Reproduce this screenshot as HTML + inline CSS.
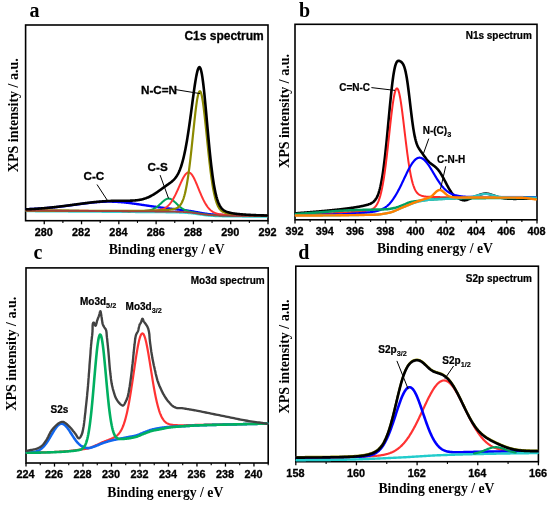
<!DOCTYPE html>
<html><head><meta charset="utf-8"><style>html,body{margin:0;padding:0;background:#fff;overflow:hidden}svg{display:block;will-change:transform}</style></head>
<body><svg width="550" height="507" viewBox="0 0 550 507"><rect x="0" y="0" width="550" height="507" fill="#fff"/>
<rect x="25.6" y="25.0" width="242.4" height="195.7" fill="none" stroke="#000" stroke-width="1.6"/>
<line x1="44.246153846153845" y1="220.7" x2="44.246153846153845" y2="224.29999999999998" stroke="#000" stroke-width="1.3"/>
<text x="0" y="0" transform="translate(43.85,236.3) scale(1.035,1)" font-family='"Liberation Sans", sans-serif' font-size="10.5" font-weight="bold" text-anchor="middle" stroke="#000" stroke-width="0.3" >280</text>
<line x1="81.53846153846155" y1="220.7" x2="81.53846153846155" y2="224.29999999999998" stroke="#000" stroke-width="1.3"/>
<text x="0" y="0" transform="translate(81.14,236.3) scale(1.035,1)" font-family='"Liberation Sans", sans-serif' font-size="10.5" font-weight="bold" text-anchor="middle" stroke="#000" stroke-width="0.3" >282</text>
<line x1="118.83076923076925" y1="220.7" x2="118.83076923076925" y2="224.29999999999998" stroke="#000" stroke-width="1.3"/>
<text x="0" y="0" transform="translate(118.43,236.3) scale(1.035,1)" font-family='"Liberation Sans", sans-serif' font-size="10.5" font-weight="bold" text-anchor="middle" stroke="#000" stroke-width="0.3" >284</text>
<line x1="156.12307692307692" y1="220.7" x2="156.12307692307692" y2="224.29999999999998" stroke="#000" stroke-width="1.3"/>
<text x="0" y="0" transform="translate(155.72,236.3) scale(1.035,1)" font-family='"Liberation Sans", sans-serif' font-size="10.5" font-weight="bold" text-anchor="middle" stroke="#000" stroke-width="0.3" >286</text>
<line x1="193.41538461538462" y1="220.7" x2="193.41538461538462" y2="224.29999999999998" stroke="#000" stroke-width="1.3"/>
<text x="0" y="0" transform="translate(193.02,236.3) scale(1.035,1)" font-family='"Liberation Sans", sans-serif' font-size="10.5" font-weight="bold" text-anchor="middle" stroke="#000" stroke-width="0.3" >288</text>
<line x1="230.70769230769233" y1="220.7" x2="230.70769230769233" y2="224.29999999999998" stroke="#000" stroke-width="1.3"/>
<text x="0" y="0" transform="translate(230.31,236.3) scale(1.035,1)" font-family='"Liberation Sans", sans-serif' font-size="10.5" font-weight="bold" text-anchor="middle" stroke="#000" stroke-width="0.3" >290</text>
<line x1="268.0" y1="220.7" x2="268.0" y2="224.29999999999998" stroke="#000" stroke-width="1.3"/>
<text x="0" y="0" transform="translate(267.6,236.3) scale(1.035,1)" font-family='"Liberation Sans", sans-serif' font-size="10.5" font-weight="bold" text-anchor="middle" stroke="#000" stroke-width="0.3" >292</text>
<line x1="62.892307692307696" y1="220.7" x2="62.892307692307696" y2="222.89999999999998" stroke="#000" stroke-width="1.1"/>
<line x1="100.1846153846154" y1="220.7" x2="100.1846153846154" y2="222.89999999999998" stroke="#000" stroke-width="1.1"/>
<line x1="137.47692307692307" y1="220.7" x2="137.47692307692307" y2="222.89999999999998" stroke="#000" stroke-width="1.1"/>
<line x1="174.76923076923077" y1="220.7" x2="174.76923076923077" y2="222.89999999999998" stroke="#000" stroke-width="1.1"/>
<line x1="212.06153846153848" y1="220.7" x2="212.06153846153848" y2="222.89999999999998" stroke="#000" stroke-width="1.1"/>
<line x1="249.35384615384615" y1="220.7" x2="249.35384615384615" y2="222.89999999999998" stroke="#000" stroke-width="1.1"/>
<path d="M26.4,211.51 L26.9,211.51 L27.4,211.52 L27.9,211.52 L28.4,211.53 L28.9,211.53 L29.4,211.53 L29.9,211.54 L30.4,211.54 L30.9,211.54 L31.4,211.55 L31.9,211.55 L32.4,211.56 L32.9,211.56 L33.4,211.56 L33.9,211.57 L34.4,211.57 L34.9,211.57 L35.4,211.58 L35.9,211.58 L36.4,211.59 L36.9,211.59 L37.4,211.59 L37.9,211.60 L38.4,211.60 L38.9,211.60 L39.4,211.61 L39.9,211.61 L40.4,211.62 L40.9,211.62 L41.4,211.62 L41.9,211.63 L42.4,211.63 L42.9,211.63 L43.4,211.64 L43.9,211.64 L44.4,211.65 L44.9,211.65 L45.4,211.65 L45.9,211.66 L46.4,211.66 L46.9,211.66 L47.4,211.67 L47.9,211.67 L48.4,211.68 L48.9,211.68 L49.4,211.68 L49.9,211.69 L50.4,211.69 L50.9,211.69 L51.4,211.70 L51.9,211.70 L52.4,211.71 L52.9,211.71 L53.4,211.71 L53.9,211.72 L54.4,211.72 L54.9,211.72 L55.4,211.73 L55.9,211.73 L56.4,211.74 L56.9,211.74 L57.4,211.74 L57.9,211.75 L58.4,211.75 L58.9,211.75 L59.4,211.76 L59.9,211.76 L60.4,211.77 L60.9,211.77 L61.4,211.77 L61.9,211.78 L62.4,211.78 L62.9,211.78 L63.4,211.79 L63.9,211.79 L64.4,211.80 L64.9,211.80 L65.4,211.80 L65.9,211.81 L66.4,211.81 L66.9,211.81 L67.4,211.82 L67.9,211.82 L68.4,211.83 L68.9,211.83 L69.4,211.83 L69.9,211.84 L70.4,211.84 L70.9,211.84 L71.4,211.85 L71.9,211.85 L72.4,211.86 L72.9,211.86 L73.4,211.86 L73.9,211.87 L74.4,211.87 L74.9,211.87 L75.4,211.88 L75.9,211.88 L76.4,211.89 L76.9,211.89 L77.4,211.89 L77.9,211.90 L78.4,211.90 L78.9,211.90 L79.4,211.91 L79.9,211.91 L80.4,211.92 L80.9,211.92 L81.4,211.92 L81.9,211.93 L82.4,211.93 L82.9,211.93 L83.4,211.94 L83.9,211.94 L84.4,211.95 L84.9,211.95 L85.4,211.95 L85.9,211.96 L86.4,211.96 L86.9,211.96 L87.4,211.97 L87.9,211.97 L88.4,211.98 L88.9,211.98 L89.4,211.98 L89.9,211.99 L90.4,211.99 L90.9,211.99 L91.4,212.00 L91.9,212.00 L92.4,212.01 L92.9,212.01 L93.4,212.01 L93.9,212.02 L94.4,212.02 L94.9,212.02 L95.4,212.03 L95.9,212.03 L96.4,212.04 L96.9,212.04 L97.4,212.04 L97.9,212.05 L98.4,212.05 L98.9,212.05 L99.4,212.06 L99.9,212.06 L100.4,212.07 L100.9,212.07 L101.4,212.07 L101.9,212.08 L102.4,212.08 L102.9,212.08 L103.4,212.09 L103.9,212.09 L104.4,212.10 L104.9,212.10 L105.4,212.10 L105.9,212.11 L106.4,212.11 L106.9,212.11 L107.4,212.12 L107.9,212.12 L108.4,212.13 L108.9,212.13 L109.4,212.13 L109.9,212.14 L110.4,212.14 L110.9,212.14 L111.4,212.15 L111.9,212.15 L112.4,212.16 L112.9,212.16 L113.4,212.16 L113.9,212.17 L114.4,212.17 L114.9,212.17 L115.4,212.18 L115.9,212.18 L116.4,212.19 L116.9,212.19 L117.4,212.19 L117.9,212.20 L118.4,212.20 L118.9,212.20 L119.4,212.21 L119.9,212.21 L120.4,212.22 L120.9,212.22 L121.4,212.22 L121.9,212.23 L122.4,212.23 L122.9,212.23 L123.4,212.24 L123.9,212.24 L124.4,212.25 L124.9,212.25 L125.4,212.25 L125.9,212.26 L126.4,212.26 L126.9,212.26 L127.4,212.27 L127.9,212.27 L128.4,212.28 L128.9,212.28 L129.4,212.28 L129.9,212.29 L130.4,212.29 L130.9,212.29 L131.4,212.30 L131.9,212.30 L132.4,212.31 L132.9,212.31 L133.4,212.31 L133.9,212.32 L134.4,212.32 L134.9,212.32 L135.4,212.33 L135.9,212.33 L136.4,212.34 L136.9,212.34 L137.4,212.34 L137.9,212.35 L138.4,212.35 L138.9,212.35 L139.4,212.36 L139.9,212.36 L140.4,212.37 L140.9,212.37 L141.4,212.37 L141.9,212.38 L142.4,212.38 L142.9,212.38 L143.4,212.39 L143.9,212.39 L144.4,212.40 L144.9,212.40 L145.4,212.40 L145.9,212.41 L146.4,212.41 L146.9,212.42 L147.4,212.42 L147.9,212.42 L148.4,212.43 L148.9,212.43 L149.4,212.43 L149.9,212.44 L150.4,212.44 L150.9,212.45 L151.4,212.45 L151.9,212.45 L152.4,212.46 L152.9,212.46 L153.4,212.47 L153.9,212.47 L154.4,212.47 L154.9,212.48 L155.4,212.48 L155.9,212.49 L156.4,212.49 L156.9,212.49 L157.4,212.50 L157.9,212.50 L158.4,212.51 L158.9,212.51 L159.4,212.52 L159.9,212.52 L160.4,212.53 L160.9,212.53 L161.4,212.53 L161.9,212.54 L162.4,212.54 L162.9,212.55 L163.4,212.55 L163.9,212.56 L164.4,212.56 L164.9,212.57 L165.4,212.57 L165.9,212.58 L166.4,212.58 L166.9,212.59 L167.4,212.60 L167.9,212.60 L168.4,212.61 L168.9,212.61 L169.4,212.62 L169.9,212.63 L170.4,212.64 L170.9,212.64 L171.4,212.65 L171.9,212.66 L172.4,212.67 L172.9,212.67 L173.4,212.68 L173.9,212.69 L174.4,212.70 L174.9,212.71 L175.4,212.72 L175.9,212.73 L176.4,212.75 L176.9,212.76 L177.4,212.77 L177.9,212.79 L178.4,212.80 L178.9,212.81 L179.4,212.83 L179.9,212.85 L180.4,212.87 L180.9,212.88 L181.4,212.90 L181.9,212.93 L182.4,212.95 L182.9,212.97 L183.4,213.00 L183.9,213.02 L184.4,213.05 L184.9,213.08 L185.4,213.11 L185.9,213.14 L186.4,213.18 L186.9,213.21 L187.4,213.25 L187.9,213.29 L188.4,213.33 L188.9,213.38 L189.4,213.42 L189.9,213.47 L190.4,213.52 L190.9,213.57 L191.4,213.62 L191.9,213.68 L192.4,213.74 L192.9,213.80 L193.4,213.86 L193.9,213.93 L194.4,213.99 L194.9,214.06 L195.4,214.13 L195.9,214.20 L196.4,214.27 L196.9,214.34 L197.4,214.42 L197.9,214.49 L198.4,214.57 L198.9,214.64 L199.4,214.71 L199.9,214.79 L200.4,214.86 L200.9,214.94 L201.4,215.01 L201.9,215.08 L202.4,215.15 L202.9,215.22 L203.4,215.29 L203.9,215.36 L204.4,215.42 L204.9,215.49 L205.4,215.55 L205.9,215.61 L206.4,215.66 L206.9,215.72 L207.4,215.77 L207.9,215.82 L208.4,215.87 L208.9,215.92 L209.4,215.96 L209.9,216.00 L210.4,216.04 L210.9,216.08 L211.4,216.12 L211.9,216.15 L212.4,216.19 L212.9,216.22 L213.4,216.25 L213.9,216.28 L214.4,216.30 L214.9,216.33 L215.4,216.35 L215.9,216.38 L216.4,216.40 L216.9,216.42 L217.4,216.44 L217.9,216.46 L218.4,216.47 L218.9,216.49 L219.4,216.50 L219.9,216.52 L220.4,216.53 L220.9,216.55 L221.4,216.56 L221.9,216.57 L222.4,216.58 L222.9,216.59 L223.4,216.60 L223.9,216.61 L224.4,216.62 L224.9,216.63 L225.4,216.64 L225.9,216.65 L226.4,216.66 L226.9,216.66 L227.4,216.67 L227.9,216.68 L228.4,216.69 L228.9,216.69 L229.4,216.70 L229.9,216.71 L230.4,216.71 L230.9,216.72 L231.4,216.72 L231.9,216.73 L232.4,216.73 L232.9,216.74 L233.4,216.74 L233.9,216.75 L234.4,216.75 L234.9,216.76 L235.4,216.76 L235.9,216.77 L236.4,216.77 L236.9,216.78 L237.4,216.78 L237.9,216.79 L238.4,216.79 L238.9,216.80 L239.4,216.80 L239.9,216.80 L240.4,216.81 L240.9,216.81 L241.4,216.82 L241.9,216.82 L242.4,216.83 L242.9,216.83 L243.4,216.83 L243.9,216.84 L244.4,216.84 L244.9,216.85 L245.4,216.85 L245.9,216.85 L246.4,216.86 L246.9,216.86 L247.4,216.87 L247.9,216.87 L248.4,216.87 L248.9,216.88 L249.4,216.88 L249.9,216.89 L250.4,216.89 L250.9,216.89 L251.4,216.90 L251.9,216.90 L252.4,216.90 L252.9,216.91 L253.4,216.91 L253.9,216.92 L254.4,216.92 L254.9,216.92 L255.4,216.93 L255.9,216.93 L256.4,216.93 L256.9,216.94 L257.4,216.94 L257.9,216.95 L258.4,216.95 L258.9,216.95 L259.4,216.96 L259.9,216.96 L260.4,216.97 L260.9,216.97 L261.4,216.97 L261.9,216.98 L262.4,216.98 L262.9,216.98 L263.4,216.99 L263.9,216.99 L264.4,217.00 L264.9,217.00 L265.4,217.00 L265.9,217.01 L266.4,217.01 L266.9,217.01" fill="none" stroke="#33d6d6" stroke-width="1.6" stroke-linejoin="round" stroke-linecap="round" />
<path d="M26.4,209.20 L26.9,209.18 L27.4,209.16 L27.9,209.14 L28.4,209.12 L28.9,209.10 L29.4,209.07 L29.9,209.05 L30.4,209.03 L30.9,209.01 L31.4,208.98 L31.9,208.96 L32.4,208.93 L32.9,208.91 L33.4,208.88 L33.9,208.85 L34.4,208.83 L34.9,208.80 L35.4,208.77 L35.9,208.74 L36.4,208.71 L36.9,208.68 L37.4,208.65 L37.9,208.62 L38.4,208.59 L38.9,208.56 L39.4,208.53 L39.9,208.49 L40.4,208.46 L40.9,208.42 L41.4,208.39 L41.9,208.35 L42.4,208.32 L42.9,208.28 L43.4,208.24 L43.9,208.20 L44.4,208.17 L44.9,208.13 L45.4,208.09 L45.9,208.05 L46.4,208.00 L46.9,207.96 L47.4,207.92 L47.9,207.88 L48.4,207.83 L48.9,207.79 L49.4,207.74 L49.9,207.70 L50.4,207.65 L50.9,207.61 L51.4,207.56 L51.9,207.51 L52.4,207.46 L52.9,207.41 L53.4,207.36 L53.9,207.31 L54.4,207.26 L54.9,207.21 L55.4,207.16 L55.9,207.10 L56.4,207.05 L56.9,207.00 L57.4,206.94 L57.9,206.89 L58.4,206.83 L58.9,206.78 L59.4,206.72 L59.9,206.66 L60.4,206.60 L60.9,206.55 L61.4,206.49 L61.9,206.43 L62.4,206.37 L62.9,206.31 L63.4,206.25 L63.9,206.19 L64.4,206.12 L64.9,206.06 L65.4,206.00 L65.9,205.94 L66.4,205.87 L66.9,205.81 L67.4,205.75 L67.9,205.68 L68.4,205.62 L68.9,205.55 L69.4,205.49 L69.9,205.42 L70.4,205.36 L70.9,205.29 L71.4,205.22 L71.9,205.16 L72.4,205.09 L72.9,205.02 L73.4,204.96 L73.9,204.89 L74.4,204.82 L74.9,204.76 L75.4,204.69 L75.9,204.62 L76.4,204.55 L76.9,204.49 L77.4,204.42 L77.9,204.35 L78.4,204.29 L78.9,204.22 L79.4,204.15 L79.9,204.09 L80.4,204.02 L80.9,203.95 L81.4,203.89 L81.9,203.82 L82.4,203.76 L82.9,203.69 L83.4,203.63 L83.9,203.56 L84.4,203.50 L84.9,203.44 L85.4,203.37 L85.9,203.31 L86.4,203.25 L86.9,203.19 L87.4,203.13 L87.9,203.07 L88.4,203.01 L88.9,202.95 L89.4,202.89 L89.9,202.84 L90.4,202.78 L90.9,202.73 L91.4,202.67 L91.9,202.62 L92.4,202.57 L92.9,202.52 L93.4,202.47 L93.9,202.42 L94.4,202.37 L94.9,202.32 L95.4,202.28 L95.9,202.24 L96.4,202.19 L96.9,202.15 L97.4,202.11 L97.9,202.07 L98.4,202.04 L98.9,202.00 L99.4,201.97 L99.9,201.93 L100.4,201.90 L100.9,201.87 L101.4,201.84 L101.9,201.82 L102.4,201.79 L102.9,201.77 L103.4,201.75 L103.9,201.73 L104.4,201.71 L104.9,201.70 L105.4,201.68 L105.9,201.67 L106.4,201.66 L106.9,201.65 L107.4,201.64 L107.9,201.64 L108.4,201.64 L108.9,201.63 L109.4,201.63 L109.9,201.64 L110.4,201.64 L110.9,201.65 L111.4,201.66 L111.9,201.67 L112.4,201.68 L112.9,201.69 L113.4,201.71 L113.9,201.72 L114.4,201.74 L114.9,201.76 L115.4,201.79 L115.9,201.81 L116.4,201.84 L116.9,201.87 L117.4,201.90 L117.9,201.93 L118.4,201.96 L118.9,201.99 L119.4,202.03 L119.9,202.07 L120.4,202.11 L120.9,202.15 L121.4,202.19 L121.9,202.24 L122.4,202.28 L122.9,202.33 L123.4,202.38 L123.9,202.43 L124.4,202.48 L124.9,202.53 L125.4,202.58 L125.9,202.64 L126.4,202.69 L126.9,202.75 L127.4,202.81 L127.9,202.87 L128.4,202.93 L128.9,202.99 L129.4,203.05 L129.9,203.11 L130.4,203.18 L130.9,203.24 L131.4,203.31 L131.9,203.37 L132.4,203.44 L132.9,203.51 L133.4,203.58 L133.9,203.65 L134.4,203.71 L134.9,203.78 L135.4,203.86 L135.9,203.93 L136.4,204.00 L136.9,204.07 L137.4,204.14 L137.9,204.21 L138.4,204.29 L138.9,204.36 L139.4,204.43 L139.9,204.51 L140.4,204.58 L140.9,204.66 L141.4,204.73 L141.9,204.81 L142.4,204.88 L142.9,204.95 L143.4,205.03 L143.9,205.10 L144.4,205.18 L144.9,205.25 L145.4,205.33 L145.9,205.40 L146.4,205.48 L146.9,205.55 L147.4,205.63 L147.9,205.70 L148.4,205.78 L148.9,205.85 L149.4,205.92 L149.9,206.00 L150.4,206.07 L150.9,206.14 L151.4,206.22 L151.9,206.29 L152.4,206.36 L152.9,206.43 L153.4,206.50 L153.9,206.57 L154.4,206.64 L154.9,206.72 L155.4,206.79 L155.9,206.85 L156.4,206.92 L156.9,206.99 L157.4,207.06 L157.9,207.13 L158.4,207.20 L158.9,207.26 L159.4,207.33 L159.9,207.40 L160.4,207.46 L160.9,207.53 L161.4,207.59 L161.9,207.66 L162.4,207.72 L162.9,207.78 L163.4,207.85 L163.9,207.91 L164.4,207.97 L164.9,208.03 L165.4,208.09 L165.9,208.15 L166.4,208.21 L166.9,208.27 L167.4,208.33 L167.9,208.39 L168.4,208.45 L168.9,208.51 L169.4,208.56 L169.9,208.62 L170.4,208.68 L170.9,208.73 L171.4,208.79 L171.9,208.84 L172.4,208.90 L172.9,208.96 L173.4,209.01 L173.9,209.06 L174.4,209.12 L174.9,209.17 L175.4,209.23 L175.9,209.28 L176.4,209.33 L176.9,209.39 L177.4,209.44 L177.9,209.50 L178.4,209.55 L178.9,209.60 L179.4,209.66 L179.9,209.71 L180.4,209.77 L180.9,209.82 L181.4,209.88 L181.9,209.94 L182.4,209.99 L182.9,210.05 L183.4,210.11 L183.9,210.17 L184.4,210.23 L184.9,210.29 L185.4,210.35 L185.9,210.42 L186.4,210.48 L186.9,210.55 L187.4,210.62 L187.9,210.68 L188.4,210.75 L188.9,210.83 L189.4,210.90 L189.9,210.97 L190.4,211.05 L190.9,211.13 L191.4,211.21 L191.9,211.29 L192.4,211.37 L192.9,211.46 L193.4,211.54 L193.9,211.63 L194.4,211.72 L194.9,211.81 L195.4,211.90 L195.9,211.99 L196.4,212.08 L196.9,212.17 L197.4,212.27 L197.9,212.36 L198.4,212.46 L198.9,212.55 L199.4,212.64 L199.9,212.74 L200.4,212.83 L200.9,212.92 L201.4,213.01 L201.9,213.10 L202.4,213.18 L202.9,213.27 L203.4,213.35 L203.9,213.43 L204.4,213.51 L204.9,213.59 L205.4,213.67 L205.9,213.74 L206.4,213.81 L206.9,213.88 L207.4,213.95 L207.9,214.01 L208.4,214.07 L208.9,214.13 L209.4,214.19 L209.9,214.24 L210.4,214.29 L210.9,214.34 L211.4,214.39 L211.9,214.44 L212.4,214.48 L212.9,214.52 L213.4,214.56 L213.9,214.60 L214.4,214.63 L214.9,214.67 L215.4,214.70 L215.9,214.73 L216.4,214.76 L216.9,214.79 L217.4,214.82 L217.9,214.85 L218.4,214.87 L218.9,214.90 L219.4,214.92 L219.9,214.94 L220.4,214.96 L220.9,214.98 L221.4,215.00 L221.9,215.02 L222.4,215.04 L222.9,215.06 L223.4,215.08 L223.9,215.09 L224.4,215.11 L224.9,215.12 L225.4,215.14 L225.9,215.15 L226.4,215.16 L226.9,215.18 L227.4,215.19 L227.9,215.20 L228.4,215.22 L228.9,215.23 L229.4,215.24 L229.9,215.25 L230.4,215.26 L230.9,215.27 L231.4,215.28 L231.9,215.29 L232.4,215.30 L232.9,215.31 L233.4,215.32 L233.9,215.33 L234.4,215.34 L234.9,215.35 L235.4,215.36 L235.9,215.37 L236.4,215.37 L236.9,215.38 L237.4,215.39 L237.9,215.40 L238.4,215.41 L238.9,215.41 L239.4,215.42 L239.9,215.43 L240.4,215.44 L240.9,215.44 L241.4,215.45 L241.9,215.46 L242.4,215.47 L242.9,215.47 L243.4,215.48 L243.9,215.49 L244.4,215.49 L244.9,215.50 L245.4,215.51 L245.9,215.51 L246.4,215.52 L246.9,215.53 L247.4,215.53 L247.9,215.54 L248.4,215.55 L248.9,215.55 L249.4,215.56 L249.9,215.57 L250.4,215.57 L250.9,215.58 L251.4,215.58 L251.9,215.59 L252.4,215.60 L252.9,215.60 L253.4,215.61 L253.9,215.61 L254.4,215.62 L254.9,215.63 L255.4,215.63 L255.9,215.64 L256.4,215.64 L256.9,215.65 L257.4,215.66 L257.9,215.66 L258.4,215.67 L258.9,215.67 L259.4,215.68 L259.9,215.68 L260.4,215.69 L260.9,215.69 L261.4,215.70 L261.9,215.71 L262.4,215.71 L262.9,215.72 L263.4,215.72 L263.9,215.73 L264.4,215.73 L264.9,215.74 L265.4,215.74 L265.9,215.75 L266.4,215.75 L266.9,215.76" fill="none" stroke="#0000ff" stroke-width="2.4" stroke-linejoin="round" stroke-linecap="round" />
<path d="M26.4,210.50 L26.9,210.50 L27.4,210.51 L27.9,210.51 L28.4,210.51 L28.9,210.52 L29.4,210.52 L29.9,210.52 L30.4,210.53 L30.9,210.53 L31.4,210.53 L31.9,210.54 L32.4,210.54 L32.9,210.55 L33.4,210.55 L33.9,210.55 L34.4,210.56 L34.9,210.56 L35.4,210.56 L35.9,210.57 L36.4,210.57 L36.9,210.57 L37.4,210.58 L37.9,210.58 L38.4,210.59 L38.9,210.59 L39.4,210.59 L39.9,210.60 L40.4,210.60 L40.9,210.60 L41.4,210.61 L41.9,210.61 L42.4,210.61 L42.9,210.62 L43.4,210.62 L43.9,210.63 L44.4,210.63 L44.9,210.63 L45.4,210.64 L45.9,210.64 L46.4,210.64 L46.9,210.65 L47.4,210.65 L47.9,210.65 L48.4,210.66 L48.9,210.66 L49.4,210.67 L49.9,210.67 L50.4,210.67 L50.9,210.68 L51.4,210.68 L51.9,210.68 L52.4,210.69 L52.9,210.69 L53.4,210.69 L53.9,210.70 L54.4,210.70 L54.9,210.70 L55.4,210.71 L55.9,210.71 L56.4,210.72 L56.9,210.72 L57.4,210.72 L57.9,210.73 L58.4,210.73 L58.9,210.73 L59.4,210.74 L59.9,210.74 L60.4,210.74 L60.9,210.75 L61.4,210.75 L61.9,210.75 L62.4,210.76 L62.9,210.76 L63.4,210.76 L63.9,210.77 L64.4,210.77 L64.9,210.78 L65.4,210.78 L65.9,210.78 L66.4,210.79 L66.9,210.79 L67.4,210.79 L67.9,210.80 L68.4,210.80 L68.9,210.80 L69.4,210.81 L69.9,210.81 L70.4,210.81 L70.9,210.82 L71.4,210.82 L71.9,210.82 L72.4,210.83 L72.9,210.83 L73.4,210.83 L73.9,210.84 L74.4,210.84 L74.9,210.85 L75.4,210.85 L75.9,210.85 L76.4,210.86 L76.9,210.86 L77.4,210.86 L77.9,210.87 L78.4,210.87 L78.9,210.87 L79.4,210.88 L79.9,210.88 L80.4,210.88 L80.9,210.89 L81.4,210.89 L81.9,210.89 L82.4,210.90 L82.9,210.90 L83.4,210.90 L83.9,210.91 L84.4,210.91 L84.9,210.91 L85.4,210.92 L85.9,210.92 L86.4,210.92 L86.9,210.93 L87.4,210.93 L87.9,210.93 L88.4,210.94 L88.9,210.94 L89.4,210.94 L89.9,210.95 L90.4,210.95 L90.9,210.95 L91.4,210.96 L91.9,210.96 L92.4,210.96 L92.9,210.97 L93.4,210.97 L93.9,210.97 L94.4,210.97 L94.9,210.98 L95.4,210.98 L95.9,210.98 L96.4,210.99 L96.9,210.99 L97.4,210.99 L97.9,211.00 L98.4,211.00 L98.9,211.00 L99.4,211.01 L99.9,211.01 L100.4,211.01 L100.9,211.01 L101.4,211.02 L101.9,211.02 L102.4,211.02 L102.9,211.03 L103.4,211.03 L103.9,211.03 L104.4,211.03 L104.9,211.04 L105.4,211.04 L105.9,211.04 L106.4,211.05 L106.9,211.05 L107.4,211.05 L107.9,211.05 L108.4,211.06 L108.9,211.06 L109.4,211.06 L109.9,211.06 L110.4,211.07 L110.9,211.07 L111.4,211.07 L111.9,211.07 L112.4,211.08 L112.9,211.08 L113.4,211.08 L113.9,211.08 L114.4,211.09 L114.9,211.09 L115.4,211.09 L115.9,211.09 L116.4,211.09 L116.9,211.10 L117.4,211.10 L117.9,211.10 L118.4,211.10 L118.9,211.10 L119.4,211.11 L119.9,211.11 L120.4,211.11 L120.9,211.11 L121.4,211.11 L121.9,211.11 L122.4,211.12 L122.9,211.12 L123.4,211.12 L123.9,211.12 L124.4,211.12 L124.9,211.12 L125.4,211.12 L125.9,211.12 L126.4,211.12 L126.9,211.12 L127.4,211.12 L127.9,211.13 L128.4,211.13 L128.9,211.13 L129.4,211.13 L129.9,211.13 L130.4,211.13 L130.9,211.12 L131.4,211.12 L131.9,211.12 L132.4,211.12 L132.9,211.12 L133.4,211.12 L133.9,211.12 L134.4,211.12 L134.9,211.11 L135.4,211.11 L135.9,211.11 L136.4,211.11 L136.9,211.10 L137.4,211.10 L137.9,211.09 L138.4,211.09 L138.9,211.08 L139.4,211.07 L139.9,211.06 L140.4,211.05 L140.9,211.04 L141.4,211.03 L141.9,211.02 L142.4,211.00 L142.9,210.98 L143.4,210.96 L143.9,210.93 L144.4,210.91 L144.9,210.87 L145.4,210.84 L145.9,210.79 L146.4,210.75 L146.9,210.69 L147.4,210.63 L147.9,210.56 L148.4,210.48 L148.9,210.39 L149.4,210.29 L149.9,210.17 L150.4,210.05 L150.9,209.91 L151.4,209.75 L151.9,209.58 L152.4,209.40 L152.9,209.19 L153.4,208.97 L153.9,208.73 L154.4,208.47 L154.9,208.18 L155.4,207.88 L155.9,207.56 L156.4,207.22 L156.9,206.86 L157.4,206.48 L157.9,206.08 L158.4,205.67 L158.9,205.24 L159.4,204.80 L159.9,204.35 L160.4,203.89 L160.9,203.43 L161.4,202.97 L161.9,202.51 L162.4,202.05 L162.9,201.60 L163.4,201.17 L163.9,200.75 L164.4,200.36 L164.9,200.00 L165.4,199.67 L165.9,199.38 L166.4,199.12 L166.9,198.92 L167.4,198.76 L167.9,198.65 L168.4,198.60 L168.9,198.60 L169.4,198.65 L169.9,198.76 L170.4,198.92 L170.9,199.13 L171.4,199.39 L171.9,199.69 L172.4,200.03 L172.9,200.40 L173.4,200.80 L173.9,201.22 L174.4,201.67 L174.9,202.13 L175.4,202.60 L175.9,203.07 L176.4,203.56 L176.9,204.04 L177.4,204.51 L177.9,204.98 L178.4,205.44 L178.9,205.89 L179.4,206.33 L179.9,206.75 L180.4,207.15 L180.9,207.54 L181.4,207.91 L181.9,208.26 L182.4,208.59 L182.9,208.91 L183.4,209.20 L183.9,209.48 L184.4,209.74 L184.9,209.98 L185.4,210.20 L185.9,210.41 L186.4,210.61 L186.9,210.79 L187.4,210.96 L187.9,211.12 L188.4,211.27 L188.9,211.41 L189.4,211.54 L189.9,211.66 L190.4,211.78 L190.9,211.89 L191.4,212.00 L191.9,212.10 L192.4,212.21 L192.9,212.30 L193.4,212.40 L193.9,212.49 L194.4,212.58 L194.9,212.67 L195.4,212.76 L195.9,212.85 L196.4,212.94 L196.9,213.03 L197.4,213.12 L197.9,213.20 L198.4,213.29 L198.9,213.37 L199.4,213.46 L199.9,213.54 L200.4,213.62 L200.9,213.71 L201.4,213.79 L201.9,213.86 L202.4,213.94 L202.9,214.02 L203.4,214.09 L203.9,214.16 L204.4,214.23 L204.9,214.30 L205.4,214.37 L205.9,214.43 L206.4,214.49 L206.9,214.55 L207.4,214.61 L207.9,214.66 L208.4,214.72 L208.9,214.77 L209.4,214.81 L209.9,214.86 L210.4,214.90 L210.9,214.95 L211.4,214.99 L211.9,215.02 L212.4,215.06 L212.9,215.09 L213.4,215.13 L213.9,215.16 L214.4,215.19 L214.9,215.21 L215.4,215.24 L215.9,215.26 L216.4,215.29 L216.9,215.31 L217.4,215.33 L217.9,215.35 L218.4,215.37 L218.9,215.39 L219.4,215.41 L219.9,215.42 L220.4,215.44 L220.9,215.45 L221.4,215.47 L221.9,215.48 L222.4,215.50 L222.9,215.51 L223.4,215.52 L223.9,215.53 L224.4,215.54 L224.9,215.55 L225.4,215.56 L225.9,215.57 L226.4,215.58 L226.9,215.59 L227.4,215.60 L227.9,215.61 L228.4,215.62 L228.9,215.62 L229.4,215.63 L229.9,215.64 L230.4,215.65 L230.9,215.65 L231.4,215.66 L231.9,215.67 L232.4,215.67 L232.9,215.68 L233.4,215.68 L233.9,215.69 L234.4,215.70 L234.9,215.70 L235.4,215.71 L235.9,215.71 L236.4,215.72 L236.9,215.72 L237.4,215.73 L237.9,215.73 L238.4,215.74 L238.9,215.74 L239.4,215.75 L239.9,215.75 L240.4,215.76 L240.9,215.76 L241.4,215.77 L241.9,215.77 L242.4,215.78 L242.9,215.78 L243.4,215.79 L243.9,215.79 L244.4,215.80 L244.9,215.80 L245.4,215.81 L245.9,215.81 L246.4,215.82 L246.9,215.82 L247.4,215.82 L247.9,215.83 L248.4,215.83 L248.9,215.84 L249.4,215.84 L249.9,215.85 L250.4,215.85 L250.9,215.86 L251.4,215.86 L251.9,215.86 L252.4,215.87 L252.9,215.87 L253.4,215.88 L253.9,215.88 L254.4,215.89 L254.9,215.89 L255.4,215.89 L255.9,215.90 L256.4,215.90 L256.9,215.91 L257.4,215.91 L257.9,215.91 L258.4,215.92 L258.9,215.92 L259.4,215.93 L259.9,215.93 L260.4,215.93 L260.9,215.94 L261.4,215.94 L261.9,215.95 L262.4,215.95 L262.9,215.96 L263.4,215.96 L263.9,215.96 L264.4,215.97 L264.9,215.97 L265.4,215.98 L265.9,215.98 L266.4,215.98 L266.9,215.99" fill="none" stroke="#00a35a" stroke-width="2.0" stroke-linejoin="round" stroke-linecap="round" />
<path d="M26.4,210.47 L26.9,210.47 L27.4,210.48 L27.9,210.48 L28.4,210.48 L28.9,210.49 L29.4,210.49 L29.9,210.50 L30.4,210.50 L30.9,210.50 L31.4,210.51 L31.9,210.51 L32.4,210.51 L32.9,210.52 L33.4,210.52 L33.9,210.52 L34.4,210.53 L34.9,210.53 L35.4,210.53 L35.9,210.54 L36.4,210.54 L36.9,210.54 L37.4,210.55 L37.9,210.55 L38.4,210.55 L38.9,210.56 L39.4,210.56 L39.9,210.56 L40.4,210.57 L40.9,210.57 L41.4,210.57 L41.9,210.58 L42.4,210.58 L42.9,210.59 L43.4,210.59 L43.9,210.59 L44.4,210.60 L44.9,210.60 L45.4,210.60 L45.9,210.61 L46.4,210.61 L46.9,210.61 L47.4,210.62 L47.9,210.62 L48.4,210.62 L48.9,210.63 L49.4,210.63 L49.9,210.63 L50.4,210.64 L50.9,210.64 L51.4,210.64 L51.9,210.65 L52.4,210.65 L52.9,210.65 L53.4,210.66 L53.9,210.66 L54.4,210.66 L54.9,210.67 L55.4,210.67 L55.9,210.67 L56.4,210.68 L56.9,210.68 L57.4,210.68 L57.9,210.69 L58.4,210.69 L58.9,210.69 L59.4,210.70 L59.9,210.70 L60.4,210.70 L60.9,210.71 L61.4,210.71 L61.9,210.71 L62.4,210.72 L62.9,210.72 L63.4,210.72 L63.9,210.72 L64.4,210.73 L64.9,210.73 L65.4,210.73 L65.9,210.74 L66.4,210.74 L66.9,210.74 L67.4,210.75 L67.9,210.75 L68.4,210.75 L68.9,210.76 L69.4,210.76 L69.9,210.76 L70.4,210.77 L70.9,210.77 L71.4,210.77 L71.9,210.78 L72.4,210.78 L72.9,210.78 L73.4,210.78 L73.9,210.79 L74.4,210.79 L74.9,210.79 L75.4,210.80 L75.9,210.80 L76.4,210.80 L76.9,210.81 L77.4,210.81 L77.9,210.81 L78.4,210.82 L78.9,210.82 L79.4,210.82 L79.9,210.82 L80.4,210.83 L80.9,210.83 L81.4,210.83 L81.9,210.84 L82.4,210.84 L82.9,210.84 L83.4,210.84 L83.9,210.85 L84.4,210.85 L84.9,210.85 L85.4,210.86 L85.9,210.86 L86.4,210.86 L86.9,210.86 L87.4,210.87 L87.9,210.87 L88.4,210.87 L88.9,210.88 L89.4,210.88 L89.9,210.88 L90.4,210.88 L90.9,210.89 L91.4,210.89 L91.9,210.89 L92.4,210.89 L92.9,210.90 L93.4,210.90 L93.9,210.90 L94.4,210.90 L94.9,210.91 L95.4,210.91 L95.9,210.91 L96.4,210.91 L96.9,210.92 L97.4,210.92 L97.9,210.92 L98.4,210.92 L98.9,210.93 L99.4,210.93 L99.9,210.93 L100.4,210.93 L100.9,210.94 L101.4,210.94 L101.9,210.94 L102.4,210.94 L102.9,210.94 L103.4,210.95 L103.9,210.95 L104.4,210.95 L104.9,210.95 L105.4,210.95 L105.9,210.96 L106.4,210.96 L106.9,210.96 L107.4,210.96 L107.9,210.96 L108.4,210.97 L108.9,210.97 L109.4,210.97 L109.9,210.97 L110.4,210.97 L110.9,210.97 L111.4,210.98 L111.9,210.98 L112.4,210.98 L112.9,210.98 L113.4,210.98 L113.9,210.98 L114.4,210.99 L114.9,210.99 L115.4,210.99 L115.9,210.99 L116.4,210.99 L116.9,210.99 L117.4,210.99 L117.9,210.99 L118.4,210.99 L118.9,211.00 L119.4,211.00 L119.9,211.00 L120.4,211.00 L120.9,211.00 L121.4,211.00 L121.9,211.00 L122.4,211.00 L122.9,211.00 L123.4,211.00 L123.9,211.00 L124.4,211.00 L124.9,211.00 L125.4,211.00 L125.9,211.00 L126.4,211.00 L126.9,211.00 L127.4,211.00 L127.9,211.00 L128.4,211.00 L128.9,211.00 L129.4,211.00 L129.9,211.00 L130.4,210.99 L130.9,210.99 L131.4,210.99 L131.9,210.99 L132.4,210.99 L132.9,210.99 L133.4,210.99 L133.9,210.98 L134.4,210.98 L134.9,210.98 L135.4,210.98 L135.9,210.97 L136.4,210.97 L136.9,210.97 L137.4,210.97 L137.9,210.96 L138.4,210.96 L138.9,210.95 L139.4,210.95 L139.9,210.95 L140.4,210.94 L140.9,210.94 L141.4,210.93 L141.9,210.93 L142.4,210.92 L142.9,210.92 L143.4,210.91 L143.9,210.90 L144.4,210.90 L144.9,210.89 L145.4,210.88 L145.9,210.87 L146.4,210.86 L146.9,210.85 L147.4,210.84 L147.9,210.83 L148.4,210.82 L148.9,210.81 L149.4,210.80 L149.9,210.78 L150.4,210.77 L150.9,210.75 L151.4,210.73 L151.9,210.71 L152.4,210.69 L152.9,210.67 L153.4,210.64 L153.9,210.61 L154.4,210.58 L154.9,210.54 L155.4,210.50 L155.9,210.46 L156.4,210.41 L156.9,210.36 L157.4,210.30 L157.9,210.23 L158.4,210.16 L158.9,210.08 L159.4,209.98 L159.9,209.88 L160.4,209.77 L160.9,209.65 L161.4,209.51 L161.9,209.36 L162.4,209.19 L162.9,209.01 L163.4,208.80 L163.9,208.58 L164.4,208.34 L164.9,208.07 L165.4,207.78 L165.9,207.46 L166.4,207.11 L166.9,206.74 L167.4,206.33 L167.9,205.89 L168.4,205.42 L168.9,204.91 L169.4,204.37 L169.9,203.79 L170.4,203.17 L170.9,202.51 L171.4,201.81 L171.9,201.07 L172.4,200.30 L172.9,199.48 L173.4,198.63 L173.9,197.73 L174.4,196.80 L174.9,195.84 L175.4,194.84 L175.9,193.82 L176.4,192.76 L176.9,191.68 L177.4,190.58 L177.9,189.47 L178.4,188.34 L178.9,187.20 L179.4,186.07 L179.9,184.93 L180.4,183.80 L180.9,182.69 L181.4,181.60 L181.9,180.54 L182.4,179.51 L182.9,178.53 L183.4,177.59 L183.9,176.72 L184.4,175.90 L184.9,175.16 L185.4,174.49 L185.9,173.91 L186.4,173.42 L186.9,173.02 L187.4,172.72 L187.9,172.53 L188.4,172.44 L188.9,172.45 L189.4,172.58 L189.9,172.81 L190.4,173.14 L190.9,173.58 L191.4,174.11 L191.9,174.74 L192.4,175.45 L192.9,176.25 L193.4,177.12 L193.9,178.05 L194.4,179.05 L194.9,180.10 L195.4,181.20 L195.9,182.34 L196.4,183.51 L196.9,184.70 L197.4,185.91 L197.9,187.13 L198.4,188.36 L198.9,189.59 L199.4,190.81 L199.9,192.03 L200.4,193.22 L200.9,194.40 L201.4,195.55 L201.9,196.68 L202.4,197.77 L202.9,198.83 L203.4,199.86 L203.9,200.84 L204.4,201.79 L204.9,202.70 L205.4,203.56 L205.9,204.39 L206.4,205.17 L206.9,205.91 L207.4,206.61 L207.9,207.27 L208.4,207.89 L208.9,208.47 L209.4,209.01 L209.9,209.51 L210.4,209.98 L210.9,210.42 L211.4,210.82 L211.9,211.20 L212.4,211.54 L212.9,211.86 L213.4,212.15 L213.9,212.41 L214.4,212.66 L214.9,212.88 L215.4,213.09 L215.9,213.27 L216.4,213.45 L216.9,213.60 L217.4,213.74 L217.9,213.87 L218.4,213.99 L218.9,214.10 L219.4,214.19 L219.9,214.28 L220.4,214.36 L220.9,214.44 L221.4,214.51 L221.9,214.57 L222.4,214.62 L222.9,214.68 L223.4,214.72 L223.9,214.77 L224.4,214.81 L224.9,214.85 L225.4,214.88 L225.9,214.92 L226.4,214.95 L226.9,214.98 L227.4,215.01 L227.9,215.03 L228.4,215.06 L228.9,215.08 L229.4,215.10 L229.9,215.12 L230.4,215.14 L230.9,215.16 L231.4,215.18 L231.9,215.20 L232.4,215.22 L232.9,215.23 L233.4,215.25 L233.9,215.27 L234.4,215.28 L234.9,215.30 L235.4,215.31 L235.9,215.32 L236.4,215.34 L236.9,215.35 L237.4,215.36 L237.9,215.38 L238.4,215.39 L238.9,215.40 L239.4,215.41 L239.9,215.42 L240.4,215.43 L240.9,215.45 L241.4,215.46 L241.9,215.47 L242.4,215.48 L242.9,215.49 L243.4,215.50 L243.9,215.51 L244.4,215.52 L244.9,215.53 L245.4,215.54 L245.9,215.55 L246.4,215.55 L246.9,215.56 L247.4,215.57 L247.9,215.58 L248.4,215.59 L248.9,215.60 L249.4,215.61 L249.9,215.61 L250.4,215.62 L250.9,215.63 L251.4,215.64 L251.9,215.65 L252.4,215.65 L252.9,215.66 L253.4,215.67 L253.9,215.68 L254.4,215.68 L254.9,215.69 L255.4,215.70 L255.9,215.71 L256.4,215.71 L256.9,215.72 L257.4,215.73 L257.9,215.73 L258.4,215.74 L258.9,215.75 L259.4,215.75 L259.9,215.76 L260.4,215.77 L260.9,215.77 L261.4,215.78 L261.9,215.79 L262.4,215.79 L262.9,215.80 L263.4,215.80 L263.9,215.81 L264.4,215.82 L264.9,215.82 L265.4,215.83 L265.9,215.83 L266.4,215.84 L266.9,215.85" fill="none" stroke="#ff3333" stroke-width="2.0" stroke-linejoin="round" stroke-linecap="round" />
<path d="M26.4,210.45 L26.9,210.45 L27.4,210.46 L27.9,210.46 L28.4,210.46 L28.9,210.47 L29.4,210.47 L29.9,210.47 L30.4,210.48 L30.9,210.48 L31.4,210.48 L31.9,210.49 L32.4,210.49 L32.9,210.49 L33.4,210.50 L33.9,210.50 L34.4,210.50 L34.9,210.51 L35.4,210.51 L35.9,210.51 L36.4,210.52 L36.9,210.52 L37.4,210.52 L37.9,210.53 L38.4,210.53 L38.9,210.53 L39.4,210.54 L39.9,210.54 L40.4,210.54 L40.9,210.55 L41.4,210.55 L41.9,210.55 L42.4,210.56 L42.9,210.56 L43.4,210.56 L43.9,210.57 L44.4,210.57 L44.9,210.57 L45.4,210.58 L45.9,210.58 L46.4,210.58 L46.9,210.59 L47.4,210.59 L47.9,210.59 L48.4,210.60 L48.9,210.60 L49.4,210.60 L49.9,210.61 L50.4,210.61 L50.9,210.61 L51.4,210.61 L51.9,210.62 L52.4,210.62 L52.9,210.62 L53.4,210.63 L53.9,210.63 L54.4,210.63 L54.9,210.64 L55.4,210.64 L55.9,210.64 L56.4,210.65 L56.9,210.65 L57.4,210.65 L57.9,210.66 L58.4,210.66 L58.9,210.66 L59.4,210.66 L59.9,210.67 L60.4,210.67 L60.9,210.67 L61.4,210.68 L61.9,210.68 L62.4,210.68 L62.9,210.69 L63.4,210.69 L63.9,210.69 L64.4,210.70 L64.9,210.70 L65.4,210.70 L65.9,210.70 L66.4,210.71 L66.9,210.71 L67.4,210.71 L67.9,210.72 L68.4,210.72 L68.9,210.72 L69.4,210.73 L69.9,210.73 L70.4,210.73 L70.9,210.73 L71.4,210.74 L71.9,210.74 L72.4,210.74 L72.9,210.75 L73.4,210.75 L73.9,210.75 L74.4,210.75 L74.9,210.76 L75.4,210.76 L75.9,210.76 L76.4,210.77 L76.9,210.77 L77.4,210.77 L77.9,210.77 L78.4,210.78 L78.9,210.78 L79.4,210.78 L79.9,210.78 L80.4,210.79 L80.9,210.79 L81.4,210.79 L81.9,210.79 L82.4,210.80 L82.9,210.80 L83.4,210.80 L83.9,210.81 L84.4,210.81 L84.9,210.81 L85.4,210.81 L85.9,210.82 L86.4,210.82 L86.9,210.82 L87.4,210.82 L87.9,210.83 L88.4,210.83 L88.9,210.83 L89.4,210.83 L89.9,210.84 L90.4,210.84 L90.9,210.84 L91.4,210.84 L91.9,210.84 L92.4,210.85 L92.9,210.85 L93.4,210.85 L93.9,210.85 L94.4,210.86 L94.9,210.86 L95.4,210.86 L95.9,210.86 L96.4,210.86 L96.9,210.87 L97.4,210.87 L97.9,210.87 L98.4,210.87 L98.9,210.87 L99.4,210.88 L99.9,210.88 L100.4,210.88 L100.9,210.88 L101.4,210.88 L101.9,210.89 L102.4,210.89 L102.9,210.89 L103.4,210.89 L103.9,210.89 L104.4,210.89 L104.9,210.90 L105.4,210.90 L105.9,210.90 L106.4,210.90 L106.9,210.90 L107.4,210.90 L107.9,210.91 L108.4,210.91 L108.9,210.91 L109.4,210.91 L109.9,210.91 L110.4,210.91 L110.9,210.91 L111.4,210.91 L111.9,210.92 L112.4,210.92 L112.9,210.92 L113.4,210.92 L113.9,210.92 L114.4,210.92 L114.9,210.92 L115.4,210.92 L115.9,210.92 L116.4,210.92 L116.9,210.92 L117.4,210.92 L117.9,210.93 L118.4,210.93 L118.9,210.93 L119.4,210.93 L119.9,210.93 L120.4,210.93 L120.9,210.93 L121.4,210.93 L121.9,210.93 L122.4,210.93 L122.9,210.93 L123.4,210.93 L123.9,210.93 L124.4,210.93 L124.9,210.93 L125.4,210.93 L125.9,210.92 L126.4,210.92 L126.9,210.92 L127.4,210.92 L127.9,210.92 L128.4,210.92 L128.9,210.92 L129.4,210.92 L129.9,210.92 L130.4,210.91 L130.9,210.91 L131.4,210.91 L131.9,210.91 L132.4,210.91 L132.9,210.91 L133.4,210.90 L133.9,210.90 L134.4,210.90 L134.9,210.90 L135.4,210.89 L135.9,210.89 L136.4,210.89 L136.9,210.88 L137.4,210.88 L137.9,210.88 L138.4,210.87 L138.9,210.87 L139.4,210.86 L139.9,210.86 L140.4,210.86 L140.9,210.85 L141.4,210.85 L141.9,210.84 L142.4,210.84 L142.9,210.83 L143.4,210.82 L143.9,210.82 L144.4,210.81 L144.9,210.80 L145.4,210.80 L145.9,210.79 L146.4,210.78 L146.9,210.78 L147.4,210.77 L147.9,210.76 L148.4,210.75 L148.9,210.74 L149.4,210.73 L149.9,210.72 L150.4,210.71 L150.9,210.70 L151.4,210.69 L151.9,210.68 L152.4,210.67 L152.9,210.65 L153.4,210.64 L153.9,210.63 L154.4,210.61 L154.9,210.60 L155.4,210.58 L155.9,210.57 L156.4,210.55 L156.9,210.54 L157.4,210.52 L157.9,210.50 L158.4,210.48 L158.9,210.46 L159.4,210.44 L159.9,210.42 L160.4,210.40 L160.9,210.37 L161.4,210.35 L161.9,210.32 L162.4,210.30 L162.9,210.27 L163.4,210.24 L163.9,210.21 L164.4,210.18 L164.9,210.15 L165.4,210.11 L165.9,210.08 L166.4,210.04 L166.9,210.00 L167.4,209.96 L167.9,209.92 L168.4,209.87 L168.9,209.82 L169.4,209.77 L169.9,209.71 L170.4,209.65 L170.9,209.59 L171.4,209.52 L171.9,209.44 L172.4,209.36 L172.9,209.26 L173.4,209.16 L173.9,209.05 L174.4,208.92 L174.9,208.77 L175.4,208.61 L175.9,208.42 L176.4,208.21 L176.9,207.97 L177.4,207.69 L177.9,207.37 L178.4,207.00 L178.9,206.58 L179.4,206.10 L179.9,205.54 L180.4,204.90 L180.9,204.18 L181.4,203.35 L181.9,202.41 L182.4,201.34 L182.9,200.14 L183.4,198.78 L183.9,197.27 L184.4,195.58 L184.9,193.70 L185.4,191.62 L185.9,189.34 L186.4,186.84 L186.9,184.12 L187.4,181.17 L187.9,177.99 L188.4,174.58 L188.9,170.95 L189.4,167.10 L189.9,163.05 L190.4,158.81 L190.9,154.39 L191.4,149.84 L191.9,145.16 L192.4,140.41 L192.9,135.60 L193.4,130.79 L193.9,126.02 L194.4,121.34 L194.9,116.80 L195.4,112.46 L195.9,108.37 L196.4,104.58 L196.9,101.17 L197.4,98.18 L197.9,95.67 L198.4,93.68 L198.9,92.25 L199.4,91.42 L199.9,91.19 L200.4,91.59 L200.9,92.59 L201.4,94.18 L201.9,96.34 L202.4,99.01 L202.9,102.16 L203.4,105.72 L203.9,109.65 L204.4,113.89 L204.9,118.37 L205.4,123.05 L205.9,127.86 L206.4,132.75 L206.9,137.68 L207.4,142.59 L207.9,147.46 L208.4,152.23 L208.9,156.89 L209.4,161.39 L209.9,165.72 L210.4,169.85 L210.9,173.78 L211.4,177.48 L211.9,180.96 L212.4,184.21 L212.9,187.22 L213.4,190.00 L213.9,192.55 L214.4,194.89 L214.9,197.01 L215.4,198.94 L215.9,200.67 L216.4,202.23 L216.9,203.63 L217.4,204.87 L217.9,205.97 L218.4,206.95 L218.9,207.81 L219.4,208.57 L219.9,209.23 L220.4,209.82 L220.9,210.33 L221.4,210.78 L221.9,211.17 L222.4,211.51 L222.9,211.81 L223.4,212.08 L223.9,212.31 L224.4,212.52 L224.9,212.70 L225.4,212.86 L225.9,213.01 L226.4,213.14 L226.9,213.26 L227.4,213.36 L227.9,213.46 L228.4,213.55 L228.9,213.64 L229.4,213.72 L229.9,213.79 L230.4,213.86 L230.9,213.92 L231.4,213.99 L231.9,214.04 L232.4,214.10 L232.9,214.15 L233.4,214.20 L233.9,214.25 L234.4,214.30 L234.9,214.34 L235.4,214.38 L235.9,214.42 L236.4,214.46 L236.9,214.50 L237.4,214.54 L237.9,214.57 L238.4,214.61 L238.9,214.64 L239.4,214.67 L239.9,214.70 L240.4,214.73 L240.9,214.76 L241.4,214.79 L241.9,214.82 L242.4,214.85 L242.9,214.87 L243.4,214.90 L243.9,214.92 L244.4,214.94 L244.9,214.97 L245.4,214.99 L245.9,215.01 L246.4,215.03 L246.9,215.05 L247.4,215.07 L247.9,215.09 L248.4,215.11 L248.9,215.13 L249.4,215.15 L249.9,215.17 L250.4,215.19 L250.9,215.20 L251.4,215.22 L251.9,215.24 L252.4,215.25 L252.9,215.27 L253.4,215.28 L253.9,215.30 L254.4,215.31 L254.9,215.33 L255.4,215.34 L255.9,215.36 L256.4,215.37 L256.9,215.38 L257.4,215.40 L257.9,215.41 L258.4,215.42 L258.9,215.44 L259.4,215.45 L259.9,215.46 L260.4,215.47 L260.9,215.48 L261.4,215.49 L261.9,215.51 L262.4,215.52 L262.9,215.53 L263.4,215.54 L263.9,215.55 L264.4,215.56 L264.9,215.57 L265.4,215.58 L265.9,215.59 L266.4,215.60 L266.9,215.61" fill="none" stroke="#8c8a00" stroke-width="2.2" stroke-linejoin="round" stroke-linecap="round" />
<path d="M26.4,210.51 L26.9,210.51 L27.4,210.52 L27.9,210.52 L28.4,210.53 L28.9,210.53 L29.4,210.53 L29.9,210.54 L30.4,210.54 L30.9,210.54 L31.4,210.55 L31.9,210.55 L32.4,210.56 L32.9,210.56 L33.4,210.56 L33.9,210.57 L34.4,210.57 L34.9,210.57 L35.4,210.58 L35.9,210.58 L36.4,210.59 L36.9,210.59 L37.4,210.59 L37.9,210.60 L38.4,210.60 L38.9,210.60 L39.4,210.61 L39.9,210.61 L40.4,210.62 L40.9,210.62 L41.4,210.62 L41.9,210.63 L42.4,210.63 L42.9,210.63 L43.4,210.64 L43.9,210.64 L44.4,210.65 L44.9,210.65 L45.4,210.65 L45.9,210.66 L46.4,210.66 L46.9,210.66 L47.4,210.67 L47.9,210.67 L48.4,210.68 L48.9,210.68 L49.4,210.68 L49.9,210.69 L50.4,210.69 L50.9,210.69 L51.4,210.70 L51.9,210.70 L52.4,210.71 L52.9,210.71 L53.4,210.71 L53.9,210.72 L54.4,210.72 L54.9,210.72 L55.4,210.73 L55.9,210.73 L56.4,210.74 L56.9,210.74 L57.4,210.74 L57.9,210.75 L58.4,210.75 L58.9,210.75 L59.4,210.76 L59.9,210.76 L60.4,210.77 L60.9,210.77 L61.4,210.77 L61.9,210.78 L62.4,210.78 L62.9,210.78 L63.4,210.79 L63.9,210.79 L64.4,210.80 L64.9,210.80 L65.4,210.80 L65.9,210.81 L66.4,210.81 L66.9,210.81 L67.4,210.82 L67.9,210.82 L68.4,210.83 L68.9,210.83 L69.4,210.83 L69.9,210.84 L70.4,210.84 L70.9,210.84 L71.4,210.85 L71.9,210.85 L72.4,210.86 L72.9,210.86 L73.4,210.86 L73.9,210.87 L74.4,210.87 L74.9,210.87 L75.4,210.88 L75.9,210.88 L76.4,210.89 L76.9,210.89 L77.4,210.89 L77.9,210.90 L78.4,210.90 L78.9,210.90 L79.4,210.91 L79.9,210.91 L80.4,210.92 L80.9,210.92 L81.4,210.92 L81.9,210.93 L82.4,210.93 L82.9,210.93 L83.4,210.94 L83.9,210.94 L84.4,210.95 L84.9,210.95 L85.4,210.95 L85.9,210.96 L86.4,210.96 L86.9,210.96 L87.4,210.97 L87.9,210.97 L88.4,210.98 L88.9,210.98 L89.4,210.98 L89.9,210.99 L90.4,210.99 L90.9,210.99 L91.4,211.00 L91.9,211.00 L92.4,211.01 L92.9,211.01 L93.4,211.01 L93.9,211.02 L94.4,211.02 L94.9,211.02 L95.4,211.03 L95.9,211.03 L96.4,211.04 L96.9,211.04 L97.4,211.04 L97.9,211.05 L98.4,211.05 L98.9,211.05 L99.4,211.06 L99.9,211.06 L100.4,211.07 L100.9,211.07 L101.4,211.07 L101.9,211.08 L102.4,211.08 L102.9,211.08 L103.4,211.09 L103.9,211.09 L104.4,211.10 L104.9,211.10 L105.4,211.10 L105.9,211.11 L106.4,211.11 L106.9,211.11 L107.4,211.12 L107.9,211.12 L108.4,211.13 L108.9,211.13 L109.4,211.13 L109.9,211.14 L110.4,211.14 L110.9,211.14 L111.4,211.15 L111.9,211.15 L112.4,211.16 L112.9,211.16 L113.4,211.16 L113.9,211.17 L114.4,211.17 L114.9,211.17 L115.4,211.18 L115.9,211.18 L116.4,211.19 L116.9,211.19 L117.4,211.19 L117.9,211.20 L118.4,211.20 L118.9,211.20 L119.4,211.21 L119.9,211.21 L120.4,211.22 L120.9,211.22 L121.4,211.22 L121.9,211.23 L122.4,211.23 L122.9,211.23 L123.4,211.24 L123.9,211.24 L124.4,211.25 L124.9,211.25 L125.4,211.25 L125.9,211.26 L126.4,211.26 L126.9,211.26 L127.4,211.27 L127.9,211.27 L128.4,211.28 L128.9,211.28 L129.4,211.28 L129.9,211.29 L130.4,211.29 L130.9,211.29 L131.4,211.30 L131.9,211.30 L132.4,211.31 L132.9,211.31 L133.4,211.31 L133.9,211.32 L134.4,211.32 L134.9,211.32 L135.4,211.33 L135.9,211.33 L136.4,211.34 L136.9,211.34 L137.4,211.34 L137.9,211.35 L138.4,211.35 L138.9,211.35 L139.4,211.36 L139.9,211.36 L140.4,211.37 L140.9,211.37 L141.4,211.37 L141.9,211.38 L142.4,211.38 L142.9,211.38 L143.4,211.39 L143.9,211.39 L144.4,211.40 L144.9,211.40 L145.4,211.40 L145.9,211.41 L146.4,211.41 L146.9,211.42 L147.4,211.42 L147.9,211.42 L148.4,211.43 L148.9,211.43 L149.4,211.43 L149.9,211.44 L150.4,211.44 L150.9,211.45 L151.4,211.45 L151.9,211.45 L152.4,211.46 L152.9,211.46 L153.4,211.47 L153.9,211.47 L154.4,211.47 L154.9,211.48 L155.4,211.48 L155.9,211.49 L156.4,211.49 L156.9,211.49 L157.4,211.50 L157.9,211.50 L158.4,211.51 L158.9,211.51 L159.4,211.52 L159.9,211.52 L160.4,211.53 L160.9,211.53 L161.4,211.53 L161.9,211.54 L162.4,211.54 L162.9,211.55 L163.4,211.55 L163.9,211.56 L164.4,211.56 L164.9,211.57 L165.4,211.57 L165.9,211.58 L166.4,211.58 L166.9,211.59 L167.4,211.60 L167.9,211.60 L168.4,211.61 L168.9,211.61 L169.4,211.62 L169.9,211.63 L170.4,211.64 L170.9,211.64 L171.4,211.65 L171.9,211.66 L172.4,211.67 L172.9,211.67 L173.4,211.68 L173.9,211.69 L174.4,211.70 L174.9,211.71 L175.4,211.72 L175.9,211.73 L176.4,211.75 L176.9,211.76 L177.4,211.77 L177.9,211.79 L178.4,211.80 L178.9,211.81 L179.4,211.83 L179.9,211.85 L180.4,211.87 L180.9,211.88 L181.4,211.90 L181.9,211.93 L182.4,211.95 L182.9,211.97 L183.4,212.00 L183.9,212.02 L184.4,212.05 L184.9,212.08 L185.4,212.11 L185.9,212.14 L186.4,212.18 L186.9,212.21 L187.4,212.25 L187.9,212.29 L188.4,212.33 L188.9,212.38 L189.4,212.42 L189.9,212.47 L190.4,212.52 L190.9,212.57 L191.4,212.62 L191.9,212.68 L192.4,212.74 L192.9,212.80 L193.4,212.86 L193.9,212.93 L194.4,212.99 L194.9,213.06 L195.4,213.13 L195.9,213.20 L196.4,213.27 L196.9,213.34 L197.4,213.42 L197.9,213.49 L198.4,213.57 L198.9,213.64 L199.4,213.71 L199.9,213.79 L200.4,213.86 L200.9,213.94 L201.4,214.01 L201.9,214.08 L202.4,214.15 L202.9,214.22 L203.4,214.29 L203.9,214.36 L204.4,214.42 L204.9,214.49 L205.4,214.55 L205.9,214.61 L206.4,214.66 L206.9,214.72 L207.4,214.77 L207.9,214.82 L208.4,214.87 L208.9,214.92 L209.4,214.96 L209.9,215.00 L210.4,215.04 L210.9,215.08 L211.4,215.12 L211.9,215.15 L212.4,215.19 L212.9,215.22 L213.4,215.25 L213.9,215.28 L214.4,215.30 L214.9,215.33 L215.4,215.35 L215.9,215.38 L216.4,215.40 L216.9,215.42 L217.4,215.44 L217.9,215.46 L218.4,215.47 L218.9,215.49 L219.4,215.50 L219.9,215.52 L220.4,215.53 L220.9,215.55 L221.4,215.56 L221.9,215.57 L222.4,215.58 L222.9,215.59 L223.4,215.60 L223.9,215.61 L224.4,215.62 L224.9,215.63 L225.4,215.64 L225.9,215.65 L226.4,215.66 L226.9,215.66 L227.4,215.67 L227.9,215.68 L228.4,215.69 L228.9,215.69 L229.4,215.70 L229.9,215.71 L230.4,215.71 L230.9,215.72 L231.4,215.72 L231.9,215.73 L232.4,215.73 L232.9,215.74 L233.4,215.74 L233.9,215.75 L234.4,215.75 L234.9,215.76 L235.4,215.76 L235.9,215.77 L236.4,215.77 L236.9,215.78 L237.4,215.78 L237.9,215.79 L238.4,215.79 L238.9,215.80 L239.4,215.80 L239.9,215.80 L240.4,215.81 L240.9,215.81 L241.4,215.82 L241.9,215.82 L242.4,215.83 L242.9,215.83 L243.4,215.83 L243.9,215.84 L244.4,215.84 L244.9,215.85 L245.4,215.85 L245.9,215.85 L246.4,215.86 L246.9,215.86 L247.4,215.87 L247.9,215.87 L248.4,215.87 L248.9,215.88 L249.4,215.88 L249.9,215.89 L250.4,215.89 L250.9,215.89 L251.4,215.90 L251.9,215.90 L252.4,215.90 L252.9,215.91 L253.4,215.91 L253.9,215.92 L254.4,215.92 L254.9,215.92 L255.4,215.93 L255.9,215.93 L256.4,215.93 L256.9,215.94 L257.4,215.94 L257.9,215.95 L258.4,215.95 L258.9,215.95 L259.4,215.96 L259.9,215.96 L260.4,215.97 L260.9,215.97 L261.4,215.97 L261.9,215.98 L262.4,215.98 L262.9,215.98 L263.4,215.99 L263.9,215.99 L264.4,216.00 L264.9,216.00 L265.4,216.00 L265.9,216.01 L266.4,216.01 L266.9,216.01" fill="none" stroke="#a3403d" stroke-width="1.8" stroke-linejoin="round" stroke-linecap="round" />
<path d="M26.4,209.35 L26.9,209.32 L27.4,209.30 L27.9,209.27 L28.4,209.25 L28.9,209.22 L29.4,209.20 L29.9,209.17 L30.4,209.14 L30.9,209.12 L31.4,209.09 L31.9,209.06 L32.4,209.03 L32.9,209.00 L33.4,208.97 L33.9,208.94 L34.4,208.91 L34.9,208.87 L35.4,208.84 L35.9,208.81 L36.4,208.77 L36.9,208.74 L37.4,208.70 L37.9,208.67 L38.4,208.63 L38.9,208.59 L39.4,208.56 L39.9,208.52 L40.4,208.48 L40.9,208.44 L41.4,208.40 L41.9,208.36 L42.4,208.32 L42.9,208.28 L43.4,208.24 L43.9,208.19 L44.4,208.15 L44.9,208.10 L45.4,208.06 L45.9,208.01 L46.4,207.97 L46.9,207.92 L47.4,207.88 L47.9,207.83 L48.4,207.78 L48.9,207.73 L49.4,207.68 L49.9,207.63 L50.4,207.58 L50.9,207.53 L51.4,207.48 L51.9,207.42 L52.4,207.37 L52.9,207.32 L53.4,207.26 L53.9,207.21 L54.4,207.15 L54.9,207.10 L55.4,207.04 L55.9,206.99 L56.4,206.93 L56.9,206.87 L57.4,206.81 L57.9,206.75 L58.4,206.69 L58.9,206.64 L59.4,206.57 L59.9,206.51 L60.4,206.45 L60.9,206.39 L61.4,206.33 L61.9,206.27 L62.4,206.21 L62.9,206.14 L63.4,206.08 L63.9,206.02 L64.4,205.95 L64.9,205.89 L65.4,205.82 L65.9,205.76 L66.4,205.69 L66.9,205.63 L67.4,205.56 L67.9,205.49 L68.4,205.43 L68.9,205.36 L69.4,205.29 L69.9,205.23 L70.4,205.16 L70.9,205.09 L71.4,205.03 L71.9,204.96 L72.4,204.89 L72.9,204.82 L73.4,204.76 L73.9,204.69 L74.4,204.62 L74.9,204.55 L75.4,204.48 L75.9,204.42 L76.4,204.35 L76.9,204.28 L77.4,204.21 L77.9,204.15 L78.4,204.08 L78.9,204.01 L79.4,203.94 L79.9,203.88 L80.4,203.81 L80.9,203.74 L81.4,203.68 L81.9,203.61 L82.4,203.55 L82.9,203.48 L83.4,203.42 L83.9,203.35 L84.4,203.29 L84.9,203.22 L85.4,203.16 L85.9,203.10 L86.4,203.03 L86.9,202.97 L87.4,202.91 L87.9,202.85 L88.4,202.79 L88.9,202.73 L89.4,202.67 L89.9,202.61 L90.4,202.55 L90.9,202.49 L91.4,202.44 L91.9,202.38 L92.4,202.32 L92.9,202.27 L93.4,202.22 L93.9,202.16 L94.4,202.11 L94.9,202.06 L95.4,202.01 L95.9,201.96 L96.4,201.91 L96.9,201.86 L97.4,201.81 L97.9,201.77 L98.4,201.72 L98.9,201.68 L99.4,201.63 L99.9,201.59 L100.4,201.55 L100.9,201.51 L101.4,201.47 L101.9,201.43 L102.4,201.39 L102.9,201.35 L103.4,201.32 L103.9,201.28 L104.4,201.25 L104.9,201.22 L105.4,201.19 L105.9,201.16 L106.4,201.13 L106.9,201.10 L107.4,201.07 L107.9,201.05 L108.4,201.02 L108.9,201.00 L109.4,200.98 L109.9,200.95 L110.4,200.93 L110.9,200.91 L111.4,200.90 L111.9,200.88 L112.4,200.86 L112.9,200.85 L113.4,200.84 L113.9,200.82 L114.4,200.81 L114.9,200.80 L115.4,200.79 L115.9,200.78 L116.4,200.77 L116.9,200.77 L117.4,200.76 L117.9,200.76 L118.4,200.75 L118.9,200.75 L119.4,200.74 L119.9,200.74 L120.4,200.74 L120.9,200.74 L121.4,200.74 L121.9,200.74 L122.4,200.73 L122.9,200.73 L123.4,200.73 L123.9,200.73 L124.4,200.73 L124.9,200.73 L125.4,200.73 L125.9,200.73 L126.4,200.73 L126.9,200.72 L127.4,200.72 L127.9,200.71 L128.4,200.71 L128.9,200.70 L129.4,200.69 L129.9,200.68 L130.4,200.67 L130.9,200.65 L131.4,200.64 L131.9,200.62 L132.4,200.60 L132.9,200.57 L133.4,200.55 L133.9,200.52 L134.4,200.48 L134.9,200.44 L135.4,200.40 L135.9,200.36 L136.4,200.31 L136.9,200.25 L137.4,200.19 L137.9,200.13 L138.4,200.06 L138.9,199.98 L139.4,199.90 L139.9,199.81 L140.4,199.72 L140.9,199.62 L141.4,199.51 L141.9,199.40 L142.4,199.28 L142.9,199.15 L143.4,199.01 L143.9,198.87 L144.4,198.72 L144.9,198.56 L145.4,198.39 L145.9,198.22 L146.4,198.03 L146.9,197.84 L147.4,197.64 L147.9,197.43 L148.4,197.21 L148.9,196.98 L149.4,196.75 L149.9,196.50 L150.4,196.25 L150.9,195.99 L151.4,195.72 L151.9,195.45 L152.4,195.16 L152.9,194.87 L153.4,194.57 L153.9,194.27 L154.4,193.96 L154.9,193.64 L155.4,193.31 L155.9,192.98 L156.4,192.65 L156.9,192.31 L157.4,191.96 L157.9,191.61 L158.4,191.26 L158.9,190.91 L159.4,190.55 L159.9,190.19 L160.4,189.83 L160.9,189.47 L161.4,189.11 L161.9,188.75 L162.4,188.39 L162.9,188.03 L163.4,187.67 L163.9,187.31 L164.4,186.96 L164.9,186.60 L165.4,186.25 L165.9,185.90 L166.4,185.54 L166.9,185.19 L167.4,184.84 L167.9,184.49 L168.4,184.14 L168.9,183.78 L169.4,183.42 L169.9,183.05 L170.4,182.68 L170.9,182.30 L171.4,181.90 L171.9,181.49 L172.4,181.05 L172.9,180.60 L173.4,180.13 L173.9,179.62 L174.4,179.08 L174.9,178.51 L175.4,177.89 L175.9,177.23 L176.4,176.52 L176.9,175.75 L177.4,174.93 L177.9,174.03 L178.4,173.07 L178.9,172.02 L179.4,170.90 L179.9,169.69 L180.4,168.38 L180.9,166.98 L181.4,165.47 L181.9,163.85 L182.4,162.12 L182.9,160.28 L183.4,158.31 L183.9,156.21 L184.4,153.99 L184.9,151.64 L185.4,149.16 L185.9,146.54 L186.4,143.79 L186.9,140.91 L187.4,137.91 L187.9,134.77 L188.4,131.52 L188.9,128.16 L189.4,124.70 L189.9,121.14 L190.4,117.51 L190.9,113.81 L191.4,110.07 L191.9,106.30 L192.4,102.53 L192.9,98.77 L193.4,95.07 L193.9,91.44 L194.4,87.92 L194.9,84.54 L195.4,81.34 L195.9,78.36 L196.4,75.63 L196.9,73.21 L197.4,71.14 L197.9,69.45 L198.4,68.20 L198.9,67.43 L199.4,67.17 L199.9,67.45 L200.4,68.30 L200.9,69.72 L201.4,71.72 L201.9,74.27 L202.4,77.37 L202.9,80.96 L203.4,85.00 L203.9,89.44 L204.4,94.22 L204.9,99.27 L205.4,104.54 L205.9,109.97 L206.4,115.49 L206.9,121.06 L207.4,126.63 L207.9,132.15 L208.4,137.58 L208.9,142.89 L209.4,148.05 L209.9,153.02 L210.4,157.79 L210.9,162.35 L211.4,166.67 L211.9,170.75 L212.4,174.58 L212.9,178.17 L213.4,181.50 L213.9,184.59 L214.4,187.43 L214.9,190.05 L215.4,192.44 L215.9,194.61 L216.4,196.59 L216.9,198.37 L217.4,199.98 L217.9,201.43 L218.4,202.73 L218.9,203.89 L219.4,204.92 L219.9,205.84 L220.4,206.66 L220.9,207.38 L221.4,208.03 L221.9,208.60 L222.4,209.11 L222.9,209.57 L223.4,209.97 L223.9,210.33 L224.4,210.65 L224.9,210.94 L225.4,211.20 L225.9,211.44 L226.4,211.65 L226.9,211.85 L227.4,212.03 L227.9,212.19 L228.4,212.34 L228.9,212.49 L229.4,212.62 L229.9,212.74 L230.4,212.85 L230.9,212.96 L231.4,213.06 L231.9,213.16 L232.4,213.25 L232.9,213.33 L233.4,213.42 L233.9,213.49 L234.4,213.57 L234.9,213.64 L235.4,213.71 L235.9,213.77 L236.4,213.84 L236.9,213.90 L237.4,213.95 L237.9,214.01 L238.4,214.06 L238.9,214.11 L239.4,214.16 L239.9,214.21 L240.4,214.26 L240.9,214.30 L241.4,214.34 L241.9,214.38 L242.4,214.42 L242.9,214.46 L243.4,214.50 L243.9,214.54 L244.4,214.57 L244.9,214.61 L245.4,214.64 L245.9,214.67 L246.4,214.70 L246.9,214.73 L247.4,214.76 L247.9,214.79 L248.4,214.82 L248.9,214.84 L249.4,214.87 L249.9,214.90 L250.4,214.92 L250.9,214.95 L251.4,214.97 L251.9,214.99 L252.4,215.01 L252.9,215.04 L253.4,215.06 L253.9,215.08 L254.4,215.10 L254.9,215.12 L255.4,215.14 L255.9,215.16 L256.4,215.18 L256.9,215.19 L257.4,215.21 L257.9,215.23 L258.4,215.25 L258.9,215.26 L259.4,215.28 L259.9,215.30 L260.4,215.31 L260.9,215.33 L261.4,215.34 L261.9,215.36 L262.4,215.37 L262.9,215.38 L263.4,215.40 L263.9,215.41 L264.4,215.43 L264.9,215.44 L265.4,215.45 L265.9,215.47 L266.4,215.48 L266.9,215.49" fill="none" stroke="#000" stroke-width="2.6" stroke-linejoin="round" stroke-linecap="round" />
<line x1="175" y1="89.5" x2="200" y2="93.6" stroke="#000" stroke-width="1.0"/>
<line x1="160.1" y1="175.1" x2="168.6" y2="198.5" stroke="#000" stroke-width="1.0"/>
<line x1="97" y1="184.5" x2="107.5" y2="200.6" stroke="#000" stroke-width="1.0"/>
<text x="141" y="93.6" font-family='"Liberation Sans", sans-serif' font-size="11.7" font-weight="bold" text-anchor="start" stroke="#000" stroke-width="0.3" >N-C=N</text>
<text x="147.6" y="171.1" font-family='"Liberation Sans", sans-serif' font-size="11.7" font-weight="bold" text-anchor="start" stroke="#000" stroke-width="0.3" >C-S</text>
<text x="83.5" y="179.9" font-family='"Liberation Sans", sans-serif' font-size="11.7" font-weight="bold" text-anchor="start" stroke="#000" stroke-width="0.3" >C-C</text>
<text x="263.8" y="39.6" font-family='"Liberation Sans", sans-serif' font-size="12" font-weight="bold" text-anchor="end" stroke="#000" stroke-width="0.3" >C1s spectrum</text>
<text x="29.5" y="16.7" font-family='"Liberation Serif", serif' font-size="20" font-weight="bold" text-anchor="start" >a</text>
<text x="166.7" y="254.3" font-family='"Liberation Serif", serif' font-size="13.7" font-weight="bold" text-anchor="middle" >Binding energy / eV</text>
<text x="0" y="0" transform="translate(17.8,115.2) rotate(-90)" font-family='"Liberation Serif", serif' font-size="14.0" font-weight="bold" text-anchor="middle">XPS intensity / a.u.</text>
<rect x="295.0" y="24.3" width="242.0" height="195.5" fill="none" stroke="#000" stroke-width="1.6"/>
<line x1="295.0" y1="219.8" x2="295.0" y2="223.4" stroke="#000" stroke-width="1.3"/>
<text x="0" y="0" transform="translate(294.6,234.70000000000002) scale(1.035,1)" font-family='"Liberation Sans", sans-serif' font-size="10.5" font-weight="bold" text-anchor="middle" stroke="#000" stroke-width="0.3" >392</text>
<line x1="325.25" y1="219.8" x2="325.25" y2="223.4" stroke="#000" stroke-width="1.3"/>
<text x="0" y="0" transform="translate(324.85,234.70000000000002) scale(1.035,1)" font-family='"Liberation Sans", sans-serif' font-size="10.5" font-weight="bold" text-anchor="middle" stroke="#000" stroke-width="0.3" >394</text>
<line x1="355.5" y1="219.8" x2="355.5" y2="223.4" stroke="#000" stroke-width="1.3"/>
<text x="0" y="0" transform="translate(355.1,234.70000000000002) scale(1.035,1)" font-family='"Liberation Sans", sans-serif' font-size="10.5" font-weight="bold" text-anchor="middle" stroke="#000" stroke-width="0.3" >396</text>
<line x1="385.75" y1="219.8" x2="385.75" y2="223.4" stroke="#000" stroke-width="1.3"/>
<text x="0" y="0" transform="translate(385.35,234.70000000000002) scale(1.035,1)" font-family='"Liberation Sans", sans-serif' font-size="10.5" font-weight="bold" text-anchor="middle" stroke="#000" stroke-width="0.3" >398</text>
<line x1="416.0" y1="219.8" x2="416.0" y2="223.4" stroke="#000" stroke-width="1.3"/>
<text x="0" y="0" transform="translate(415.6,234.70000000000002) scale(1.035,1)" font-family='"Liberation Sans", sans-serif' font-size="10.5" font-weight="bold" text-anchor="middle" stroke="#000" stroke-width="0.3" >400</text>
<line x1="446.25" y1="219.8" x2="446.25" y2="223.4" stroke="#000" stroke-width="1.3"/>
<text x="0" y="0" transform="translate(445.85,234.70000000000002) scale(1.035,1)" font-family='"Liberation Sans", sans-serif' font-size="10.5" font-weight="bold" text-anchor="middle" stroke="#000" stroke-width="0.3" >402</text>
<line x1="476.5" y1="219.8" x2="476.5" y2="223.4" stroke="#000" stroke-width="1.3"/>
<text x="0" y="0" transform="translate(476.1,234.70000000000002) scale(1.035,1)" font-family='"Liberation Sans", sans-serif' font-size="10.5" font-weight="bold" text-anchor="middle" stroke="#000" stroke-width="0.3" >404</text>
<line x1="506.75" y1="219.8" x2="506.75" y2="223.4" stroke="#000" stroke-width="1.3"/>
<text x="0" y="0" transform="translate(506.35,234.70000000000002) scale(1.035,1)" font-family='"Liberation Sans", sans-serif' font-size="10.5" font-weight="bold" text-anchor="middle" stroke="#000" stroke-width="0.3" >406</text>
<line x1="537.0" y1="219.8" x2="537.0" y2="223.4" stroke="#000" stroke-width="1.3"/>
<text x="0" y="0" transform="translate(536.6,234.70000000000002) scale(1.035,1)" font-family='"Liberation Sans", sans-serif' font-size="10.5" font-weight="bold" text-anchor="middle" stroke="#000" stroke-width="0.3" >408</text>
<line x1="310.125" y1="219.8" x2="310.125" y2="222.0" stroke="#000" stroke-width="1.1"/>
<line x1="340.375" y1="219.8" x2="340.375" y2="222.0" stroke="#000" stroke-width="1.1"/>
<line x1="370.625" y1="219.8" x2="370.625" y2="222.0" stroke="#000" stroke-width="1.1"/>
<line x1="400.875" y1="219.8" x2="400.875" y2="222.0" stroke="#000" stroke-width="1.1"/>
<line x1="431.125" y1="219.8" x2="431.125" y2="222.0" stroke="#000" stroke-width="1.1"/>
<line x1="461.375" y1="219.8" x2="461.375" y2="222.0" stroke="#000" stroke-width="1.1"/>
<line x1="491.625" y1="219.8" x2="491.625" y2="222.0" stroke="#000" stroke-width="1.1"/>
<line x1="521.875" y1="219.8" x2="521.875" y2="222.0" stroke="#000" stroke-width="1.1"/>
<path d="M295.8,213.31 L296.3,213.27 L296.8,213.24 L297.3,213.20 L297.8,213.16 L298.3,213.12 L298.8,213.08 L299.3,213.04 L299.8,213.00 L300.3,212.96 L300.8,212.92 L301.3,212.88 L301.8,212.84 L302.3,212.80 L302.8,212.76 L303.3,212.72 L303.8,212.68 L304.3,212.64 L304.8,212.60 L305.3,212.56 L305.8,212.52 L306.3,212.48 L306.8,212.44 L307.3,212.40 L307.8,212.36 L308.3,212.31 L308.8,212.27 L309.3,212.23 L309.8,212.19 L310.3,212.15 L310.8,212.11 L311.3,212.07 L311.8,212.02 L312.3,211.98 L312.8,211.94 L313.3,211.90 L313.8,211.86 L314.3,211.81 L314.8,211.77 L315.3,211.73 L315.8,211.68 L316.3,211.64 L316.8,211.60 L317.3,211.55 L317.8,211.51 L318.3,211.47 L318.8,211.42 L319.3,211.38 L319.8,211.33 L320.3,211.29 L320.8,211.24 L321.3,211.20 L321.8,211.15 L322.3,211.11 L322.8,211.06 L323.3,211.02 L323.8,210.97 L324.3,210.93 L324.8,210.88 L325.3,210.83 L325.8,210.79 L326.3,210.74 L326.8,210.69 L327.3,210.65 L327.8,210.60 L328.3,210.55 L328.8,210.50 L329.3,210.45 L329.8,210.40 L330.3,210.36 L330.8,210.31 L331.3,210.26 L331.8,210.21 L332.3,210.16 L332.8,210.11 L333.3,210.05 L333.8,210.00 L334.3,209.95 L334.8,209.90 L335.3,209.85 L335.8,209.80 L336.3,209.74 L336.8,209.69 L337.3,209.64 L337.8,209.58 L338.3,209.53 L338.8,209.47 L339.3,209.42 L339.8,209.36 L340.3,209.30 L340.8,209.25 L341.3,209.19 L341.8,209.13 L342.3,209.07 L342.8,209.01 L343.3,208.95 L343.8,208.89 L344.3,208.83 L344.8,208.77 L345.3,208.71 L345.8,208.65 L346.3,208.58 L346.8,208.52 L347.3,208.45 L347.8,208.39 L348.3,208.32 L348.8,208.26 L349.3,208.19 L349.8,208.12 L350.3,208.05 L350.8,207.98 L351.3,207.91 L351.8,207.84 L352.3,207.76 L352.8,207.69 L353.3,207.61 L353.8,207.54 L354.3,207.46 L354.8,207.38 L355.3,207.30 L355.8,207.22 L356.3,207.14 L356.8,207.05 L357.3,206.97 L357.8,206.88 L358.3,206.79 L358.8,206.70 L359.3,206.61 L359.8,206.51 L360.3,206.42 L360.8,206.32 L361.3,206.22 L361.8,206.12 L362.3,206.02 L362.8,205.91 L363.3,205.80 L363.8,205.69 L364.3,205.57 L364.8,205.45 L365.3,205.33 L365.8,205.20 L366.3,205.07 L366.8,204.93 L367.3,204.79 L367.8,204.64 L368.3,204.48 L368.8,204.30 L369.3,204.12 L369.8,203.93 L370.3,203.72 L370.8,203.49 L371.3,203.23 L371.8,202.96 L372.3,202.65 L372.8,202.30 L373.3,201.92 L373.8,201.49 L374.3,201.00 L374.8,200.45 L375.3,199.83 L375.8,199.12 L376.3,198.32 L376.8,197.42 L377.3,196.40 L377.8,195.24 L378.3,193.94 L378.8,192.48 L379.3,190.85 L379.8,189.02 L380.3,187.00 L380.8,184.75 L381.3,182.28 L381.8,179.58 L382.3,176.62 L382.8,173.41 L383.3,169.95 L383.8,166.23 L384.3,162.26 L384.8,158.04 L385.3,153.59 L385.8,148.93 L386.3,144.07 L386.8,139.04 L387.3,133.86 L387.8,128.59 L388.3,123.24 L388.8,117.87 L389.3,112.52 L389.8,107.23 L390.3,102.05 L390.8,97.04 L391.3,92.23 L391.8,87.67 L392.3,83.41 L392.8,79.49 L393.3,75.92 L393.8,72.75 L394.3,69.98 L394.8,67.62 L395.3,65.67 L395.8,64.09 L396.3,62.88 L396.8,61.98 L397.3,61.37 L397.8,60.99 L398.3,60.81 L398.8,60.78 L399.3,60.86 L399.8,61.04 L400.3,61.29 L400.8,61.60 L401.3,61.98 L401.8,62.45 L402.3,63.01 L402.8,63.72 L403.3,64.58 L403.8,65.66 L404.3,66.97 L404.8,68.56 L405.3,70.45 L405.8,72.66 L406.3,75.21 L406.8,78.08 L407.3,81.28 L407.8,84.77 L408.3,88.52 L408.8,92.49 L409.3,96.61 L409.8,100.83 L410.3,105.10 L410.8,109.34 L411.3,113.50 L411.8,117.52 L412.3,121.36 L412.8,124.97 L413.3,128.32 L413.8,131.39 L414.3,134.17 L414.8,136.66 L415.3,138.86 L415.8,140.80 L416.3,142.49 L416.8,143.96 L417.3,145.23 L417.8,146.35 L418.3,147.33 L418.8,148.22 L419.3,149.02 L419.8,149.78 L420.3,150.50 L420.8,151.20 L421.3,151.89 L421.8,152.59 L422.3,153.29 L422.8,154.00 L423.3,154.71 L423.8,155.43 L424.3,156.14 L424.8,156.84 L425.3,157.54 L425.8,158.21 L426.3,158.87 L426.8,159.50 L427.3,160.10 L427.8,160.67 L428.3,161.21 L428.8,161.72 L429.3,162.20 L429.8,162.65 L430.3,163.08 L430.8,163.48 L431.3,163.87 L431.8,164.24 L432.3,164.61 L432.8,164.97 L433.3,165.33 L433.8,165.70 L434.3,166.08 L434.8,166.48 L435.3,166.89 L435.8,167.33 L436.3,167.80 L436.8,168.30 L437.3,168.84 L437.8,169.40 L438.3,170.01 L438.8,170.65 L439.3,171.33 L439.8,172.05 L440.3,172.80 L440.8,173.58 L441.3,174.40 L441.8,175.24 L442.3,176.11 L442.8,177.01 L443.3,177.92 L443.8,178.85 L444.3,179.80 L444.8,180.75 L445.3,181.71 L445.8,182.67 L446.3,183.63 L446.8,184.58 L447.3,185.53 L447.8,186.47 L448.3,187.38 L448.8,188.28 L449.3,189.15 L449.8,190.00 L450.3,190.81 L450.8,191.58 L451.3,192.32 L451.8,193.01 L452.3,193.66 L452.8,194.26 L453.3,194.81 L453.8,195.32 L454.3,195.78 L454.8,196.20 L455.3,196.58 L455.8,196.93 L456.3,197.24 L456.8,197.54 L457.3,197.81 L457.8,198.07 L458.3,198.32 L458.8,198.57 L459.3,198.80 L459.8,199.03 L460.3,199.26 L460.8,199.47 L461.3,199.67 L461.8,199.85 L462.3,200.01 L462.8,200.14 L463.3,200.24 L463.8,200.30 L464.3,200.33 L464.8,200.33 L465.3,200.28 L465.8,200.20 L466.3,200.09 L466.8,199.94 L467.3,199.77 L467.8,199.58 L468.3,199.38 L468.8,199.16 L469.3,198.94 L469.8,198.71 L470.3,198.48 L470.8,198.25 L471.3,198.03 L471.8,197.81 L472.3,197.59 L472.8,197.38 L473.3,197.18 L473.8,196.98 L474.3,196.79 L474.8,196.59 L475.3,196.41 L475.8,196.22 L476.3,196.03 L476.8,195.85 L477.3,195.67 L477.8,195.49 L478.3,195.31 L478.8,195.13 L479.3,194.96 L479.8,194.79 L480.3,194.62 L480.8,194.46 L481.3,194.32 L481.8,194.18 L482.3,194.05 L482.8,193.94 L483.3,193.84 L483.8,193.75 L484.3,193.69 L484.8,193.64 L485.3,193.62 L485.8,193.61 L486.3,193.63 L486.8,193.66 L487.3,193.72 L487.8,193.79 L488.3,193.88 L488.8,193.99 L489.3,194.11 L489.8,194.24 L490.3,194.39 L490.8,194.54 L491.3,194.70 L491.8,194.87 L492.3,195.04 L492.8,195.22 L493.3,195.39 L493.8,195.57 L494.3,195.75 L494.8,195.92 L495.3,196.09 L495.8,196.26 L496.3,196.43 L496.8,196.59 L497.3,196.74 L497.8,196.89 L498.3,197.04 L498.8,197.18 L499.3,197.31 L499.8,197.44 L500.3,197.55 L500.8,197.67 L501.3,197.77 L501.8,197.88 L502.3,197.97 L502.8,198.06 L503.3,198.14 L503.8,198.21 L504.3,198.29 L504.8,198.35 L505.3,198.41 L505.8,198.46 L506.3,198.51 L506.8,198.56 L507.3,198.60 L507.8,198.63 L508.3,198.67 L508.8,198.70 L509.3,198.72 L509.8,198.74 L510.3,198.76 L510.8,198.78 L511.3,198.79 L511.8,198.81 L512.3,198.81 L512.8,198.82 L513.3,198.83 L513.8,198.83 L514.3,198.83 L514.8,198.83 L515.3,198.83 L515.8,198.83 L516.3,198.83 L516.8,198.82 L517.3,198.82 L517.8,198.81 L518.3,198.81 L518.8,198.80 L519.3,198.79 L519.8,198.78 L520.3,198.77 L520.8,198.76 L521.3,198.75 L521.8,198.74 L522.3,198.73 L522.8,198.72 L523.3,198.70 L523.8,198.69 L524.3,198.68 L524.8,198.66 L525.3,198.65 L525.8,198.64 L526.3,198.62 L526.8,198.61 L527.3,198.59 L527.8,198.57 L528.3,198.56 L528.8,198.54 L529.3,198.53 L529.8,198.51 L530.3,198.49 L530.8,198.47 L531.3,198.46 L531.8,198.44 L532.3,198.42 L532.8,198.40 L533.3,198.38 L533.8,198.36 L534.3,198.35 L534.8,198.33 L535.3,198.31 L535.8,198.29" fill="none" stroke="#000" stroke-width="2.6" stroke-linejoin="round" stroke-linecap="round" />
<path d="M295.8,214.13 L296.3,214.13 L296.8,214.13 L297.3,214.12 L297.8,214.12 L298.3,214.12 L298.8,214.12 L299.3,214.11 L299.8,214.11 L300.3,214.11 L300.8,214.10 L301.3,214.10 L301.8,214.09 L302.3,214.09 L302.8,214.08 L303.3,214.07 L303.8,214.07 L304.3,214.06 L304.8,214.05 L305.3,214.05 L305.8,214.04 L306.3,214.03 L306.8,214.02 L307.3,214.01 L307.8,214.00 L308.3,213.99 L308.8,213.98 L309.3,213.97 L309.8,213.96 L310.3,213.95 L310.8,213.94 L311.3,213.93 L311.8,213.92 L312.3,213.91 L312.8,213.89 L313.3,213.88 L313.8,213.87 L314.3,213.85 L314.8,213.84 L315.3,213.83 L315.8,213.81 L316.3,213.80 L316.8,213.78 L317.3,213.77 L317.8,213.75 L318.3,213.74 L318.8,213.72 L319.3,213.70 L319.8,213.69 L320.3,213.67 L320.8,213.65 L321.3,213.63 L321.8,213.62 L322.3,213.60 L322.8,213.58 L323.3,213.56 L323.8,213.54 L324.3,213.52 L324.8,213.50 L325.3,213.48 L325.8,213.46 L326.3,213.44 L326.8,213.42 L327.3,213.40 L327.8,213.38 L328.3,213.36 L328.8,213.34 L329.3,213.32 L329.8,213.30 L330.3,213.27 L330.8,213.25 L331.3,213.23 L331.8,213.20 L332.3,213.18 L332.8,213.16 L333.3,213.13 L333.8,213.11 L334.3,213.09 L334.8,213.06 L335.3,213.04 L335.8,213.01 L336.3,212.99 L336.8,212.96 L337.3,212.94 L337.8,212.91 L338.3,212.88 L338.8,212.86 L339.3,212.83 L339.8,212.80 L340.3,212.78 L340.8,212.75 L341.3,212.72 L341.8,212.69 L342.3,212.67 L342.8,212.64 L343.3,212.61 L343.8,212.58 L344.3,212.55 L344.8,212.52 L345.3,212.49 L345.8,212.46 L346.3,212.43 L346.8,212.40 L347.3,212.37 L347.8,212.34 L348.3,212.31 L348.8,212.28 L349.3,212.25 L349.8,212.21 L350.3,212.18 L350.8,212.15 L351.3,212.12 L351.8,212.08 L352.3,212.05 L352.8,212.02 L353.3,211.98 L353.8,211.95 L354.3,211.91 L354.8,211.88 L355.3,211.84 L355.8,211.80 L356.3,211.77 L356.8,211.73 L357.3,211.69 L357.8,211.66 L358.3,211.62 L358.8,211.58 L359.3,211.54 L359.8,211.50 L360.3,211.46 L360.8,211.42 L361.3,211.37 L361.8,211.32 L362.3,211.27 L362.8,211.22 L363.3,211.17 L363.8,211.11 L364.3,211.05 L364.8,210.98 L365.3,210.92 L365.8,210.84 L366.3,210.77 L366.8,210.68 L367.3,210.60 L367.8,210.50 L368.3,210.39 L368.8,210.28 L369.3,210.16 L369.8,210.02 L370.3,209.86 L370.8,209.69 L371.3,209.50 L371.8,209.28 L372.3,209.03 L372.8,208.75 L373.3,208.43 L373.8,208.07 L374.3,207.66 L374.8,207.19 L375.3,206.65 L375.8,206.05 L376.3,205.36 L376.8,204.58 L377.3,203.70 L377.8,202.71 L378.3,201.59 L378.8,200.35 L379.3,198.96 L379.8,197.42 L380.3,195.72 L380.8,193.84 L381.3,191.78 L381.8,189.53 L382.3,187.08 L382.8,184.43 L383.3,181.57 L383.8,178.51 L384.3,175.24 L384.8,171.78 L385.3,168.11 L385.8,164.26 L386.3,160.23 L386.8,156.05 L387.3,151.72 L387.8,147.29 L388.3,142.76 L388.8,138.18 L389.3,133.58 L389.8,128.99 L390.3,124.45 L390.8,120.01 L391.3,115.69 L391.8,111.56 L392.3,107.64 L392.8,103.98 L393.3,100.62 L393.8,97.61 L394.3,94.96 L394.8,92.73 L395.3,90.94 L395.8,89.61 L396.3,88.75 L396.8,88.38 L397.3,88.50 L397.8,89.10 L398.3,90.16 L398.8,91.67 L399.3,93.61 L399.8,95.95 L400.3,98.66 L400.8,101.69 L401.3,105.01 L401.8,108.59 L402.3,112.38 L402.8,116.33 L403.3,120.42 L403.8,124.59 L404.3,128.81 L404.8,133.04 L405.3,137.25 L405.8,141.41 L406.3,145.49 L406.8,149.46 L407.3,153.30 L407.8,156.99 L408.3,160.52 L408.8,163.87 L409.3,167.04 L409.8,170.01 L410.3,172.80 L410.8,175.37 L411.3,177.74 L411.8,179.91 L412.3,181.89 L412.8,183.68 L413.3,185.29 L413.8,186.73 L414.3,188.02 L414.8,189.16 L415.3,190.17 L415.8,191.05 L416.3,191.82 L416.8,192.49 L417.3,193.07 L417.8,193.57 L418.3,194.01 L418.8,194.38 L419.3,194.70 L419.8,194.98 L420.3,195.22 L420.8,195.43 L421.3,195.62 L421.8,195.80 L422.3,195.96 L422.8,196.09 L423.3,196.21 L423.8,196.31 L424.3,196.40 L424.8,196.47 L425.3,196.53 L425.8,196.59 L426.3,196.64 L426.8,196.68 L427.3,196.72 L427.8,196.75 L428.3,196.78 L428.8,196.81 L429.3,196.83 L429.8,196.86 L430.3,196.88 L430.8,196.90 L431.3,196.92 L431.8,196.93 L432.3,196.95 L432.8,196.96 L433.3,196.98 L433.8,196.99 L434.3,197.00 L434.8,197.02 L435.3,197.03 L435.8,197.04 L436.3,197.05 L436.8,197.06 L437.3,197.07 L437.8,197.08 L438.3,197.09 L438.8,197.10 L439.3,197.11 L439.8,197.12 L440.3,197.13 L440.8,197.14 L441.3,197.14 L441.8,197.15 L442.3,197.16 L442.8,197.17 L443.3,197.17 L443.8,197.18 L444.3,197.19 L444.8,197.19 L445.3,197.20 L445.8,197.20 L446.3,197.21 L446.8,197.21 L447.3,197.22 L447.8,197.23 L448.3,197.23 L448.8,197.24 L449.3,197.24 L449.8,197.25 L450.3,197.25 L450.8,197.25 L451.3,197.26 L451.8,197.26 L452.3,197.27 L452.8,197.27 L453.3,197.28 L453.8,197.28 L454.3,197.28 L454.8,197.29 L455.3,197.29 L455.8,197.29 L456.3,197.30 L456.8,197.30 L457.3,197.30 L457.8,197.31 L458.3,197.31 L458.8,197.31 L459.3,197.32 L459.8,197.32 L460.3,197.32 L460.8,197.32 L461.3,197.33 L461.8,197.33 L462.3,197.33 L462.8,197.33 L463.3,197.34 L463.8,197.34 L464.3,197.34 L464.8,197.34 L465.3,197.35 L465.8,197.35 L466.3,197.35 L466.8,197.35 L467.3,197.35 L467.8,197.36 L468.3,197.36 L468.8,197.36 L469.3,197.36 L469.8,197.36 L470.3,197.37 L470.8,197.37 L471.3,197.37 L471.8,197.37 L472.3,197.37 L472.8,197.37 L473.3,197.38 L473.8,197.38 L474.3,197.38 L474.8,197.38 L475.3,197.38 L475.8,197.38 L476.3,197.38 L476.8,197.39 L477.3,197.39 L477.8,197.39 L478.3,197.39 L478.8,197.39 L479.3,197.39 L479.8,197.39 L480.3,197.40 L480.8,197.40 L481.3,197.40 L481.8,197.40 L482.3,197.40 L482.8,197.40 L483.3,197.40 L483.8,197.40 L484.3,197.40 L484.8,197.41 L485.3,197.41 L485.8,197.41 L486.3,197.41 L486.8,197.41 L487.3,197.41 L487.8,197.41 L488.3,197.41 L488.8,197.41 L489.3,197.41 L489.8,197.42 L490.3,197.42 L490.8,197.42 L491.3,197.42 L491.8,197.42 L492.3,197.42 L492.8,197.42 L493.3,197.42 L493.8,197.42 L494.3,197.42 L494.8,197.42 L495.3,197.42 L495.8,197.43 L496.3,197.43 L496.8,197.43 L497.3,197.43 L497.8,197.43 L498.3,197.43 L498.8,197.43 L499.3,197.43 L499.8,197.43 L500.3,197.43 L500.8,197.43 L501.3,197.43 L501.8,197.43 L502.3,197.43 L502.8,197.43 L503.3,197.44 L503.8,197.44 L504.3,197.44 L504.8,197.44 L505.3,197.44 L505.8,197.44 L506.3,197.44 L506.8,197.44 L507.3,197.44 L507.8,197.44 L508.3,197.44 L508.8,197.44 L509.3,197.44 L509.8,197.44 L510.3,197.44 L510.8,197.44 L511.3,197.44 L511.8,197.44 L512.3,197.45 L512.8,197.45 L513.3,197.45 L513.8,197.45 L514.3,197.45 L514.8,197.45 L515.3,197.45 L515.8,197.45 L516.3,197.45 L516.8,197.45 L517.3,197.45 L517.8,197.45 L518.3,197.45 L518.8,197.45 L519.3,197.45 L519.8,197.45 L520.3,197.45 L520.8,197.45 L521.3,197.45 L521.8,197.45 L522.3,197.45 L522.8,197.45 L523.3,197.45 L523.8,197.45 L524.3,197.45 L524.8,197.46 L525.3,197.46 L525.8,197.46 L526.3,197.46 L526.8,197.46 L527.3,197.46 L527.8,197.46 L528.3,197.46 L528.8,197.46 L529.3,197.46 L529.8,197.46 L530.3,197.46 L530.8,197.46 L531.3,197.46 L531.8,197.46 L532.3,197.46 L532.8,197.46 L533.3,197.46 L533.8,197.46 L534.3,197.46 L534.8,197.46 L535.3,197.46 L535.8,197.46" fill="none" stroke="#ff2a2a" stroke-width="2.0" stroke-linejoin="round" stroke-linecap="round" />
<path d="M295.8,215.00 L296.3,215.00 L296.8,215.00 L297.3,215.00 L297.8,215.00 L298.3,215.00 L298.8,215.00 L299.3,214.99 L299.8,214.99 L300.3,214.99 L300.8,214.99 L301.3,214.99 L301.8,214.98 L302.3,214.98 L302.8,214.98 L303.3,214.97 L303.8,214.97 L304.3,214.97 L304.8,214.96 L305.3,214.96 L305.8,214.96 L306.3,214.95 L306.8,214.95 L307.3,214.94 L307.8,214.94 L308.3,214.93 L308.8,214.93 L309.3,214.92 L309.8,214.91 L310.3,214.91 L310.8,214.90 L311.3,214.90 L311.8,214.89 L312.3,214.88 L312.8,214.88 L313.3,214.87 L313.8,214.86 L314.3,214.85 L314.8,214.85 L315.3,214.84 L315.8,214.83 L316.3,214.82 L316.8,214.82 L317.3,214.81 L317.8,214.80 L318.3,214.79 L318.8,214.78 L319.3,214.77 L319.8,214.76 L320.3,214.75 L320.8,214.75 L321.3,214.74 L321.8,214.73 L322.3,214.72 L322.8,214.71 L323.3,214.70 L323.8,214.69 L324.3,214.68 L324.8,214.67 L325.3,214.66 L325.8,214.65 L326.3,214.63 L326.8,214.62 L327.3,214.61 L327.8,214.60 L328.3,214.59 L328.8,214.58 L329.3,214.57 L329.8,214.56 L330.3,214.54 L330.8,214.53 L331.3,214.52 L331.8,214.51 L332.3,214.50 L332.8,214.48 L333.3,214.47 L333.8,214.46 L334.3,214.45 L334.8,214.43 L335.3,214.42 L335.8,214.41 L336.3,214.40 L336.8,214.38 L337.3,214.37 L337.8,214.36 L338.3,214.34 L338.8,214.33 L339.3,214.32 L339.8,214.31 L340.3,214.29 L340.8,214.28 L341.3,214.26 L341.8,214.24 L342.3,214.23 L342.8,214.21 L343.3,214.19 L343.8,214.16 L344.3,214.14 L344.8,214.12 L345.3,214.09 L345.8,214.07 L346.3,214.04 L346.8,214.02 L347.3,213.99 L347.8,213.96 L348.3,213.93 L348.8,213.90 L349.3,213.87 L349.8,213.84 L350.3,213.81 L350.8,213.77 L351.3,213.74 L351.8,213.71 L352.3,213.67 L352.8,213.64 L353.3,213.61 L353.8,213.57 L354.3,213.54 L354.8,213.50 L355.3,213.46 L355.8,213.43 L356.3,213.39 L356.8,213.36 L357.3,213.32 L357.8,213.28 L358.3,213.25 L358.8,213.21 L359.3,213.17 L359.8,213.14 L360.3,213.10 L360.8,213.06 L361.3,213.02 L361.8,212.99 L362.3,212.95 L362.8,212.91 L363.3,212.87 L363.8,212.83 L364.3,212.79 L364.8,212.75 L365.3,212.70 L365.8,212.66 L366.3,212.61 L366.8,212.56 L367.3,212.52 L367.8,212.46 L368.3,212.41 L368.8,212.36 L369.3,212.30 L369.8,212.24 L370.3,212.18 L370.8,212.11 L371.3,212.04 L371.8,211.97 L372.3,211.90 L372.8,211.82 L373.3,211.74 L373.8,211.65 L374.3,211.56 L374.8,211.46 L375.3,211.36 L375.8,211.25 L376.3,211.14 L376.8,211.02 L377.3,210.89 L377.8,210.76 L378.3,210.62 L378.8,210.46 L379.3,210.30 L379.8,210.13 L380.3,209.95 L380.8,209.76 L381.3,209.55 L381.8,209.33 L382.3,209.10 L382.8,208.86 L383.3,208.59 L383.8,208.31 L384.3,208.02 L384.8,207.71 L385.3,207.37 L385.8,207.02 L386.3,206.65 L386.8,206.25 L387.3,205.83 L387.8,205.39 L388.3,204.93 L388.8,204.44 L389.3,203.93 L389.8,203.39 L390.3,202.83 L390.8,202.25 L391.3,201.64 L391.8,201.01 L392.3,200.35 L392.8,199.66 L393.3,198.96 L393.8,198.22 L394.3,197.46 L394.8,196.68 L395.3,195.88 L395.8,195.05 L396.3,194.20 L396.8,193.32 L397.3,192.43 L397.8,191.51 L398.3,190.58 L398.8,189.63 L399.3,188.66 L399.8,187.68 L400.3,186.69 L400.8,185.68 L401.3,184.65 L401.8,183.62 L402.3,182.57 L402.8,181.52 L403.3,180.46 L403.8,179.40 L404.3,178.34 L404.8,177.27 L405.3,176.22 L405.8,175.17 L406.3,174.12 L406.8,173.09 L407.3,172.07 L407.8,171.07 L408.3,170.08 L408.8,169.12 L409.3,168.18 L409.8,167.27 L410.3,166.39 L410.8,165.54 L411.3,164.72 L411.8,163.93 L412.3,163.19 L412.8,162.48 L413.3,161.82 L413.8,161.20 L414.3,160.63 L414.8,160.11 L415.3,159.63 L415.8,159.20 L416.3,158.83 L416.8,158.51 L417.3,158.24 L417.8,158.02 L418.3,157.86 L418.8,157.75 L419.3,157.70 L419.8,157.70 L420.3,157.76 L420.8,157.86 L421.3,158.02 L421.8,158.22 L422.3,158.48 L422.8,158.78 L423.3,159.12 L423.8,159.51 L424.3,159.95 L424.8,160.42 L425.3,160.94 L425.8,161.49 L426.3,162.08 L426.8,162.70 L427.3,163.35 L427.8,164.03 L428.3,164.73 L428.8,165.47 L429.3,166.22 L429.8,166.99 L430.3,167.78 L430.8,168.58 L431.3,169.40 L431.8,170.22 L432.3,171.05 L432.8,171.89 L433.3,172.73 L433.8,173.57 L434.3,174.42 L434.8,175.26 L435.3,176.09 L435.8,176.92 L436.3,177.74 L436.8,178.55 L437.3,179.34 L437.8,180.13 L438.3,180.90 L438.8,181.66 L439.3,182.40 L439.8,183.13 L440.3,183.83 L440.8,184.52 L441.3,185.18 L441.8,185.82 L442.3,186.44 L442.8,187.03 L443.3,187.60 L443.8,188.15 L444.3,188.67 L444.8,189.17 L445.3,189.65 L445.8,190.11 L446.3,190.54 L446.8,190.95 L447.3,191.34 L447.8,191.71 L448.3,192.05 L448.8,192.38 L449.3,192.69 L449.8,192.98 L450.3,193.26 L450.8,193.51 L451.3,193.75 L451.8,193.98 L452.3,194.19 L452.8,194.38 L453.3,194.57 L453.8,194.74 L454.3,194.90 L454.8,195.05 L455.3,195.19 L455.8,195.32 L456.3,195.44 L456.8,195.55 L457.3,195.66 L457.8,195.76 L458.3,195.86 L458.8,195.95 L459.3,196.04 L459.8,196.12 L460.3,196.20 L460.8,196.28 L461.3,196.34 L461.8,196.41 L462.3,196.46 L462.8,196.52 L463.3,196.56 L463.8,196.61 L464.3,196.65 L464.8,196.68 L465.3,196.71 L465.8,196.74 L466.3,196.77 L466.8,196.79 L467.3,196.82 L467.8,196.84 L468.3,196.85 L468.8,196.87 L469.3,196.88 L469.8,196.90 L470.3,196.91 L470.8,196.92 L471.3,196.93 L471.8,196.94 L472.3,196.94 L472.8,196.95 L473.3,196.96 L473.8,196.96 L474.3,196.97 L474.8,196.97 L475.3,196.97 L475.8,196.98 L476.3,196.98 L476.8,196.98 L477.3,196.98 L477.8,196.99 L478.3,196.99 L478.8,196.99 L479.3,196.99 L479.8,196.99 L480.3,196.99 L480.8,196.99 L481.3,197.00 L481.8,197.00 L482.3,197.00 L482.8,197.00 L483.3,197.00 L483.8,197.00 L484.3,197.00 L484.8,197.00 L485.3,197.00 L485.8,197.00 L486.3,197.00 L486.8,197.00 L487.3,197.00 L487.8,197.00 L488.3,197.00 L488.8,197.00 L489.3,197.00 L489.8,197.00 L490.3,197.00 L490.8,197.00 L491.3,197.00 L491.8,197.00 L492.3,197.00 L492.8,197.00 L493.3,197.00 L493.8,197.00 L494.3,197.00 L494.8,197.00 L495.3,197.00 L495.8,197.00 L496.3,197.00 L496.8,197.00 L497.3,197.00 L497.8,197.00 L498.3,197.00 L498.8,197.00 L499.3,197.00 L499.8,197.00 L500.3,197.00 L500.8,197.00 L501.3,197.00 L501.8,197.00 L502.3,197.00 L502.8,197.00 L503.3,197.00 L503.8,197.00 L504.3,197.00 L504.8,197.00 L505.3,197.00 L505.8,197.00 L506.3,197.00 L506.8,197.00 L507.3,197.00 L507.8,197.00 L508.3,197.00 L508.8,197.00 L509.3,197.00 L509.8,197.00 L510.3,197.00 L510.8,197.00 L511.3,197.00 L511.8,197.00 L512.3,197.00 L512.8,197.00 L513.3,197.00 L513.8,197.00 L514.3,197.00 L514.8,197.00 L515.3,197.00 L515.8,197.00 L516.3,197.00 L516.8,197.00 L517.3,197.00 L517.8,197.00 L518.3,197.00 L518.8,197.00 L519.3,197.00 L519.8,197.00 L520.3,197.00 L520.8,197.00 L521.3,197.00 L521.8,197.00 L522.3,197.00 L522.8,197.00 L523.3,197.00 L523.8,197.00 L524.3,197.00 L524.8,197.00 L525.3,197.00 L525.8,197.00 L526.3,197.00 L526.8,197.00 L527.3,197.00 L527.8,197.00 L528.3,197.00 L528.8,197.00 L529.3,197.00 L529.8,197.00 L530.3,197.00 L530.8,197.00 L531.3,197.00 L531.8,197.00 L532.3,197.00 L532.8,197.00 L533.3,197.00 L533.8,197.00 L534.3,197.00 L534.8,197.00 L535.3,197.00 L535.8,197.00" fill="none" stroke="#0000ff" stroke-width="2.2" stroke-linejoin="round" stroke-linecap="round" />
<path d="M295.8,214.00 L296.3,213.97 L296.8,213.93 L297.3,213.90 L297.8,213.86 L298.3,213.83 L298.8,213.80 L299.3,213.76 L299.8,213.73 L300.3,213.69 L300.8,213.66 L301.3,213.62 L301.8,213.59 L302.3,213.56 L302.8,213.52 L303.3,213.49 L303.8,213.45 L304.3,213.42 L304.8,213.38 L305.3,213.35 L305.8,213.31 L306.3,213.28 L306.8,213.24 L307.3,213.21 L307.8,213.17 L308.3,213.14 L308.8,213.10 L309.3,213.07 L309.8,213.03 L310.3,213.00 L310.8,212.96 L311.3,212.92 L311.8,212.89 L312.3,212.85 L312.8,212.82 L313.3,212.78 L313.8,212.75 L314.3,212.71 L314.8,212.68 L315.3,212.64 L315.8,212.60 L316.3,212.57 L316.8,212.53 L317.3,212.50 L317.8,212.46 L318.3,212.42 L318.8,212.39 L319.3,212.35 L319.8,212.31 L320.3,212.28 L320.8,212.24 L321.3,212.20 L321.8,212.17 L322.3,212.13 L322.8,212.09 L323.3,212.05 L323.8,212.01 L324.3,211.97 L324.8,211.93 L325.3,211.89 L325.8,211.85 L326.3,211.80 L326.8,211.76 L327.3,211.72 L327.8,211.68 L328.3,211.64 L328.8,211.60 L329.3,211.56 L329.8,211.52 L330.3,211.48 L330.8,211.44 L331.3,211.40 L331.8,211.36 L332.3,211.32 L332.8,211.28 L333.3,211.24 L333.8,211.20 L334.3,211.17 L334.8,211.13 L335.3,211.09 L335.8,211.06 L336.3,211.02 L336.8,210.99 L337.3,210.96 L337.8,210.93 L338.3,210.90 L338.8,210.87 L339.3,210.84 L339.8,210.81 L340.3,210.78 L340.8,210.76 L341.3,210.73 L341.8,210.71 L342.3,210.68 L342.8,210.66 L343.3,210.63 L343.8,210.61 L344.3,210.58 L344.8,210.56 L345.3,210.54 L345.8,210.51 L346.3,210.49 L346.8,210.47 L347.3,210.45 L347.8,210.42 L348.3,210.40 L348.8,210.38 L349.3,210.36 L349.8,210.34 L350.3,210.32 L350.8,210.30 L351.3,210.28 L351.8,210.26 L352.3,210.24 L352.8,210.22 L353.3,210.20 L353.8,210.18 L354.3,210.16 L354.8,210.14 L355.3,210.12 L355.8,210.10 L356.3,210.08 L356.8,210.07 L357.3,210.05 L357.8,210.03 L358.3,210.01 L358.8,210.00 L359.3,209.98 L359.8,209.96 L360.3,209.95 L360.8,209.93 L361.3,209.91 L361.8,209.90 L362.3,209.88 L362.8,209.87 L363.3,209.85 L363.8,209.84 L364.3,209.82 L364.8,209.81 L365.3,209.79 L365.8,209.78 L366.3,209.76 L366.8,209.75 L367.3,209.74 L367.8,209.73 L368.3,209.72 L368.8,209.71 L369.3,209.70 L369.8,209.69 L370.3,209.68 L370.8,209.67 L371.3,209.66 L371.8,209.65 L372.3,209.65 L372.8,209.64 L373.3,209.63 L373.8,209.62 L374.3,209.61 L374.8,209.61 L375.3,209.60 L375.8,209.59 L376.3,209.58 L376.8,209.57 L377.3,209.56 L377.8,209.55 L378.3,209.54 L378.8,209.53 L379.3,209.52 L379.8,209.51 L380.3,209.50 L380.8,209.48 L381.3,209.47 L381.8,209.46 L382.3,209.44 L382.8,209.43 L383.3,209.41 L383.8,209.39 L384.3,209.37 L384.8,209.35 L385.3,209.33 L385.8,209.31 L386.3,209.28 L386.8,209.25 L387.3,209.21 L387.8,209.16 L388.3,209.10 L388.8,209.03 L389.3,208.95 L389.8,208.87 L390.3,208.79 L390.8,208.70 L391.3,208.60 L391.8,208.50 L392.3,208.40 L392.8,208.29 L393.3,208.18 L393.8,208.07 L394.3,207.96 L394.8,207.85 L395.3,207.73 L395.8,207.60 L396.3,207.47 L396.8,207.32 L397.3,207.16 L397.8,207.00 L398.3,206.82 L398.8,206.65 L399.3,206.46 L399.8,206.27 L400.3,206.08 L400.8,205.89 L401.3,205.69 L401.8,205.50 L402.3,205.30 L402.8,205.11 L403.3,204.91 L403.8,204.72 L404.3,204.52 L404.8,204.30 L405.3,204.08 L405.8,203.85 L406.3,203.62 L406.8,203.38 L407.3,203.16 L407.8,202.94 L408.3,202.74 L408.8,202.56 L409.3,202.39 L409.8,202.25 L410.3,202.13 L410.8,202.02 L411.3,201.92 L411.8,201.82 L412.3,201.73 L412.8,201.64 L413.3,201.56 L413.8,201.48 L414.3,201.40 L414.8,201.33 L415.3,201.26 L415.8,201.19 L416.3,201.13 L416.8,201.07 L417.3,201.01 L417.8,200.95 L418.3,200.89 L418.8,200.83 L419.3,200.77 L419.8,200.71 L420.3,200.66 L420.8,200.60 L421.3,200.55 L421.8,200.49 L422.3,200.44 L422.8,200.38 L423.3,200.33 L423.8,200.28 L424.3,200.23 L424.8,200.17 L425.3,200.12 L425.8,200.07 L426.3,200.03 L426.8,199.98 L427.3,199.93 L427.8,199.88 L428.3,199.84 L428.8,199.79 L429.3,199.75 L429.8,199.70 L430.3,199.66 L430.8,199.62 L431.3,199.58 L431.8,199.54 L432.3,199.50 L432.8,199.46 L433.3,199.42 L433.8,199.38 L434.3,199.35 L434.8,199.31 L435.3,199.28 L435.8,199.24 L436.3,199.21 L436.8,199.18 L437.3,199.15 L437.8,199.12 L438.3,199.09 L438.8,199.06 L439.3,199.04 L439.8,199.01 L440.3,198.99 L440.8,198.96 L441.3,198.94 L441.8,198.91 L442.3,198.89 L442.8,198.86 L443.3,198.84 L443.8,198.81 L444.3,198.79 L444.8,198.77 L445.3,198.75 L445.8,198.72 L446.3,198.70 L446.8,198.68 L447.3,198.66 L447.8,198.63 L448.3,198.61 L448.8,198.59 L449.3,198.57 L449.8,198.55 L450.3,198.54 L450.8,198.52 L451.3,198.50 L451.8,198.48 L452.3,198.47 L452.8,198.45 L453.3,198.43 L453.8,198.42 L454.3,198.40 L454.8,198.39 L455.3,198.38 L455.8,198.37 L456.3,198.36 L456.8,198.35 L457.3,198.34 L457.8,198.33 L458.3,198.32 L458.8,198.31 L459.3,198.31 L459.8,198.30 L460.3,198.30 L460.8,198.29 L461.3,198.29 L461.8,198.29 L462.3,198.28 L462.8,198.28 L463.3,198.27 L463.8,198.27 L464.3,198.27 L464.8,198.26 L465.3,198.26 L465.8,198.25 L466.3,198.25 L466.8,198.25 L467.3,198.24 L467.8,198.24 L468.3,198.24 L468.8,198.23 L469.3,198.23 L469.8,198.22 L470.3,198.22 L470.8,198.22 L471.3,198.21 L471.8,198.21 L472.3,198.21 L472.8,198.20 L473.3,198.20 L473.8,198.20 L474.3,198.19 L474.8,198.19 L475.3,198.19 L475.8,198.18 L476.3,198.18 L476.8,198.18 L477.3,198.17 L477.8,198.17 L478.3,198.17 L478.8,198.17 L479.3,198.16 L479.8,198.16 L480.3,198.16 L480.8,198.15 L481.3,198.15 L481.8,198.15 L482.3,198.15 L482.8,198.14 L483.3,198.14 L483.8,198.14 L484.3,198.13 L484.8,198.13 L485.3,198.13 L485.8,198.13 L486.3,198.12 L486.8,198.12 L487.3,198.12 L487.8,198.12 L488.3,198.11 L488.8,198.11 L489.3,198.11 L489.8,198.11 L490.3,198.10 L490.8,198.10 L491.3,198.10 L491.8,198.10 L492.3,198.10 L492.8,198.09 L493.3,198.09 L493.8,198.09 L494.3,198.09 L494.8,198.08 L495.3,198.08 L495.8,198.08 L496.3,198.08 L496.8,198.08 L497.3,198.07 L497.8,198.07 L498.3,198.07 L498.8,198.07 L499.3,198.07 L499.8,198.07 L500.3,198.06 L500.8,198.06 L501.3,198.06 L501.8,198.06 L502.3,198.06 L502.8,198.05 L503.3,198.05 L503.8,198.05 L504.3,198.05 L504.8,198.05 L505.3,198.05 L505.8,198.05 L506.3,198.04 L506.8,198.04 L507.3,198.04 L507.8,198.04 L508.3,198.04 L508.8,198.04 L509.3,198.04 L509.8,198.03 L510.3,198.03 L510.8,198.03 L511.3,198.03 L511.8,198.03 L512.3,198.03 L512.8,198.03 L513.3,198.03 L513.8,198.02 L514.3,198.02 L514.8,198.02 L515.3,198.02 L515.8,198.02 L516.3,198.02 L516.8,198.02 L517.3,198.02 L517.8,198.02 L518.3,198.02 L518.8,198.02 L519.3,198.01 L519.8,198.01 L520.3,198.01 L520.8,198.01 L521.3,198.01 L521.8,198.01 L522.3,198.01 L522.8,198.01 L523.3,198.01 L523.8,198.01 L524.3,198.01 L524.8,198.01 L525.3,198.01 L525.8,198.01 L526.3,198.01 L526.8,198.00 L527.3,198.00 L527.8,198.00 L528.3,198.00 L528.8,198.00 L529.3,198.00 L529.8,198.00 L530.3,198.00 L530.8,198.00 L531.3,198.00 L531.8,198.00 L532.3,198.00 L532.8,198.00 L533.3,198.00 L533.8,198.00 L534.3,198.00 L534.8,198.00 L535.3,198.00 L535.8,198.00" fill="none" stroke="#00a060" stroke-width="2.5" stroke-linejoin="round" stroke-linecap="round" />
<path d="M468.3,196.30 L468.8,196.30 L469.3,196.30 L469.8,196.30 L470.3,196.30 L470.8,196.30 L471.3,196.30 L471.8,196.30 L472.3,196.30 L472.8,196.30 L473.3,196.30 L473.8,196.30 L474.3,196.30 L474.8,196.30 L475.3,196.30 L475.8,196.30 L476.3,196.30 L476.8,196.30 L477.3,196.30 L477.8,196.30 L478.3,196.30 L478.8,196.30 L479.3,196.30 L479.8,196.30 L480.3,196.30 L480.8,196.30 L481.3,196.30 L481.8,196.30 L482.3,196.30 L482.8,196.30 L483.3,196.30 L483.8,196.30 L484.3,196.30 L484.8,196.30 L485.3,196.30 L485.8,196.30 L486.3,196.30 L486.8,196.30 L487.3,196.30 L487.8,196.30 L488.3,196.30 L488.8,196.30 L489.3,196.30 L489.8,196.30 L490.3,196.30 L490.8,196.30 L491.3,196.30 L491.8,196.30 L492.3,196.30 L492.8,196.30 L493.3,196.30 L493.8,196.30 L494.3,196.30 L494.8,196.30 L495.3,196.30 L495.8,196.30 L496.3,196.30 L496.8,196.30 L497.3,196.30 L497.8,196.30 L498.3,196.30 L498.8,196.30 L499.3,196.30 L499.8,196.30 L500.3,196.30 L500.8,196.30 L501.3,196.30 L501.8,196.30 L502.3,196.30 L502.8,196.30 L503.3,196.30 L503.8,196.30 L504.3,196.30 L504.8,196.30 L505.3,196.30 L505.8,196.30 L506.3,196.30 L506.8,196.30 L507.3,196.30 L507.8,196.30 L508.3,196.30 L508.8,196.30 L509.3,196.30 L509.8,196.30 L510.3,196.30 L510.8,196.30 L511.3,196.30 L511.8,196.30 L512.3,196.30 L512.8,196.30 L513.3,196.30 L513.8,196.30 L514.3,196.30 L514.8,196.30 L515.3,196.30 L515.8,196.30 L516.3,196.30 L516.8,196.30 L517.3,196.30 L517.8,196.30 L518.3,196.30 L518.8,196.30 L519.3,196.30 L519.8,196.30 L520.3,196.30 L520.8,196.30 L521.3,196.30 L521.8,196.30 L522.3,196.30 L522.8,196.30" fill="none" stroke="#b8a8ff" stroke-width="1.0" stroke-linejoin="round" stroke-linecap="round" />
<path d="M295.8,215.50 L296.3,215.50 L296.8,215.50 L297.3,215.50 L297.8,215.50 L298.3,215.50 L298.8,215.50 L299.3,215.50 L299.8,215.50 L300.3,215.50 L300.8,215.50 L301.3,215.50 L301.8,215.50 L302.3,215.50 L302.8,215.50 L303.3,215.49 L303.8,215.49 L304.3,215.49 L304.8,215.49 L305.3,215.49 L305.8,215.49 L306.3,215.49 L306.8,215.49 L307.3,215.49 L307.8,215.49 L308.3,215.49 L308.8,215.48 L309.3,215.48 L309.8,215.48 L310.3,215.48 L310.8,215.48 L311.3,215.48 L311.8,215.48 L312.3,215.47 L312.8,215.47 L313.3,215.47 L313.8,215.47 L314.3,215.47 L314.8,215.47 L315.3,215.46 L315.8,215.46 L316.3,215.46 L316.8,215.46 L317.3,215.46 L317.8,215.45 L318.3,215.45 L318.8,215.45 L319.3,215.45 L319.8,215.44 L320.3,215.44 L320.8,215.44 L321.3,215.44 L321.8,215.43 L322.3,215.43 L322.8,215.43 L323.3,215.42 L323.8,215.42 L324.3,215.42 L324.8,215.42 L325.3,215.41 L325.8,215.41 L326.3,215.41 L326.8,215.40 L327.3,215.40 L327.8,215.40 L328.3,215.39 L328.8,215.39 L329.3,215.38 L329.8,215.38 L330.3,215.38 L330.8,215.37 L331.3,215.37 L331.8,215.36 L332.3,215.36 L332.8,215.36 L333.3,215.35 L333.8,215.35 L334.3,215.34 L334.8,215.34 L335.3,215.33 L335.8,215.33 L336.3,215.32 L336.8,215.32 L337.3,215.31 L337.8,215.31 L338.3,215.30 L338.8,215.30 L339.3,215.29 L339.8,215.29 L340.3,215.28 L340.8,215.28 L341.3,215.27 L341.8,215.27 L342.3,215.26 L342.8,215.26 L343.3,215.25 L343.8,215.24 L344.3,215.24 L344.8,215.23 L345.3,215.23 L345.8,215.22 L346.3,215.21 L346.8,215.21 L347.3,215.20 L347.8,215.19 L348.3,215.19 L348.8,215.18 L349.3,215.17 L349.8,215.17 L350.3,215.16 L350.8,215.15 L351.3,215.15 L351.8,215.14 L352.3,215.13 L352.8,215.12 L353.3,215.12 L353.8,215.11 L354.3,215.10 L354.8,215.09 L355.3,215.09 L355.8,215.08 L356.3,215.07 L356.8,215.06 L357.3,215.05 L357.8,215.04 L358.3,215.04 L358.8,215.03 L359.3,215.02 L359.8,215.01 L360.3,215.00 L360.8,214.99 L361.3,214.98 L361.8,214.97 L362.3,214.97 L362.8,214.96 L363.3,214.95 L363.8,214.94 L364.3,214.93 L364.8,214.92 L365.3,214.91 L365.8,214.90 L366.3,214.89 L366.8,214.88 L367.3,214.87 L367.8,214.86 L368.3,214.85 L368.8,214.84 L369.3,214.83 L369.8,214.82 L370.3,214.81 L370.8,214.80 L371.3,214.78 L371.8,214.77 L372.3,214.76 L372.8,214.75 L373.3,214.74 L373.8,214.73 L374.3,214.72 L374.8,214.70 L375.3,214.69 L375.8,214.67 L376.3,214.65 L376.8,214.62 L377.3,214.59 L377.8,214.55 L378.3,214.51 L378.8,214.46 L379.3,214.41 L379.8,214.35 L380.3,214.29 L380.8,214.23 L381.3,214.16 L381.8,214.09 L382.3,214.02 L382.8,213.94 L383.3,213.86 L383.8,213.78 L384.3,213.69 L384.8,213.60 L385.3,213.51 L385.8,213.42 L386.3,213.33 L386.8,213.23 L387.3,213.14 L387.8,213.04 L388.3,212.94 L388.8,212.84 L389.3,212.74 L389.8,212.62 L390.3,212.49 L390.8,212.35 L391.3,212.20 L391.8,212.04 L392.3,211.86 L392.8,211.68 L393.3,211.49 L393.8,211.29 L394.3,211.09 L394.8,210.88 L395.3,210.66 L395.8,210.44 L396.3,210.22 L396.8,209.99 L397.3,209.76 L397.8,209.53 L398.3,209.30 L398.8,209.07 L399.3,208.84 L399.8,208.61 L400.3,208.38 L400.8,208.16 L401.3,207.94 L401.8,207.72 L402.3,207.51 L402.8,207.31 L403.3,207.11 L403.8,206.92 L404.3,206.73 L404.8,206.54 L405.3,206.35 L405.8,206.15 L406.3,205.95 L406.8,205.75 L407.3,205.55 L407.8,205.35 L408.3,205.15 L408.8,204.95 L409.3,204.75 L409.8,204.56 L410.3,204.36 L410.8,204.17 L411.3,203.98 L411.8,203.79 L412.3,203.60 L412.8,203.42 L413.3,203.24 L413.8,203.07 L414.3,202.90 L414.8,202.74 L415.3,202.58 L415.8,202.43 L416.3,202.29 L416.8,202.15 L417.3,202.02 L417.8,201.89 L418.3,201.78 L418.8,201.66 L419.3,201.55 L419.8,201.44 L420.3,201.34 L420.8,201.23 L421.3,201.12 L421.8,201.02 L422.3,200.92 L422.8,200.83 L423.3,200.73 L423.8,200.64 L424.3,200.55 L424.8,200.46 L425.3,200.38 L425.8,200.30 L426.3,200.23 L426.8,200.16 L427.3,200.09 L427.8,200.02 L428.3,199.97 L428.8,199.91 L429.3,199.86 L429.8,199.82 L430.3,199.78 L430.8,199.74 L431.3,199.70 L431.8,199.66 L432.3,199.63 L432.8,199.60 L433.3,199.56 L433.8,199.53 L434.3,199.50 L434.8,199.47 L435.3,199.45 L435.8,199.42 L436.3,199.39 L436.8,199.37 L437.3,199.34 L437.8,199.32 L438.3,199.30 L438.8,199.27 L439.3,199.25 L439.8,199.23 L440.3,199.21 L440.8,199.19 L441.3,199.17 L441.8,199.15 L442.3,199.13 L442.8,199.11 L443.3,199.09 L443.8,199.07 L444.3,199.05 L444.8,199.03 L445.3,199.01 L445.8,198.99 L446.3,198.97 L446.8,198.95 L447.3,198.93 L447.8,198.90 L448.3,198.88 L448.8,198.86 L449.3,198.83 L449.8,198.81 L450.3,198.78 L450.8,198.76 L451.3,198.73 L451.8,198.70 L452.3,198.67 L452.8,198.65 L453.3,198.62 L453.8,198.58 L454.3,198.55 L454.8,198.52 L455.3,198.49 L455.8,198.46 L456.3,198.42 L456.8,198.39 L457.3,198.36 L457.8,198.32 L458.3,198.29 L458.8,198.26 L459.3,198.22 L459.8,198.19 L460.3,198.15 L460.8,198.12 L461.3,198.08 L461.8,198.04 L462.3,198.00 L462.8,197.97 L463.3,197.93 L463.8,197.89 L464.3,197.84 L464.8,197.80 L465.3,197.75 L465.8,197.70 L466.3,197.65 L466.8,197.60 L467.3,197.54 L467.8,197.49 L468.3,197.42 L468.8,197.36 L469.3,197.29 L469.8,197.21 L470.3,197.13 L470.8,197.05 L471.3,196.95 L471.8,196.86 L472.3,196.75 L472.8,196.64 L473.3,196.52 L473.8,196.40 L474.3,196.27 L474.8,196.13 L475.3,196.00 L475.8,195.86 L476.3,195.71 L476.8,195.56 L477.3,195.42 L477.8,195.27 L478.3,195.12 L478.8,194.98 L479.3,194.84 L479.8,194.71 L480.3,194.58 L480.8,194.46 L481.3,194.35 L481.8,194.25 L482.3,194.16 L482.8,194.08 L483.3,194.02 L483.8,193.97 L484.3,193.93 L484.8,193.91 L485.3,193.90 L485.8,193.91 L486.3,193.93 L486.8,193.96 L487.3,194.01 L487.8,194.08 L488.3,194.15 L488.8,194.24 L489.3,194.34 L489.8,194.44 L490.3,194.56 L490.8,194.68 L491.3,194.81 L491.8,194.94 L492.3,195.08 L492.8,195.22 L493.3,195.36 L493.8,195.50 L494.3,195.64 L494.8,195.78 L495.3,195.91 L495.8,196.04 L496.3,196.16 L496.8,196.28 L497.3,196.40 L497.8,196.50 L498.3,196.61 L498.8,196.70 L499.3,196.79 L499.8,196.87 L500.3,196.95 L500.8,197.02 L501.3,197.08 L501.8,197.14 L502.3,197.19 L502.8,197.24 L503.3,197.28 L503.8,197.31 L504.3,197.35 L504.8,197.38 L505.3,197.40 L505.8,197.42 L506.3,197.44 L506.8,197.46 L507.3,197.47 L507.8,197.48 L508.3,197.49 L508.8,197.50 L509.3,197.51 L509.8,197.51 L510.3,197.52 L510.8,197.52 L511.3,197.52 L511.8,197.52 L512.3,197.52 L512.8,197.53 L513.3,197.53 L513.8,197.53 L514.3,197.53 L514.8,197.53 L515.3,197.52 L515.8,197.52 L516.3,197.52 L516.8,197.52 L517.3,197.52 L517.8,197.52 L518.3,197.52 L518.8,197.52 L519.3,197.52 L519.8,197.52 L520.3,197.52 L520.8,197.52 L521.3,197.51 L521.8,197.51 L522.3,197.51 L522.8,197.51 L523.3,197.51 L523.8,197.51 L524.3,197.51 L524.8,197.51 L525.3,197.51 L525.8,197.51 L526.3,197.51 L526.8,197.51 L527.3,197.51 L527.8,197.50 L528.3,197.50 L528.8,197.50 L529.3,197.50 L529.8,197.50 L530.3,197.50 L530.8,197.50 L531.3,197.50 L531.8,197.50 L532.3,197.50 L532.8,197.50 L533.3,197.50 L533.8,197.50 L534.3,197.50 L534.8,197.50 L535.3,197.50 L535.8,197.50" fill="none" stroke="#2ec4c4" stroke-width="2.2" stroke-linejoin="round" stroke-linecap="round" />
<path d="M295.8,215.50 L296.3,215.50 L296.8,215.50 L297.3,215.50 L297.8,215.50 L298.3,215.50 L298.8,215.50 L299.3,215.50 L299.8,215.50 L300.3,215.50 L300.8,215.50 L301.3,215.50 L301.8,215.50 L302.3,215.50 L302.8,215.50 L303.3,215.49 L303.8,215.49 L304.3,215.49 L304.8,215.49 L305.3,215.49 L305.8,215.49 L306.3,215.49 L306.8,215.49 L307.3,215.49 L307.8,215.49 L308.3,215.49 L308.8,215.48 L309.3,215.48 L309.8,215.48 L310.3,215.48 L310.8,215.48 L311.3,215.48 L311.8,215.48 L312.3,215.47 L312.8,215.47 L313.3,215.47 L313.8,215.47 L314.3,215.47 L314.8,215.47 L315.3,215.46 L315.8,215.46 L316.3,215.46 L316.8,215.46 L317.3,215.46 L317.8,215.45 L318.3,215.45 L318.8,215.45 L319.3,215.45 L319.8,215.44 L320.3,215.44 L320.8,215.44 L321.3,215.44 L321.8,215.43 L322.3,215.43 L322.8,215.43 L323.3,215.42 L323.8,215.42 L324.3,215.42 L324.8,215.42 L325.3,215.41 L325.8,215.41 L326.3,215.41 L326.8,215.40 L327.3,215.40 L327.8,215.40 L328.3,215.39 L328.8,215.39 L329.3,215.38 L329.8,215.38 L330.3,215.38 L330.8,215.37 L331.3,215.37 L331.8,215.36 L332.3,215.36 L332.8,215.36 L333.3,215.35 L333.8,215.35 L334.3,215.34 L334.8,215.34 L335.3,215.33 L335.8,215.33 L336.3,215.32 L336.8,215.32 L337.3,215.31 L337.8,215.31 L338.3,215.30 L338.8,215.30 L339.3,215.29 L339.8,215.29 L340.3,215.28 L340.8,215.28 L341.3,215.27 L341.8,215.27 L342.3,215.26 L342.8,215.26 L343.3,215.25 L343.8,215.24 L344.3,215.24 L344.8,215.23 L345.3,215.23 L345.8,215.22 L346.3,215.21 L346.8,215.21 L347.3,215.20 L347.8,215.19 L348.3,215.19 L348.8,215.18 L349.3,215.17 L349.8,215.17 L350.3,215.16 L350.8,215.15 L351.3,215.15 L351.8,215.14 L352.3,215.13 L352.8,215.12 L353.3,215.12 L353.8,215.11 L354.3,215.10 L354.8,215.09 L355.3,215.09 L355.8,215.08 L356.3,215.07 L356.8,215.06 L357.3,215.05 L357.8,215.04 L358.3,215.04 L358.8,215.03 L359.3,215.02 L359.8,215.01 L360.3,215.00 L360.8,214.99 L361.3,214.98 L361.8,214.97 L362.3,214.97 L362.8,214.96 L363.3,214.95 L363.8,214.94 L364.3,214.93 L364.8,214.92 L365.3,214.91 L365.8,214.90 L366.3,214.89 L366.8,214.88 L367.3,214.87 L367.8,214.86 L368.3,214.85 L368.8,214.84 L369.3,214.83 L369.8,214.82 L370.3,214.81 L370.8,214.80 L371.3,214.78 L371.8,214.77 L372.3,214.76 L372.8,214.75 L373.3,214.74 L373.8,214.73 L374.3,214.72 L374.8,214.70 L375.3,214.69 L375.8,214.67 L376.3,214.65 L376.8,214.62 L377.3,214.59 L377.8,214.55 L378.3,214.51 L378.8,214.46 L379.3,214.41 L379.8,214.35 L380.3,214.29 L380.8,214.23 L381.3,214.16 L381.8,214.09 L382.3,214.02 L382.8,213.94 L383.3,213.86 L383.8,213.78 L384.3,213.69 L384.8,213.60 L385.3,213.51 L385.8,213.42 L386.3,213.33 L386.8,213.23 L387.3,213.14 L387.8,213.04 L388.3,212.94 L388.8,212.84 L389.3,212.74 L389.8,212.62 L390.3,212.49 L390.8,212.36 L391.3,212.21 L391.8,212.05 L392.3,211.88 L392.8,211.70 L393.3,211.51 L393.8,211.32 L394.3,211.12 L394.8,210.91 L395.3,210.70 L395.8,210.48 L396.3,210.26 L396.8,210.03 L397.3,209.81 L397.8,209.58 L398.3,209.35 L398.8,209.11 L399.3,208.88 L399.8,208.65 L400.3,208.42 L400.8,208.20 L401.3,207.97 L401.8,207.75 L402.3,207.54 L402.8,207.33 L403.3,207.12 L403.8,206.92 L404.3,206.72 L404.8,206.52 L405.3,206.31 L405.8,206.10 L406.3,205.90 L406.8,205.69 L407.3,205.48 L407.8,205.27 L408.3,205.06 L408.8,204.84 L409.3,204.63 L409.8,204.42 L410.3,204.21 L410.8,204.00 L411.3,203.80 L411.8,203.59 L412.3,203.39 L412.8,203.18 L413.3,202.98 L413.8,202.79 L414.3,202.59 L414.8,202.40 L415.3,202.21 L415.8,202.03 L416.3,201.85 L416.8,201.67 L417.3,201.50 L417.8,201.33 L418.3,201.17 L418.8,201.00 L419.3,200.83 L419.8,200.66 L420.3,200.49 L420.8,200.32 L421.3,200.14 L421.8,199.97 L422.3,199.80 L422.8,199.63 L423.3,199.46 L423.8,199.30 L424.3,199.14 L424.8,198.98 L425.3,198.82 L425.8,198.67 L426.3,198.51 L426.8,198.36 L427.3,198.20 L427.8,198.04 L428.3,197.87 L428.8,197.68 L429.3,197.46 L429.8,197.22 L430.3,196.94 L430.8,196.63 L431.3,196.28 L431.8,195.91 L432.3,195.50 L432.8,195.06 L433.3,194.59 L433.8,194.11 L434.3,193.61 L434.8,193.11 L435.3,192.62 L435.8,192.14 L436.3,191.68 L436.8,191.26 L437.3,190.89 L437.8,190.57 L438.3,190.32 L438.8,190.14 L439.3,190.03 L439.8,190.00 L440.3,190.05 L440.8,190.17 L441.3,190.36 L441.8,190.63 L442.3,190.94 L442.8,191.31 L443.3,191.72 L443.8,192.15 L444.3,192.60 L444.8,193.06 L445.3,193.51 L445.8,193.95 L446.3,194.38 L446.8,194.78 L447.3,195.15 L447.8,195.49 L448.3,195.80 L448.8,196.08 L449.3,196.32 L449.8,196.53 L450.3,196.72 L450.8,196.87 L451.3,197.00 L451.8,197.11 L452.3,197.19 L452.8,197.26 L453.3,197.32 L453.8,197.36 L454.3,197.40 L454.8,197.42 L455.3,197.44 L455.8,197.46 L456.3,197.47 L456.8,197.48 L457.3,197.49 L457.8,197.49 L458.3,197.49 L458.8,197.50 L459.3,197.50 L459.8,197.50 L460.3,197.50 L460.8,197.50 L461.3,197.50 L461.8,197.50 L462.3,197.50 L462.8,197.50 L463.3,197.50 L463.8,197.51 L464.3,197.51 L464.8,197.51 L465.3,197.51 L465.8,197.51 L466.3,197.51 L466.8,197.51 L467.3,197.51 L467.8,197.51 L468.3,197.51 L468.8,197.51 L469.3,197.51 L469.8,197.51 L470.3,197.51 L470.8,197.51 L471.3,197.51 L471.8,197.51 L472.3,197.51 L472.8,197.52 L473.3,197.52 L473.8,197.52 L474.3,197.52 L474.8,197.52 L475.3,197.52 L475.8,197.52 L476.3,197.52 L476.8,197.52 L477.3,197.52 L477.8,197.52 L478.3,197.52 L478.8,197.53 L479.3,197.53 L479.8,197.53 L480.3,197.53 L480.8,197.53 L481.3,197.53 L481.8,197.53 L482.3,197.53 L482.8,197.53 L483.3,197.54 L483.8,197.54 L484.3,197.54 L484.8,197.54 L485.3,197.54 L485.8,197.54 L486.3,197.54 L486.8,197.54 L487.3,197.55 L487.8,197.55 L488.3,197.55 L488.8,197.55 L489.3,197.55 L489.8,197.55 L490.3,197.55 L490.8,197.56 L491.3,197.56 L491.8,197.56 L492.3,197.56 L492.8,197.56 L493.3,197.56 L493.8,197.57 L494.3,197.57 L494.8,197.57 L495.3,197.57 L495.8,197.57 L496.3,197.58 L496.8,197.58 L497.3,197.58 L497.8,197.58 L498.3,197.58 L498.8,197.58 L499.3,197.59 L499.8,197.59 L500.3,197.59 L500.8,197.59 L501.3,197.60 L501.8,197.60 L502.3,197.60 L502.8,197.60 L503.3,197.60 L503.8,197.61 L504.3,197.61 L504.8,197.61 L505.3,197.61 L505.8,197.62 L506.3,197.62 L506.8,197.62 L507.3,197.62 L507.8,197.63 L508.3,197.63 L508.8,197.63 L509.3,197.63 L509.8,197.64 L510.3,197.64 L510.8,197.64 L511.3,197.65 L511.8,197.65 L512.3,197.65 L512.8,197.65 L513.3,197.66 L513.8,197.66 L514.3,197.66 L514.8,197.67 L515.3,197.67 L515.8,197.67 L516.3,197.68 L516.8,197.68 L517.3,197.68 L517.8,197.69 L518.3,197.69 L518.8,197.69 L519.3,197.70 L519.8,197.70 L520.3,197.70 L520.8,197.71 L521.3,197.73 L521.8,197.75 L522.3,197.77 L522.8,197.80 L523.3,197.83 L523.8,197.87 L524.3,197.91 L524.8,197.96 L525.3,198.00 L525.8,198.06 L526.3,198.11 L526.8,198.17 L527.3,198.23 L527.8,198.29 L528.3,198.36 L528.8,198.42 L529.3,198.49 L529.8,198.56 L530.3,198.63 L530.8,198.70 L531.3,198.78 L531.8,198.85 L532.3,198.92 L532.8,199.00 L533.3,199.07 L533.8,199.15 L534.3,199.22 L534.8,199.29 L535.3,199.36 L535.8,199.44" fill="none" stroke="#ff8000" stroke-width="2.4" stroke-linejoin="round" stroke-linecap="round" />
<line x1="371.4" y1="87.6" x2="395" y2="90.4" stroke="#000" stroke-width="1.0"/>
<line x1="428.8" y1="138.6" x2="423.0" y2="154.8" stroke="#000" stroke-width="1.0"/>
<line x1="445.7" y1="166.3" x2="440.5" y2="189" stroke="#000" stroke-width="1.0"/>
<text x="339.2" y="90.5" font-family='"Liberation Sans", sans-serif' font-size="10" font-weight="bold" text-anchor="start" stroke="#000" stroke-width="0.22" >C=N-C</text>
<text x="422.7" y="133.6" font-family='"Liberation Sans", sans-serif' font-size="10" font-weight="bold" text-anchor="start" stroke="#000" stroke-width="0.22" >N-(C)<tspan font-size="7.3" dy="2.9" stroke-width="0.12">3</tspan></text>
<text x="437" y="162.6" font-family='"Liberation Sans", sans-serif' font-size="10" font-weight="bold" text-anchor="start" stroke="#000" stroke-width="0.22" >C-N-H</text>
<text x="531.8" y="38.7" font-family='"Liberation Sans", sans-serif' font-size="10" font-weight="bold" text-anchor="end" stroke="#000" stroke-width="0.22" >N1s spectrum</text>
<text x="299" y="16.9" font-family='"Liberation Serif", serif' font-size="20" font-weight="bold" text-anchor="start" >b</text>
<text x="434.9" y="252.9" font-family='"Liberation Serif", serif' font-size="13.7" font-weight="bold" text-anchor="middle" >Binding energy / eV</text>
<text x="0" y="0" transform="translate(288.5,111) rotate(-90)" font-family='"Liberation Serif", serif' font-size="14.0" font-weight="bold" text-anchor="middle">XPS intensity / a.u.</text>
<rect x="26.0" y="267.9" width="242.2" height="195.10000000000002" fill="none" stroke="#000" stroke-width="1.6"/>
<line x1="26.0" y1="463.0" x2="26.0" y2="466.6" stroke="#000" stroke-width="1.3"/>
<text x="0" y="0" transform="translate(25.6,478.29999999999995) scale(1.035,1)" font-family='"Liberation Sans", sans-serif' font-size="10.5" font-weight="bold" text-anchor="middle" stroke="#000" stroke-width="0.3" >224</text>
<line x1="54.49411764705882" y1="463.0" x2="54.49411764705882" y2="466.6" stroke="#000" stroke-width="1.3"/>
<text x="0" y="0" transform="translate(54.09,478.29999999999995) scale(1.035,1)" font-family='"Liberation Sans", sans-serif' font-size="10.5" font-weight="bold" text-anchor="middle" stroke="#000" stroke-width="0.3" >226</text>
<line x1="82.98823529411764" y1="463.0" x2="82.98823529411764" y2="466.6" stroke="#000" stroke-width="1.3"/>
<text x="0" y="0" transform="translate(82.59,478.29999999999995) scale(1.035,1)" font-family='"Liberation Sans", sans-serif' font-size="10.5" font-weight="bold" text-anchor="middle" stroke="#000" stroke-width="0.3" >228</text>
<line x1="111.48235294117646" y1="463.0" x2="111.48235294117646" y2="466.6" stroke="#000" stroke-width="1.3"/>
<text x="0" y="0" transform="translate(111.08,478.29999999999995) scale(1.035,1)" font-family='"Liberation Sans", sans-serif' font-size="10.5" font-weight="bold" text-anchor="middle" stroke="#000" stroke-width="0.3" >230</text>
<line x1="139.9764705882353" y1="463.0" x2="139.9764705882353" y2="466.6" stroke="#000" stroke-width="1.3"/>
<text x="0" y="0" transform="translate(139.58,478.29999999999995) scale(1.035,1)" font-family='"Liberation Sans", sans-serif' font-size="10.5" font-weight="bold" text-anchor="middle" stroke="#000" stroke-width="0.3" >232</text>
<line x1="168.47058823529412" y1="463.0" x2="168.47058823529412" y2="466.6" stroke="#000" stroke-width="1.3"/>
<text x="0" y="0" transform="translate(168.07,478.29999999999995) scale(1.035,1)" font-family='"Liberation Sans", sans-serif' font-size="10.5" font-weight="bold" text-anchor="middle" stroke="#000" stroke-width="0.3" >234</text>
<line x1="196.96470588235292" y1="463.0" x2="196.96470588235292" y2="466.6" stroke="#000" stroke-width="1.3"/>
<text x="0" y="0" transform="translate(196.56,478.29999999999995) scale(1.035,1)" font-family='"Liberation Sans", sans-serif' font-size="10.5" font-weight="bold" text-anchor="middle" stroke="#000" stroke-width="0.3" >236</text>
<line x1="225.45882352941175" y1="463.0" x2="225.45882352941175" y2="466.6" stroke="#000" stroke-width="1.3"/>
<text x="0" y="0" transform="translate(225.06,478.29999999999995) scale(1.035,1)" font-family='"Liberation Sans", sans-serif' font-size="10.5" font-weight="bold" text-anchor="middle" stroke="#000" stroke-width="0.3" >238</text>
<line x1="253.95294117647057" y1="463.0" x2="253.95294117647057" y2="466.6" stroke="#000" stroke-width="1.3"/>
<text x="0" y="0" transform="translate(253.55,478.29999999999995) scale(1.035,1)" font-family='"Liberation Sans", sans-serif' font-size="10.5" font-weight="bold" text-anchor="middle" stroke="#000" stroke-width="0.3" >240</text>
<line x1="40.247058823529414" y1="463.0" x2="40.247058823529414" y2="465.2" stroke="#000" stroke-width="1.1"/>
<line x1="68.74117647058823" y1="463.0" x2="68.74117647058823" y2="465.2" stroke="#000" stroke-width="1.1"/>
<line x1="97.23529411764706" y1="463.0" x2="97.23529411764706" y2="465.2" stroke="#000" stroke-width="1.1"/>
<line x1="125.72941176470587" y1="463.0" x2="125.72941176470587" y2="465.2" stroke="#000" stroke-width="1.1"/>
<line x1="154.2235294117647" y1="463.0" x2="154.2235294117647" y2="465.2" stroke="#000" stroke-width="1.1"/>
<line x1="182.71764705882353" y1="463.0" x2="182.71764705882353" y2="465.2" stroke="#000" stroke-width="1.1"/>
<line x1="211.21176470588233" y1="463.0" x2="211.21176470588233" y2="465.2" stroke="#000" stroke-width="1.1"/>
<line x1="239.70588235294116" y1="463.0" x2="239.70588235294116" y2="465.2" stroke="#000" stroke-width="1.1"/>
<line x1="268.2" y1="463.0" x2="268.2" y2="465.2" stroke="#000" stroke-width="1.1"/>
<path d="M26.8,452.67 L27.3,452.67 L27.8,452.67 L28.3,452.66 L28.8,452.66 L29.3,452.65 L29.8,452.64 L30.3,452.64 L30.8,452.63 L31.3,452.62 L31.8,452.61 L32.3,452.61 L32.8,452.60 L33.3,452.59 L33.8,452.58 L34.3,452.57 L34.8,452.56 L35.3,452.55 L35.8,452.54 L36.3,452.53 L36.8,452.52 L37.3,452.51 L37.8,452.49 L38.3,452.48 L38.8,452.47 L39.3,452.46 L39.8,452.44 L40.3,452.43 L40.8,452.42 L41.3,452.40 L41.8,452.39 L42.3,452.38 L42.8,452.36 L43.3,452.35 L43.8,452.33 L44.3,452.32 L44.8,452.31 L45.3,452.29 L45.8,452.28 L46.3,452.26 L46.8,452.25 L47.3,452.23 L47.8,452.22 L48.3,452.20 L48.8,452.18 L49.3,452.17 L49.8,452.15 L50.3,452.13 L50.8,452.11 L51.3,452.09 L51.8,452.07 L52.3,452.05 L52.8,452.03 L53.3,452.01 L53.8,451.99 L54.3,451.96 L54.8,451.94 L55.3,451.92 L55.8,451.89 L56.3,451.87 L56.8,451.84 L57.3,451.81 L57.8,451.79 L58.3,451.76 L58.8,451.73 L59.3,451.70 L59.8,451.68 L60.3,451.65 L60.8,451.62 L61.3,451.59 L61.8,451.56 L62.3,451.53 L62.8,451.49 L63.3,451.46 L63.8,451.42 L64.3,451.39 L64.8,451.35 L65.3,451.31 L65.8,451.27 L66.3,451.23 L66.8,451.18 L67.3,451.14 L67.8,451.09 L68.3,451.05 L68.8,451.00 L69.3,450.95 L69.8,450.91 L70.3,450.86 L70.8,450.81 L71.3,450.75 L71.8,450.70 L72.3,450.64 L72.8,450.58 L73.3,450.53 L73.8,450.46 L74.3,450.40 L74.8,450.34 L75.3,450.28 L75.8,450.21 L76.3,450.15 L76.8,450.08 L77.3,450.01 L77.8,449.95 L78.3,449.88 L78.8,449.81 L79.3,449.74 L79.8,449.67 L80.3,449.60 L80.8,449.53 L81.3,449.47 L81.8,449.40 L82.3,449.33 L82.8,449.27 L83.3,449.20 L83.8,449.14 L84.3,449.07 L84.8,448.99 L85.3,448.92 L85.8,448.84 L86.3,448.75 L86.8,448.66 L87.3,448.56 L87.8,448.46 L88.3,448.34 L88.8,448.20 L89.3,448.04 L89.8,447.87 L90.3,447.69 L90.8,447.49 L91.3,447.29 L91.8,447.08 L92.3,446.86 L92.8,446.64 L93.3,446.42 L93.8,446.20 L94.3,445.98 L94.8,445.77 L95.3,445.56 L95.8,445.34 L96.3,445.12 L96.8,444.90 L97.3,444.66 L97.8,444.43 L98.3,444.19 L98.8,443.96 L99.3,443.72 L99.8,443.48 L100.3,443.25 L100.8,443.01 L101.3,442.79 L101.8,442.56 L102.3,442.34 L102.8,442.13 L103.3,441.93 L103.8,441.73 L104.3,441.53 L104.8,441.33 L105.3,441.13 L105.8,440.93 L106.3,440.74 L106.8,440.54 L107.3,440.35 L107.8,440.15 L108.3,439.95 L108.8,439.76 L109.3,439.56 L109.8,439.36 L110.3,439.16 L110.8,438.96 L111.3,438.75 L111.8,438.53 L112.3,438.31 L112.8,438.09 L113.3,437.85 L113.8,437.60 L114.3,437.33 L114.8,437.05 L115.3,436.74 L115.8,436.41 L116.3,436.06 L116.8,435.67 L117.3,435.24 L117.8,434.78 L118.3,434.27 L118.8,433.71 L119.3,433.09 L119.8,432.41 L120.3,431.67 L120.8,430.86 L121.3,429.97 L121.8,428.99 L122.3,427.93 L122.8,426.78 L123.3,425.52 L123.8,424.15 L124.3,422.67 L124.8,421.08 L125.3,419.36 L125.8,417.52 L126.3,415.55 L126.8,413.44 L127.3,411.21 L127.8,408.84 L128.3,406.35 L128.8,403.73 L129.3,400.99 L129.8,398.13 L130.3,395.16 L130.8,392.09 L131.3,388.93 L131.8,385.68 L132.3,382.37 L132.8,379.01 L133.3,375.61 L133.8,372.20 L134.3,368.79 L134.8,365.40 L135.3,362.06 L135.8,358.78 L136.3,355.60 L136.8,352.52 L137.3,349.59 L137.8,346.82 L138.3,344.24 L138.8,341.89 L139.3,339.77 L139.8,337.93 L140.3,336.38 L140.8,335.13 L141.3,334.21 L141.8,333.62 L142.3,333.38 L142.8,333.47 L143.3,333.90 L143.8,334.67 L144.3,335.76 L144.8,337.14 L145.3,338.80 L145.8,340.71 L146.3,342.86 L146.8,345.22 L147.3,347.76 L147.8,350.46 L148.3,353.30 L148.8,356.25 L149.3,359.28 L149.8,362.37 L150.3,365.51 L150.8,368.66 L151.3,371.82 L151.8,374.95 L152.3,378.05 L152.8,381.10 L153.3,384.07 L153.8,386.96 L154.3,389.75 L154.8,392.43 L155.3,395.00 L155.8,397.45 L156.3,399.78 L156.8,401.98 L157.3,404.05 L157.8,406.00 L158.3,407.81 L158.8,409.50 L159.3,411.07 L159.8,412.52 L160.3,413.85 L160.8,415.07 L161.3,416.18 L161.8,417.20 L162.3,418.11 L162.8,418.94 L163.3,419.69 L163.8,420.36 L164.3,420.96 L164.8,421.49 L165.3,421.97 L165.8,422.39 L166.3,422.76 L166.8,423.09 L167.3,423.38 L167.8,423.63 L168.3,423.85 L168.8,424.05 L169.3,424.22 L169.8,424.37 L170.3,424.50 L170.8,424.61 L171.3,424.71 L171.8,424.79 L172.3,424.86 L172.8,424.92 L173.3,424.98 L173.8,425.02 L174.3,425.06 L174.8,425.10 L175.3,425.13 L175.8,425.16 L176.3,425.18 L176.8,425.20 L177.3,425.21 L177.8,425.23 L178.3,425.24 L178.8,425.25 L179.3,425.26 L179.8,425.26 L180.3,425.27 L180.8,425.27 L181.3,425.27 L181.8,425.27 L182.3,425.27 L182.8,425.27 L183.3,425.27 L183.8,425.26 L184.3,425.26 L184.8,425.25 L185.3,425.24 L185.8,425.23 L186.3,425.22 L186.8,425.21 L187.3,425.20 L187.8,425.18 L188.3,425.17 L188.8,425.16 L189.3,425.14 L189.8,425.13 L190.3,425.11 L190.8,425.10 L191.3,425.08 L191.8,425.06 L192.3,425.05 L192.8,425.03 L193.3,425.01 L193.8,425.00 L194.3,424.98 L194.8,424.96 L195.3,424.95 L195.8,424.93 L196.3,424.92 L196.8,424.90 L197.3,424.89 L197.8,424.87 L198.3,424.86 L198.8,424.85 L199.3,424.83 L199.8,424.82 L200.3,424.81 L200.8,424.80 L201.3,424.79 L201.8,424.78 L202.3,424.77 L202.8,424.76 L203.3,424.75 L203.8,424.74 L204.3,424.73 L204.8,424.72 L205.3,424.72 L205.8,424.71 L206.3,424.70 L206.8,424.69 L207.3,424.68 L207.8,424.67 L208.3,424.66 L208.8,424.65 L209.3,424.64 L209.8,424.64 L210.3,424.63 L210.8,424.62 L211.3,424.61 L211.8,424.60 L212.3,424.59 L212.8,424.59 L213.3,424.58 L213.8,424.57 L214.3,424.56 L214.8,424.55 L215.3,424.54 L215.8,424.54 L216.3,424.53 L216.8,424.52 L217.3,424.51 L217.8,424.50 L218.3,424.50 L218.8,424.49 L219.3,424.48 L219.8,424.47 L220.3,424.46 L220.8,424.46 L221.3,424.45 L221.8,424.44 L222.3,424.43 L222.8,424.42 L223.3,424.41 L223.8,424.40 L224.3,424.40 L224.8,424.39 L225.3,424.38 L225.8,424.37 L226.3,424.36 L226.8,424.35 L227.3,424.34 L227.8,424.33 L228.3,424.32 L228.8,424.31 L229.3,424.30 L229.8,424.29 L230.3,424.28 L230.8,424.27 L231.3,424.26 L231.8,424.25 L232.3,424.24 L232.8,424.23 L233.3,424.22 L233.8,424.21 L234.3,424.20 L234.8,424.19 L235.3,424.18 L235.8,424.17 L236.3,424.16 L236.8,424.15 L237.3,424.14 L237.8,424.12 L238.3,424.11 L238.8,424.10 L239.3,424.09 L239.8,424.08 L240.3,424.07 L240.8,424.06 L241.3,424.05 L241.8,424.04 L242.3,424.03 L242.8,424.02 L243.3,424.01 L243.8,424.00 L244.3,423.99 L244.8,423.98 L245.3,423.96 L245.8,423.95 L246.3,423.94 L246.8,423.93 L247.3,423.92 L247.8,423.91 L248.3,423.90 L248.8,423.89 L249.3,423.88 L249.8,423.87 L250.3,423.86 L250.8,423.85 L251.3,423.84 L251.8,423.83 L252.3,423.82 L252.8,423.80 L253.3,423.79 L253.8,423.78 L254.3,423.77 L254.8,423.76 L255.3,423.75 L255.8,423.74 L256.3,423.73 L256.8,423.72 L257.3,423.71 L257.8,423.70 L258.3,423.69 L258.8,423.68 L259.3,423.67 L259.8,423.66 L260.3,423.64 L260.8,423.63 L261.3,423.62 L261.8,423.61 L262.3,423.60 L262.8,423.59 L263.3,423.58 L263.8,423.57 L264.3,423.56 L264.8,423.55 L265.3,423.54 L265.8,423.53 L266.3,423.52 L266.8,423.51 L267.3,423.50" fill="none" stroke="#ff3333" stroke-width="2.2" stroke-linejoin="round" stroke-linecap="round" />
<path d="M26.8,452.72 L27.3,452.70 L27.8,452.68 L28.3,452.66 L28.8,452.63 L29.3,452.60 L29.8,452.56 L30.3,452.52 L30.8,452.48 L31.3,452.42 L31.8,452.36 L32.3,452.30 L32.8,452.22 L33.3,452.14 L33.8,452.04 L34.3,451.94 L34.8,451.82 L35.3,451.69 L35.8,451.55 L36.3,451.39 L36.8,451.21 L37.3,451.02 L37.8,450.80 L38.3,450.57 L38.8,450.31 L39.3,450.03 L39.8,449.73 L40.3,449.40 L40.8,449.05 L41.3,448.67 L41.8,448.26 L42.3,447.82 L42.8,447.35 L43.3,446.85 L43.8,446.32 L44.3,445.76 L44.8,445.17 L45.3,444.55 L45.8,443.89 L46.3,443.21 L46.8,442.50 L47.3,441.77 L47.8,441.01 L48.3,440.23 L48.8,439.42 L49.3,438.60 L49.8,437.76 L50.3,436.92 L50.8,436.06 L51.3,435.20 L51.8,434.34 L52.3,433.48 L52.8,432.63 L53.3,431.80 L53.8,430.98 L54.3,430.18 L54.8,429.41 L55.3,428.68 L55.8,427.98 L56.3,427.32 L56.8,426.70 L57.3,426.13 L57.8,425.62 L58.3,425.16 L58.8,424.77 L59.3,424.43 L59.8,424.16 L60.3,423.95 L60.8,423.81 L61.3,423.74 L61.8,423.74 L62.3,423.81 L62.8,423.94 L63.3,424.14 L63.8,424.40 L64.3,424.73 L64.8,425.11 L65.3,425.55 L65.8,426.04 L66.3,426.58 L66.8,427.17 L67.3,427.80 L67.8,428.46 L68.3,429.16 L68.8,429.89 L69.3,430.64 L69.8,431.40 L70.3,432.18 L70.8,432.97 L71.3,433.77 L71.8,434.56 L72.3,435.35 L72.8,436.13 L73.3,436.90 L73.8,437.66 L74.3,438.40 L74.8,439.11 L75.3,439.81 L75.8,440.48 L76.3,441.12 L76.8,441.73 L77.3,442.32 L77.8,442.87 L78.3,443.40 L78.8,443.89 L79.3,444.35 L79.8,444.79 L80.3,445.19 L80.8,445.56 L81.3,445.91 L81.8,446.22 L82.3,446.52 L82.8,446.78 L83.3,447.02 L83.8,447.23 L84.3,447.42 L84.8,447.59 L85.3,447.73 L85.8,447.84 L86.3,447.94 L86.8,448.01 L87.3,448.06 L87.8,448.09 L88.3,448.09 L88.8,448.06 L89.3,448.01 L89.8,447.93 L90.3,447.82 L90.8,447.70 L91.3,447.56 L91.8,447.41 L92.3,447.25 L92.8,447.08 L93.3,446.90 L93.8,446.72 L94.3,446.54 L94.8,446.36 L95.3,446.18 L95.8,446.00 L96.3,445.81 L96.8,445.61 L97.3,445.40 L97.8,445.19 L98.3,444.98 L98.8,444.77 L99.3,444.55 L99.8,444.34 L100.3,444.13 L100.8,443.92 L101.3,443.72 L101.8,443.52 L102.3,443.32 L102.8,443.14 L103.3,442.96 L103.8,442.79 L104.3,442.62 L104.8,442.45 L105.3,442.28 L105.8,442.12 L106.3,441.96 L106.8,441.80 L107.3,441.64 L107.8,441.49 L108.3,441.34 L108.8,441.20 L109.3,441.06 L109.8,440.92 L110.3,440.78 L110.8,440.65 L111.3,440.52 L111.8,440.40 L112.3,440.28 L112.8,440.17 L113.3,440.06 L113.8,439.95 L114.3,439.84 L114.8,439.74 L115.3,439.63 L115.8,439.53 L116.3,439.43 L116.8,439.33 L117.3,439.24 L117.8,439.14 L118.3,439.04 L118.8,438.94 L119.3,438.84 L119.8,438.74 L120.3,438.64 L120.8,438.54 L121.3,438.44 L121.8,438.34 L122.3,438.25 L122.8,438.15 L123.3,438.05 L123.8,437.95 L124.3,437.86 L124.8,437.76 L125.3,437.66 L125.8,437.57 L126.3,437.47 L126.8,437.37 L127.3,437.28 L127.8,437.18 L128.3,437.09 L128.8,436.99 L129.3,436.90 L129.8,436.82 L130.3,436.73 L130.8,436.64 L131.3,436.56 L131.8,436.47 L132.3,436.38 L132.8,436.28 L133.3,436.19 L133.8,436.09 L134.3,435.98 L134.8,435.87 L135.3,435.75 L135.8,435.63 L136.3,435.49 L136.8,435.34 L137.3,435.18 L137.8,435.00 L138.3,434.81 L138.8,434.61 L139.3,434.41 L139.8,434.20 L140.3,433.98 L140.8,433.77 L141.3,433.55 L141.8,433.34 L142.3,433.12 L142.8,432.91 L143.3,432.71 L143.8,432.51 L144.3,432.33 L144.8,432.14 L145.3,431.95 L145.8,431.75 L146.3,431.56 L146.8,431.36 L147.3,431.17 L147.8,430.98 L148.3,430.79 L148.8,430.61 L149.3,430.43 L149.8,430.25 L150.3,430.08 L150.8,429.92 L151.3,429.77 L151.8,429.63 L152.3,429.50 L152.8,429.38 L153.3,429.26 L153.8,429.14 L154.3,429.03 L154.8,428.92 L155.3,428.81 L155.8,428.71 L156.3,428.61 L156.8,428.51 L157.3,428.42 L157.8,428.33 L158.3,428.24 L158.8,428.16 L159.3,428.08 L159.8,428.00 L160.3,427.93 L160.8,427.86 L161.3,427.79 L161.8,427.72 L162.3,427.66 L162.8,427.59 L163.3,427.53 L163.8,427.47 L164.3,427.41 L164.8,427.36 L165.3,427.30 L165.8,427.25 L166.3,427.20 L166.8,427.15 L167.3,427.11 L167.8,427.06 L168.3,427.02 L168.8,426.98 L169.3,426.95 L169.8,426.91 L170.3,426.88 L170.8,426.84 L171.3,426.81 L171.8,426.78 L172.3,426.75 L172.8,426.72 L173.3,426.69 L173.8,426.66 L174.3,426.63 L174.8,426.61 L175.3,426.58 L175.8,426.55 L176.3,426.53 L176.8,426.50 L177.3,426.48 L177.8,426.46 L178.3,426.43 L178.8,426.41 L179.3,426.38 L179.8,426.36 L180.3,426.34 L180.8,426.31 L181.3,426.29 L181.8,426.26 L182.3,426.24 L182.8,426.21 L183.3,426.19 L183.8,426.16 L184.3,426.14 L184.8,426.11 L185.3,426.08 L185.8,426.06 L186.3,426.03 L186.8,426.00 L187.3,425.97 L187.8,425.94 L188.3,425.91 L188.8,425.88 L189.3,425.85 L189.8,425.83 L190.3,425.80 L190.8,425.77 L191.3,425.74 L191.8,425.71 L192.3,425.68 L192.8,425.65 L193.3,425.62 L193.8,425.59 L194.3,425.57 L194.8,425.54 L195.3,425.51 L195.8,425.49 L196.3,425.46 L196.8,425.44 L197.3,425.41 L197.8,425.39 L198.3,425.37 L198.8,425.35 L199.3,425.33 L199.8,425.31 L200.3,425.29 L200.8,425.27 L201.3,425.25 L201.8,425.24 L202.3,425.22 L202.8,425.20 L203.3,425.18 L203.8,425.17 L204.3,425.15 L204.8,425.14 L205.3,425.12 L205.8,425.11 L206.3,425.09 L206.8,425.08 L207.3,425.06 L207.8,425.05 L208.3,425.03 L208.8,425.02 L209.3,425.00 L209.8,424.99 L210.3,424.98 L210.8,424.96 L211.3,424.95 L211.8,424.94 L212.3,424.92 L212.8,424.91 L213.3,424.90 L213.8,424.89 L214.3,424.87 L214.8,424.86 L215.3,424.85 L215.8,424.84 L216.3,424.83 L216.8,424.81 L217.3,424.80 L217.8,424.79 L218.3,424.78 L218.8,424.77 L219.3,424.75 L219.8,424.74 L220.3,424.73 L220.8,424.72 L221.3,424.71 L221.8,424.70 L222.3,424.68 L222.8,424.67 L223.3,424.66 L223.8,424.65 L224.3,424.64 L224.8,424.63 L225.3,424.61 L225.8,424.60 L226.3,424.59 L226.8,424.58 L227.3,424.57 L227.8,424.55 L228.3,424.54 L228.8,424.53 L229.3,424.52 L229.8,424.51 L230.3,424.49 L230.8,424.48 L231.3,424.47 L231.8,424.45 L232.3,424.44 L232.8,424.43 L233.3,424.42 L233.8,424.40 L234.3,424.39 L234.8,424.38 L235.3,424.37 L235.8,424.35 L236.3,424.34 L236.8,424.33 L237.3,424.32 L237.8,424.30 L238.3,424.29 L238.8,424.28 L239.3,424.27 L239.8,424.25 L240.3,424.24 L240.8,424.23 L241.3,424.22 L241.8,424.21 L242.3,424.19 L242.8,424.18 L243.3,424.17 L243.8,424.16 L244.3,424.14 L244.8,424.13 L245.3,424.12 L245.8,424.11 L246.3,424.10 L246.8,424.08 L247.3,424.07 L247.8,424.06 L248.3,424.05 L248.8,424.03 L249.3,424.02 L249.8,424.01 L250.3,424.00 L250.8,423.99 L251.3,423.97 L251.8,423.96 L252.3,423.95 L252.8,423.94 L253.3,423.93 L253.8,423.92 L254.3,423.90 L254.8,423.89 L255.3,423.88 L255.8,423.87 L256.3,423.86 L256.8,423.84 L257.3,423.83 L257.8,423.82 L258.3,423.81 L258.8,423.80 L259.3,423.79 L259.8,423.77 L260.3,423.76 L260.8,423.75 L261.3,423.74 L261.8,423.73 L262.3,423.72 L262.8,423.70 L263.3,423.69 L263.8,423.68 L264.3,423.67 L264.8,423.66 L265.3,423.65 L265.8,423.64 L266.3,423.62 L266.8,423.61 L267.3,423.60" fill="none" stroke="#1166ee" stroke-width="2.6" stroke-linejoin="round" stroke-linecap="round" />
<path d="M26.8,452.80 L27.3,452.80 L27.8,452.79 L28.3,452.79 L28.8,452.78 L29.3,452.78 L29.8,452.77 L30.3,452.77 L30.8,452.76 L31.3,452.76 L31.8,452.75 L32.3,452.74 L32.8,452.74 L33.3,452.73 L33.8,452.72 L34.3,452.71 L34.8,452.70 L35.3,452.69 L35.8,452.69 L36.3,452.68 L36.8,452.67 L37.3,452.66 L37.8,452.65 L38.3,452.63 L38.8,452.62 L39.3,452.61 L39.8,452.60 L40.3,452.59 L40.8,452.58 L41.3,452.57 L41.8,452.55 L42.3,452.54 L42.8,452.53 L43.3,452.52 L43.8,452.50 L44.3,452.49 L44.8,452.48 L45.3,452.47 L45.8,452.45 L46.3,452.44 L46.8,452.43 L47.3,452.41 L47.8,452.40 L48.3,452.39 L48.8,452.37 L49.3,452.36 L49.8,452.34 L50.3,452.33 L50.8,452.31 L51.3,452.29 L51.8,452.27 L52.3,452.26 L52.8,452.24 L53.3,452.22 L53.8,452.20 L54.3,452.18 L54.8,452.16 L55.3,452.13 L55.8,452.11 L56.3,452.09 L56.8,452.07 L57.3,452.04 L57.8,452.02 L58.3,451.99 L58.8,451.97 L59.3,451.94 L59.8,451.92 L60.3,451.89 L60.8,451.87 L61.3,451.84 L61.8,451.81 L62.3,451.78 L62.8,451.75 L63.3,451.72 L63.8,451.69 L64.3,451.66 L64.8,451.62 L65.3,451.59 L65.8,451.55 L66.3,451.51 L66.8,451.47 L67.3,451.43 L67.8,451.39 L68.3,451.35 L68.8,451.31 L69.3,451.26 L69.8,451.22 L70.3,451.17 L70.8,451.13 L71.3,451.08 L71.8,451.03 L72.3,450.97 L72.8,450.92 L73.3,450.87 L73.8,450.81 L74.3,450.75 L74.8,450.69 L75.3,450.63 L75.8,450.56 L76.3,450.49 L76.8,450.42 L77.3,450.34 L77.8,450.26 L78.3,450.17 L78.8,450.06 L79.3,449.95 L79.8,449.81 L80.3,449.66 L80.8,449.47 L81.3,449.26 L81.8,449.00 L82.3,448.68 L82.8,448.30 L83.3,447.84 L83.8,447.29 L84.3,446.61 L84.8,445.81 L85.3,444.84 L85.8,443.69 L86.3,442.33 L86.8,440.73 L87.3,438.87 L87.8,436.73 L88.3,434.27 L88.8,431.47 L89.3,428.32 L89.8,424.79 L90.3,420.90 L90.8,416.64 L91.3,412.03 L91.8,407.09 L92.3,401.86 L92.8,396.37 L93.3,390.68 L93.8,384.86 L94.3,378.97 L94.8,373.12 L95.3,367.37 L95.8,361.81 L96.3,356.53 L96.8,351.64 L97.3,347.22 L97.8,343.35 L98.3,340.11 L98.8,337.57 L99.3,335.78 L99.8,334.76 L100.3,334.55 L100.8,335.14 L101.3,336.51 L101.8,338.63 L102.3,341.46 L102.8,344.92 L103.3,348.96 L103.8,353.46 L104.3,358.36 L104.8,363.54 L105.3,368.92 L105.8,374.41 L106.3,379.91 L106.8,385.36 L107.3,390.67 L107.8,395.80 L108.3,400.67 L108.8,405.27 L109.3,409.54 L109.8,413.49 L110.3,417.08 L110.8,420.33 L111.3,423.24 L111.8,425.82 L112.3,428.08 L112.8,430.04 L113.3,431.73 L113.8,433.17 L114.3,434.38 L114.8,435.39 L115.3,436.23 L115.8,436.91 L116.3,437.46 L116.8,437.89 L117.3,438.24 L117.8,438.50 L118.3,438.70 L118.8,438.84 L119.3,438.93 L119.8,439.00 L120.3,439.03 L120.8,439.05 L121.3,439.05 L121.8,439.04 L122.3,439.02 L122.8,438.99 L123.3,438.96 L123.8,438.92 L124.3,438.88 L124.8,438.83 L125.3,438.78 L125.8,438.73 L126.3,438.68 L126.8,438.62 L127.3,438.55 L127.8,438.48 L128.3,438.41 L128.8,438.34 L129.3,438.26 L129.8,438.18 L130.3,438.10 L130.8,438.01 L131.3,437.92 L131.8,437.82 L132.3,437.72 L132.8,437.62 L133.3,437.52 L133.8,437.41 L134.3,437.29 L134.8,437.18 L135.3,437.05 L135.8,436.93 L136.3,436.79 L136.8,436.64 L137.3,436.48 L137.8,436.30 L138.3,436.11 L138.8,435.91 L139.3,435.71 L139.8,435.50 L140.3,435.28 L140.8,435.07 L141.3,434.85 L141.8,434.64 L142.3,434.42 L142.8,434.21 L143.3,434.01 L143.8,433.81 L144.3,433.63 L144.8,433.44 L145.3,433.25 L145.8,433.05 L146.3,432.86 L146.8,432.66 L147.3,432.47 L147.8,432.28 L148.3,432.09 L148.8,431.91 L149.3,431.73 L149.8,431.55 L150.3,431.38 L150.8,431.22 L151.3,431.07 L151.8,430.93 L152.3,430.80 L152.8,430.68 L153.3,430.56 L153.8,430.45 L154.3,430.35 L154.8,430.24 L155.3,430.15 L155.8,430.05 L156.3,429.96 L156.8,429.87 L157.3,429.78 L157.8,429.69 L158.3,429.61 L158.8,429.52 L159.3,429.43 L159.8,429.33 L160.3,429.24 L160.8,429.14 L161.3,429.04 L161.8,428.93 L162.3,428.82 L162.8,428.72 L163.3,428.61 L163.8,428.50 L164.3,428.39 L164.8,428.28 L165.3,428.18 L165.8,428.07 L166.3,427.98 L166.8,427.88 L167.3,427.80 L167.8,427.71 L168.3,427.64 L168.8,427.57 L169.3,427.51 L169.8,427.45 L170.3,427.39 L170.8,427.33 L171.3,427.27 L171.8,427.21 L172.3,427.16 L172.8,427.11 L173.3,427.05 L173.8,427.00 L174.3,426.95 L174.8,426.90 L175.3,426.86 L175.8,426.81 L176.3,426.76 L176.8,426.72 L177.3,426.68 L177.8,426.63 L178.3,426.59 L178.8,426.55 L179.3,426.51 L179.8,426.47 L180.3,426.43 L180.8,426.40 L181.3,426.36 L181.8,426.32 L182.3,426.29 L182.8,426.25 L183.3,426.22 L183.8,426.18 L184.3,426.15 L184.8,426.11 L185.3,426.08 L185.8,426.05 L186.3,426.01 L186.8,425.98 L187.3,425.95 L187.8,425.92 L188.3,425.89 L188.8,425.86 L189.3,425.83 L189.8,425.80 L190.3,425.77 L190.8,425.74 L191.3,425.71 L191.8,425.68 L192.3,425.65 L192.8,425.63 L193.3,425.60 L193.8,425.57 L194.3,425.55 L194.8,425.52 L195.3,425.50 L195.8,425.48 L196.3,425.45 L196.8,425.43 L197.3,425.41 L197.8,425.39 L198.3,425.37 L198.8,425.35 L199.3,425.33 L199.8,425.31 L200.3,425.29 L200.8,425.27 L201.3,425.25 L201.8,425.24 L202.3,425.22 L202.8,425.20 L203.3,425.18 L203.8,425.17 L204.3,425.15 L204.8,425.14 L205.3,425.12 L205.8,425.11 L206.3,425.09 L206.8,425.08 L207.3,425.06 L207.8,425.05 L208.3,425.03 L208.8,425.02 L209.3,425.00 L209.8,424.99 L210.3,424.98 L210.8,424.96 L211.3,424.95 L211.8,424.94 L212.3,424.92 L212.8,424.91 L213.3,424.90 L213.8,424.89 L214.3,424.87 L214.8,424.86 L215.3,424.85 L215.8,424.84 L216.3,424.83 L216.8,424.81 L217.3,424.80 L217.8,424.79 L218.3,424.78 L218.8,424.77 L219.3,424.75 L219.8,424.74 L220.3,424.73 L220.8,424.72 L221.3,424.71 L221.8,424.70 L222.3,424.68 L222.8,424.67 L223.3,424.66 L223.8,424.65 L224.3,424.64 L224.8,424.63 L225.3,424.61 L225.8,424.60 L226.3,424.59 L226.8,424.58 L227.3,424.57 L227.8,424.55 L228.3,424.54 L228.8,424.53 L229.3,424.52 L229.8,424.51 L230.3,424.49 L230.8,424.48 L231.3,424.47 L231.8,424.45 L232.3,424.44 L232.8,424.43 L233.3,424.42 L233.8,424.40 L234.3,424.39 L234.8,424.38 L235.3,424.37 L235.8,424.35 L236.3,424.34 L236.8,424.33 L237.3,424.32 L237.8,424.30 L238.3,424.29 L238.8,424.28 L239.3,424.27 L239.8,424.25 L240.3,424.24 L240.8,424.23 L241.3,424.22 L241.8,424.21 L242.3,424.19 L242.8,424.18 L243.3,424.17 L243.8,424.16 L244.3,424.14 L244.8,424.13 L245.3,424.12 L245.8,424.11 L246.3,424.10 L246.8,424.08 L247.3,424.07 L247.8,424.06 L248.3,424.05 L248.8,424.03 L249.3,424.02 L249.8,424.01 L250.3,424.00 L250.8,423.99 L251.3,423.97 L251.8,423.96 L252.3,423.95 L252.8,423.94 L253.3,423.93 L253.8,423.92 L254.3,423.90 L254.8,423.89 L255.3,423.88 L255.8,423.87 L256.3,423.86 L256.8,423.84 L257.3,423.83 L257.8,423.82 L258.3,423.81 L258.8,423.80 L259.3,423.79 L259.8,423.77 L260.3,423.76 L260.8,423.75 L261.3,423.74 L261.8,423.73 L262.3,423.72 L262.8,423.70 L263.3,423.69 L263.8,423.68 L264.3,423.67 L264.8,423.66 L265.3,423.65 L265.8,423.64 L266.3,423.62 L266.8,423.61 L267.3,423.60" fill="none" stroke="#00b060" stroke-width="2.6" stroke-linejoin="round" stroke-linecap="round" />
<path d="M26.8,450.80 L27.8,450.59 L28.9,450.40 L29.9,450.21 L31.0,450.03 L32.1,449.84 L33.1,449.64 L34.1,449.42 L35.1,449.18 L36.0,448.91 L36.9,448.60 L37.5,448.34 L38.2,448.07 L38.7,447.78 L39.3,447.49 L39.9,447.18 L40.4,446.85 L40.9,446.50 L41.4,446.13 L41.9,445.73 L42.4,445.30 L42.9,444.79 L43.4,444.23 L43.9,443.65 L44.4,443.03 L44.8,442.39 L45.3,441.73 L45.7,441.05 L46.2,440.37 L46.6,439.68 L47.0,439.00 L47.4,438.26 L47.9,437.49 L48.3,436.69 L48.6,435.88 L49.0,435.07 L49.4,434.25 L49.8,433.45 L50.2,432.67 L50.6,431.92 L51.1,431.20 L51.5,430.56 L52.0,429.93 L52.5,429.31 L53.0,428.71 L53.5,428.12 L54.0,427.55 L54.5,427.00 L55.0,426.47 L55.5,425.97 L56.0,425.50 L56.4,425.13 L56.8,424.77 L57.2,424.41 L57.6,424.07 L58.0,423.75 L58.4,423.45 L58.8,423.17 L59.2,422.92 L59.6,422.69 L60.0,422.50 L60.3,422.37 L60.6,422.24 L60.9,422.14 L61.3,422.04 L61.6,421.97 L61.9,421.91 L62.2,421.87 L62.5,421.86 L62.8,421.87 L63.1,421.90 L63.4,421.96 L63.7,422.06 L64.0,422.18 L64.3,422.33 L64.6,422.50 L64.8,422.68 L65.1,422.88 L65.4,423.08 L65.7,423.29 L66.0,423.50 L66.4,423.76 L66.7,424.04 L67.1,424.34 L67.4,424.64 L67.8,424.97 L68.1,425.30 L68.5,425.66 L68.8,426.02 L69.2,426.40 L69.6,426.80 L70.1,427.36 L70.7,427.97 L71.2,428.62 L71.8,429.30 L72.4,430.00 L72.9,430.70 L73.5,431.41 L74.1,432.10 L74.6,432.77 L75.1,433.40 L75.5,433.96 L75.9,434.58 L76.3,435.23 L76.7,435.88 L77.1,436.50 L77.5,437.07 L77.8,437.57 L78.2,437.96 L78.6,438.21 L78.9,438.30 L79.2,438.25 L79.5,438.10 L79.7,437.86 L80.0,437.55 L80.3,437.19 L80.6,436.78 L80.8,436.35 L81.1,435.89 L81.3,435.44 L81.5,435.00 L81.8,434.37 L82.0,433.68 L82.3,432.95 L82.5,432.18 L82.7,431.37 L82.8,430.53 L83.0,429.67 L83.2,428.79 L83.3,427.90 L83.5,427.00 L83.7,425.88 L83.9,424.74 L84.0,423.58 L84.2,422.40 L84.3,421.18 L84.5,419.92 L84.6,418.62 L84.8,417.27 L84.9,415.86 L85.1,414.40 L85.4,412.12 L85.6,409.63 L85.9,406.98 L86.2,404.21 L86.5,401.38 L86.8,398.53 L87.1,395.70 L87.3,392.94 L87.6,390.29 L87.8,387.80 L88.0,385.89 L88.1,384.05 L88.3,382.28 L88.4,380.55 L88.5,378.84 L88.7,377.13 L88.8,375.41 L88.9,373.66 L89.1,371.87 L89.2,370.00 L89.4,367.75 L89.5,365.39 L89.7,362.97 L89.9,360.50 L90.1,358.01 L90.3,355.55 L90.5,353.12 L90.6,350.77 L90.8,348.52 L91.0,346.40 L91.1,344.86 L91.3,343.36 L91.4,341.91 L91.6,340.49 L91.7,339.11 L91.9,337.76 L92.0,336.44 L92.2,335.14 L92.3,333.86 L92.4,332.60 L92.5,331.51 L92.5,330.36 L92.6,329.17 L92.6,328.00 L92.6,326.86 L92.6,325.80 L92.7,324.85 L92.8,324.04 L92.9,323.41 L93.1,323.00 L93.2,322.92 L93.2,322.86 L93.3,322.80 L93.4,322.75 L93.4,322.72 L93.5,322.69 L93.6,322.68 L93.7,322.67 L93.7,322.68 L93.8,322.70 L94.0,322.83 L94.1,323.08 L94.3,323.44 L94.5,323.85 L94.6,324.29 L94.8,324.72 L95.0,325.11 L95.2,325.42 L95.3,325.63 L95.5,325.70 L95.7,325.58 L95.9,325.27 L96.1,324.82 L96.2,324.24 L96.4,323.59 L96.6,322.88 L96.8,322.15 L96.9,321.44 L97.1,320.78 L97.3,320.20 L97.5,319.70 L97.7,319.21 L97.8,318.72 L98.0,318.24 L98.2,317.76 L98.4,317.28 L98.6,316.81 L98.8,316.34 L98.9,315.87 L99.1,315.40 L99.2,314.93 L99.4,314.41 L99.5,313.85 L99.7,313.29 L99.8,312.75 L99.9,312.26 L100.0,311.83 L100.2,311.49 L100.3,311.27 L100.4,311.20 L100.5,311.29 L100.6,311.53 L100.7,311.90 L100.8,312.37 L100.9,312.92 L101.0,313.53 L101.1,314.16 L101.2,314.80 L101.3,315.42 L101.4,316.00 L101.5,316.76 L101.7,317.59 L101.8,318.47 L101.9,319.38 L102.0,320.30 L102.2,321.20 L102.3,322.08 L102.4,322.90 L102.6,323.65 L102.8,324.30 L102.9,324.65 L103.0,324.97 L103.2,325.27 L103.3,325.55 L103.5,325.81 L103.6,326.07 L103.7,326.32 L103.9,326.57 L104.0,326.83 L104.2,327.10 L104.4,327.38 L104.6,327.64 L104.7,327.90 L104.9,328.15 L105.1,328.40 L105.3,328.67 L105.5,328.94 L105.7,329.24 L105.9,329.56 L106.0,329.90 L106.2,330.44 L106.3,331.03 L106.4,331.65 L106.5,332.30 L106.6,332.99 L106.6,333.71 L106.7,334.45 L106.7,335.21 L106.8,336.00 L106.9,336.80 L107.0,337.97 L107.2,339.20 L107.3,340.48 L107.4,341.80 L107.6,343.18 L107.7,344.59 L107.9,346.04 L108.0,347.53 L108.2,349.05 L108.3,350.60 L108.5,352.72 L108.7,354.99 L108.9,357.36 L109.1,359.82 L109.3,362.30 L109.5,364.79 L109.7,367.24 L109.9,369.62 L110.2,371.88 L110.4,374.00 L110.6,375.53 L110.8,377.01 L110.9,378.44 L111.1,379.84 L111.3,381.20 L111.5,382.53 L111.7,383.85 L112.0,385.17 L112.3,386.48 L112.6,387.80 L112.9,389.11 L113.3,390.44 L113.7,391.79 L114.1,393.13 L114.5,394.45 L114.9,395.74 L115.4,396.97 L115.9,398.14 L116.5,399.22 L117.1,400.20 L117.6,400.93 L118.2,401.68 L118.8,402.43 L119.4,403.15 L120.0,403.81 L120.6,404.40 L121.3,404.88 L121.9,405.25 L122.4,405.46 L122.9,405.50 L123.3,405.38 L123.6,405.12 L124.0,404.75 L124.3,404.30 L124.6,403.77 L124.9,403.21 L125.2,402.62 L125.5,402.05 L125.8,401.50 L126.0,401.00 L126.2,400.58 L126.4,400.17 L126.6,399.77 L126.8,399.37 L126.9,398.96 L127.1,398.54 L127.2,398.10 L127.4,397.64 L127.5,397.14 L127.7,396.60 L128.0,395.64 L128.2,394.60 L128.4,393.48 L128.7,392.29 L128.9,391.04 L129.1,389.75 L129.3,388.41 L129.6,387.03 L129.8,385.63 L130.0,384.20 L130.3,382.18 L130.6,380.01 L130.9,377.73 L131.2,375.36 L131.5,372.95 L131.8,370.52 L132.0,368.11 L132.3,365.75 L132.6,363.47 L132.8,361.30 L133.0,359.54 L133.2,357.80 L133.3,356.08 L133.5,354.39 L133.7,352.73 L133.8,351.10 L134.0,349.51 L134.2,347.96 L134.3,346.46 L134.5,345.00 L134.6,343.88 L134.8,342.77 L134.9,341.67 L135.0,340.59 L135.1,339.55 L135.3,338.54 L135.4,337.57 L135.6,336.65 L135.8,335.80 L136.0,335.00 L136.2,334.52 L136.4,334.08 L136.6,333.68 L136.8,333.30 L137.0,332.94 L137.2,332.58 L137.4,332.21 L137.6,331.84 L137.8,331.44 L138.0,331.00 L138.2,330.42 L138.4,329.78 L138.5,329.11 L138.7,328.41 L138.8,327.71 L139.0,327.02 L139.1,326.36 L139.3,325.74 L139.4,325.18 L139.6,324.70 L139.7,324.46 L139.8,324.25 L139.9,324.06 L140.1,323.88 L140.2,323.72 L140.3,323.55 L140.4,323.39 L140.6,323.21 L140.7,323.02 L140.8,322.80 L141.0,322.43 L141.1,321.97 L141.3,321.47 L141.5,320.93 L141.7,320.41 L141.8,319.91 L142.0,319.47 L142.2,319.12 L142.3,318.89 L142.5,318.80 L142.6,318.85 L142.8,319.00 L142.9,319.23 L143.0,319.52 L143.2,319.86 L143.3,320.22 L143.4,320.59 L143.6,320.96 L143.7,321.30 L143.9,321.60 L144.1,321.88 L144.3,322.14 L144.5,322.41 L144.7,322.67 L144.9,322.93 L145.1,323.19 L145.3,323.46 L145.5,323.73 L145.7,324.01 L145.9,324.30 L146.1,324.63 L146.3,324.97 L146.5,325.31 L146.8,325.66 L147.0,326.02 L147.2,326.38 L147.4,326.75 L147.6,327.12 L147.7,327.51 L147.9,327.90 L148.1,328.33 L148.2,328.77 L148.4,329.21 L148.5,329.67 L148.6,330.13 L148.7,330.60 L148.8,331.08 L148.9,331.57 L149.0,332.08 L149.1,332.60 L149.2,333.26 L149.3,333.93 L149.4,334.61 L149.4,335.31 L149.5,336.03 L149.5,336.77 L149.6,337.54 L149.6,338.33 L149.7,339.15 L149.8,340.00 L149.9,341.28 L150.1,342.64 L150.3,344.07 L150.5,345.56 L150.7,347.09 L150.9,348.64 L151.1,350.21 L151.3,351.76 L151.6,353.30 L151.8,354.80 L152.1,356.29 L152.3,357.79 L152.6,359.30 L152.9,360.81 L153.2,362.31 L153.5,363.81 L153.8,365.29 L154.2,366.75 L154.5,368.19 L154.8,369.60 L155.1,370.84 L155.4,372.07 L155.6,373.28 L155.9,374.47 L156.2,375.65 L156.5,376.82 L156.8,377.98 L157.1,379.13 L157.4,380.27 L157.8,381.40 L158.2,382.49 L158.6,383.57 L159.0,384.65 L159.4,385.73 L159.9,386.79 L160.3,387.83 L160.8,388.86 L161.3,389.87 L161.7,390.85 L162.2,391.80 L162.6,392.61 L163.0,393.39 L163.4,394.16 L163.9,394.92 L164.3,395.65 L164.7,396.38 L165.2,397.09 L165.6,397.80 L166.1,398.50 L166.6,399.20 L167.1,399.92 L167.7,400.65 L168.3,401.38 L168.9,402.11 L169.5,402.82 L170.1,403.51 L170.7,404.16 L171.3,404.76 L171.9,405.31 L172.5,405.80 L172.9,406.13 L173.4,406.43 L173.8,406.70 L174.3,406.95 L174.7,407.18 L175.2,407.39 L175.6,407.57 L176.1,407.74 L176.5,407.88 L177.0,408.00 L177.4,408.08 L177.8,408.13 L178.3,408.15 L178.7,408.14 L179.1,408.12 L179.5,408.10 L180.0,408.08 L180.4,408.06 L180.9,408.07 L181.4,408.10 L182.2,408.18 L183.0,408.29 L183.8,408.42 L184.7,408.56 L185.6,408.72 L186.5,408.88 L187.4,409.04 L188.3,409.21 L189.2,409.36 L190.0,409.50 L190.7,409.61 L191.3,409.71 L191.9,409.81 L192.5,409.91 L193.1,410.01 L193.7,410.11 L194.3,410.22 L194.9,410.33 L195.6,410.46 L196.4,410.60 L197.7,410.85 L199.2,411.14 L200.7,411.45 L202.4,411.78 L204.1,412.13 L205.8,412.49 L207.6,412.85 L209.3,413.21 L211.0,413.56 L212.7,413.90 L214.3,414.23 L216.0,414.56 L217.6,414.89 L219.3,415.22 L220.9,415.55 L222.5,415.88 L224.2,416.21 L225.8,416.54 L227.5,416.87 L229.1,417.20 L230.7,417.53 L232.4,417.87 L234.0,418.22 L235.7,418.56 L237.3,418.91 L238.9,419.24 L240.6,419.58 L242.2,419.90 L243.9,420.21 L245.5,420.50 L247.2,420.78 L248.9,421.05 L250.7,421.32 L252.4,421.57 L254.2,421.82 L255.9,422.06 L257.6,422.29 L259.1,422.50 L260.5,422.71 L261.8,422.90 L262.5,423.00 L263.1,423.10 L263.6,423.20 L264.2,423.29 L264.7,423.37 L265.2,423.46 L265.7,423.54 L266.2,423.63 L266.7,423.71 L267.2,423.80" fill="none" stroke="#424242" stroke-width="2.35" stroke-linejoin="round" stroke-linecap="round" />
<text x="80.0" y="304.6" font-family='"Liberation Sans", sans-serif' font-size="10" font-weight="bold" text-anchor="start" stroke="#000" stroke-width="0.22" >Mo3d<tspan font-size="7.3" dy="2.9" stroke-width="0.12">5/2</tspan></text>
<text x="125.6" y="309.6" font-family='"Liberation Sans", sans-serif' font-size="10" font-weight="bold" text-anchor="start" stroke="#000" stroke-width="0.22" >Mo3d<tspan font-size="7.3" dy="2.9" stroke-width="0.12">3/2</tspan></text>
<text x="50.5" y="413.4" font-family='"Liberation Sans", sans-serif' font-size="10" font-weight="bold" text-anchor="start" stroke="#000" stroke-width="0.22" >S2s</text>
<text x="264.7" y="283.7" font-family='"Liberation Sans", sans-serif' font-size="10" font-weight="bold" text-anchor="end" stroke="#000" stroke-width="0.22" >Mo3d spectrum</text>
<text x="33.5" y="258.6" font-family='"Liberation Serif", serif' font-size="20" font-weight="bold" text-anchor="start" >c</text>
<text x="165.3" y="497.4" font-family='"Liberation Serif", serif' font-size="13.7" font-weight="bold" text-anchor="middle" >Binding energy / eV</text>
<text x="0" y="0" transform="translate(16.0,353.7) rotate(-90)" font-family='"Liberation Serif", serif' font-size="14.0" font-weight="bold" text-anchor="middle">XPS intensity / a.u.</text>
<rect x="295.8" y="266.2" width="242.59999999999997" height="195.5" fill="none" stroke="#000" stroke-width="1.6"/>
<line x1="295.8" y1="461.7" x2="295.8" y2="465.3" stroke="#000" stroke-width="1.3"/>
<text x="0" y="0" transform="translate(295.4,477.09999999999997) scale(1.035,1)" font-family='"Liberation Sans", sans-serif' font-size="10.5" font-weight="bold" text-anchor="middle" stroke="#000" stroke-width="0.3" >158</text>
<line x1="356.45" y1="461.7" x2="356.45" y2="465.3" stroke="#000" stroke-width="1.3"/>
<text x="0" y="0" transform="translate(356.05,477.09999999999997) scale(1.035,1)" font-family='"Liberation Sans", sans-serif' font-size="10.5" font-weight="bold" text-anchor="middle" stroke="#000" stroke-width="0.3" >160</text>
<line x1="417.1" y1="461.7" x2="417.1" y2="465.3" stroke="#000" stroke-width="1.3"/>
<text x="0" y="0" transform="translate(416.7,477.09999999999997) scale(1.035,1)" font-family='"Liberation Sans", sans-serif' font-size="10.5" font-weight="bold" text-anchor="middle" stroke="#000" stroke-width="0.3" >162</text>
<line x1="477.75" y1="461.7" x2="477.75" y2="465.3" stroke="#000" stroke-width="1.3"/>
<text x="0" y="0" transform="translate(477.35,477.09999999999997) scale(1.035,1)" font-family='"Liberation Sans", sans-serif' font-size="10.5" font-weight="bold" text-anchor="middle" stroke="#000" stroke-width="0.3" >164</text>
<line x1="538.4" y1="461.7" x2="538.4" y2="465.3" stroke="#000" stroke-width="1.3"/>
<text x="0" y="0" transform="translate(538.0,477.09999999999997) scale(1.035,1)" font-family='"Liberation Sans", sans-serif' font-size="10.5" font-weight="bold" text-anchor="middle" stroke="#000" stroke-width="0.3" >166</text>
<line x1="326.125" y1="461.7" x2="326.125" y2="463.9" stroke="#000" stroke-width="1.1"/>
<line x1="386.775" y1="461.7" x2="386.775" y2="463.9" stroke="#000" stroke-width="1.1"/>
<line x1="447.42499999999995" y1="461.7" x2="447.42499999999995" y2="463.9" stroke="#000" stroke-width="1.1"/>
<line x1="508.075" y1="461.7" x2="508.075" y2="463.9" stroke="#000" stroke-width="1.1"/>
<path d="M296.6,457.60 L297.1,457.60 L297.6,457.60 L298.1,457.60 L298.6,457.60 L299.1,457.60 L299.6,457.60 L300.1,457.59 L300.6,457.59 L301.1,457.59 L301.6,457.59 L302.1,457.59 L302.6,457.59 L303.1,457.58 L303.6,457.58 L304.1,457.58 L304.6,457.58 L305.1,457.58 L305.6,457.57 L306.1,457.57 L306.6,457.57 L307.1,457.56 L307.6,457.56 L308.1,457.56 L308.6,457.55 L309.1,457.55 L309.6,457.55 L310.1,457.54 L310.6,457.54 L311.1,457.54 L311.6,457.53 L312.1,457.53 L312.6,457.52 L313.1,457.52 L313.6,457.52 L314.1,457.51 L314.6,457.51 L315.1,457.50 L315.6,457.50 L316.1,457.49 L316.6,457.49 L317.1,457.48 L317.6,457.48 L318.1,457.47 L318.6,457.47 L319.1,457.46 L319.6,457.46 L320.1,457.45 L320.6,457.45 L321.1,457.44 L321.6,457.44 L322.1,457.43 L322.6,457.42 L323.1,457.42 L323.6,457.41 L324.1,457.41 L324.6,457.40 L325.1,457.39 L325.6,457.39 L326.1,457.38 L326.6,457.38 L327.1,457.37 L327.6,457.36 L328.1,457.36 L328.6,457.35 L329.1,457.35 L329.6,457.34 L330.1,457.33 L330.6,457.33 L331.1,457.32 L331.6,457.31 L332.1,457.31 L332.6,457.30 L333.1,457.29 L333.6,457.29 L334.1,457.28 L334.6,457.27 L335.1,457.27 L335.6,457.26 L336.1,457.25 L336.6,457.25 L337.1,457.24 L337.6,457.23 L338.1,457.23 L338.6,457.22 L339.1,457.21 L339.6,457.21 L340.1,457.20 L340.6,457.19 L341.1,457.18 L341.6,457.18 L342.1,457.17 L342.6,457.16 L343.1,457.15 L343.6,457.14 L344.1,457.13 L344.6,457.13 L345.1,457.12 L345.6,457.11 L346.1,457.10 L346.6,457.09 L347.1,457.08 L347.6,457.07 L348.1,457.06 L348.6,457.04 L349.1,457.03 L349.6,457.02 L350.1,457.01 L350.6,457.00 L351.1,456.99 L351.6,456.98 L352.1,456.96 L352.6,456.95 L353.1,456.94 L353.6,456.92 L354.1,456.91 L354.6,456.90 L355.1,456.88 L355.6,456.87 L356.1,456.86 L356.6,456.84 L357.1,456.83 L357.6,456.81 L358.1,456.80 L358.6,456.78 L359.1,456.77 L359.6,456.75 L360.1,456.73 L360.6,456.72 L361.1,456.70 L361.6,456.68 L362.1,456.67 L362.6,456.65 L363.1,456.63 L363.6,456.61 L364.1,456.59 L364.6,456.57 L365.1,456.55 L365.6,456.53 L366.1,456.51 L366.6,456.49 L367.1,456.46 L367.6,456.44 L368.1,456.42 L368.6,456.39 L369.1,456.37 L369.6,456.34 L370.1,456.31 L370.6,456.28 L371.1,456.25 L371.6,456.22 L372.1,456.19 L372.6,456.16 L373.1,456.12 L373.6,456.09 L374.1,456.05 L374.6,456.01 L375.1,455.97 L375.6,455.92 L376.1,455.88 L376.6,455.83 L377.1,455.78 L377.6,455.73 L378.1,455.67 L378.6,455.62 L379.1,455.56 L379.6,455.49 L380.1,455.42 L380.6,455.35 L381.1,455.28 L381.6,455.20 L382.1,455.12 L382.6,455.03 L383.1,454.94 L383.6,454.84 L384.1,454.74 L384.6,454.63 L385.1,454.52 L385.6,454.40 L386.1,454.28 L386.6,454.15 L387.1,454.01 L387.6,453.87 L388.1,453.71 L388.6,453.55 L389.1,453.39 L389.6,453.21 L390.1,453.03 L390.6,452.83 L391.1,452.63 L391.6,452.42 L392.1,452.20 L392.6,451.97 L393.1,451.72 L393.6,451.47 L394.1,451.20 L394.6,450.93 L395.1,450.64 L395.6,450.34 L396.1,450.02 L396.6,449.69 L397.1,449.35 L397.6,449.00 L398.1,448.63 L398.6,448.24 L399.1,447.84 L399.6,447.43 L400.1,447.00 L400.6,446.55 L401.1,446.09 L401.6,445.61 L402.1,445.11 L402.6,444.60 L403.1,444.06 L403.6,443.52 L404.1,442.95 L404.6,442.36 L405.1,441.76 L405.6,441.14 L406.1,440.50 L406.6,439.84 L407.1,439.16 L407.6,438.47 L408.1,437.75 L408.6,437.02 L409.1,436.27 L409.6,435.50 L410.1,434.71 L410.6,433.91 L411.1,433.09 L411.6,432.25 L412.1,431.39 L412.6,430.52 L413.1,429.63 L413.6,428.72 L414.1,427.80 L414.6,426.86 L415.1,425.91 L415.6,424.94 L416.1,423.97 L416.6,422.97 L417.1,421.97 L417.6,420.96 L418.1,419.93 L418.6,418.90 L419.1,417.86 L419.6,416.81 L420.1,415.75 L420.6,414.69 L421.1,413.63 L421.6,412.55 L422.1,411.48 L422.6,410.41 L423.1,409.33 L423.6,408.26 L424.1,407.18 L424.6,406.11 L425.1,405.05 L425.6,403.99 L426.1,402.94 L426.6,401.89 L427.1,400.86 L427.6,399.84 L428.1,398.83 L428.6,397.83 L429.1,396.85 L429.6,395.89 L430.1,394.94 L430.6,394.01 L431.1,393.11 L431.6,392.22 L432.1,391.36 L432.6,390.53 L433.1,389.72 L433.6,388.93 L434.1,388.18 L434.6,387.45 L435.1,386.76 L435.6,386.10 L436.1,385.47 L436.6,384.87 L437.1,384.31 L437.6,383.78 L438.1,383.29 L438.6,382.84 L439.1,382.42 L439.6,382.04 L440.1,381.70 L440.6,381.41 L441.1,381.15 L441.6,380.93 L442.1,380.75 L442.6,380.62 L443.1,380.52 L443.6,380.47 L444.1,380.46 L444.6,380.48 L445.1,380.56 L445.6,380.67 L446.1,380.82 L446.6,381.01 L447.1,381.25 L447.6,381.52 L448.1,381.83 L448.6,382.18 L449.1,382.56 L449.6,382.99 L450.1,383.45 L450.6,383.95 L451.1,384.48 L451.6,385.04 L452.1,385.64 L452.6,386.27 L453.1,386.93 L453.6,387.62 L454.1,388.34 L454.6,389.08 L455.1,389.86 L455.6,390.65 L456.1,391.48 L456.6,392.32 L457.1,393.19 L457.6,394.07 L458.1,394.98 L458.6,395.90 L459.1,396.84 L459.6,397.79 L460.1,398.76 L460.6,399.74 L461.1,400.73 L461.6,401.73 L462.1,402.73 L462.6,403.75 L463.1,404.77 L463.6,405.79 L464.1,406.82 L464.6,407.85 L465.1,408.88 L465.6,409.91 L466.1,410.93 L466.6,411.96 L467.1,412.98 L467.6,414.00 L468.1,415.01 L468.6,416.01 L469.1,417.01 L469.6,418.00 L470.1,418.97 L470.6,419.94 L471.1,420.90 L471.6,421.84 L472.1,422.77 L472.6,423.69 L473.1,424.59 L473.6,425.48 L474.1,426.36 L474.6,427.22 L475.1,428.06 L475.6,428.89 L476.1,429.70 L476.6,430.49 L477.1,431.26 L477.6,432.02 L478.1,432.76 L478.6,433.48 L479.1,434.19 L479.6,434.87 L480.1,435.54 L480.6,436.19 L481.1,436.82 L481.6,437.44 L482.1,438.03 L482.6,438.61 L483.1,439.17 L483.6,439.71 L484.1,440.23 L484.6,440.74 L485.1,441.23 L485.6,441.70 L486.1,442.16 L486.6,442.60 L487.1,443.02 L487.6,443.43 L488.1,443.82 L488.6,444.20 L489.1,444.56 L489.6,444.91 L490.1,445.25 L490.6,445.57 L491.1,445.87 L491.6,446.17 L492.1,446.45 L492.6,446.72 L493.1,446.97 L493.6,447.22 L494.1,447.45 L494.6,447.67 L495.1,447.89 L495.6,448.09 L496.1,448.28 L496.6,448.46 L497.1,448.64 L497.6,448.80 L498.1,448.96 L498.6,449.10 L499.1,449.24 L499.6,449.38 L500.1,449.50 L500.6,449.62 L501.1,449.73 L501.6,449.84 L502.1,449.94 L502.6,450.03 L503.1,450.12 L503.6,450.20 L504.1,450.28 L504.6,450.35 L505.1,450.42 L505.6,450.48 L506.1,450.54 L506.6,450.60 L507.1,450.65 L507.6,450.70 L508.1,450.74 L508.6,450.79 L509.1,450.82 L509.6,450.86 L510.1,450.89 L510.6,450.93 L511.1,450.95 L511.6,450.98 L512.1,451.01 L512.6,451.03 L513.1,451.05 L513.6,451.07 L514.1,451.09 L514.6,451.10 L515.1,451.12 L515.6,451.13 L516.1,451.14 L516.6,451.15 L517.1,451.16 L517.6,451.17 L518.1,451.18 L518.6,451.19 L519.1,451.19 L519.6,451.20 L520.1,451.20 L520.6,451.21 L521.1,451.21 L521.6,451.21 L522.1,451.22 L522.6,451.22 L523.1,451.22 L523.6,451.22 L524.1,451.22 L524.6,451.22 L525.1,451.22 L525.6,451.22 L526.1,451.22 L526.6,451.22 L527.1,451.22 L527.6,451.22 L528.1,451.22 L528.6,451.22 L529.1,451.22 L529.6,451.22 L530.1,451.22 L530.6,451.22 L531.1,451.21 L531.6,451.21 L532.1,451.21 L532.6,451.21 L533.1,451.21 L533.6,451.21 L534.1,451.21 L534.6,451.20 L535.1,451.20 L535.6,451.20 L536.1,451.20 L536.6,451.20 L537.1,451.20 L537.6,451.20" fill="none" stroke="#ff3333" stroke-width="2.2" stroke-linejoin="round" stroke-linecap="round" />
<path d="M296.6,457.60 L297.1,457.60 L297.6,457.60 L298.1,457.60 L298.6,457.60 L299.1,457.60 L299.6,457.60 L300.1,457.59 L300.6,457.59 L301.1,457.59 L301.6,457.59 L302.1,457.59 L302.6,457.59 L303.1,457.58 L303.6,457.58 L304.1,457.58 L304.6,457.58 L305.1,457.58 L305.6,457.57 L306.1,457.57 L306.6,457.57 L307.1,457.56 L307.6,457.56 L308.1,457.56 L308.6,457.55 L309.1,457.55 L309.6,457.55 L310.1,457.54 L310.6,457.54 L311.1,457.54 L311.6,457.53 L312.1,457.53 L312.6,457.52 L313.1,457.52 L313.6,457.52 L314.1,457.51 L314.6,457.51 L315.1,457.50 L315.6,457.50 L316.1,457.49 L316.6,457.49 L317.1,457.48 L317.6,457.48 L318.1,457.47 L318.6,457.47 L319.1,457.46 L319.6,457.46 L320.1,457.45 L320.6,457.45 L321.1,457.44 L321.6,457.44 L322.1,457.43 L322.6,457.42 L323.1,457.42 L323.6,457.41 L324.1,457.41 L324.6,457.40 L325.1,457.39 L325.6,457.39 L326.1,457.38 L326.6,457.38 L327.1,457.37 L327.6,457.36 L328.1,457.36 L328.6,457.35 L329.1,457.35 L329.6,457.34 L330.1,457.33 L330.6,457.33 L331.1,457.32 L331.6,457.31 L332.1,457.31 L332.6,457.30 L333.1,457.29 L333.6,457.29 L334.1,457.28 L334.6,457.27 L335.1,457.27 L335.6,457.26 L336.1,457.25 L336.6,457.25 L337.1,457.24 L337.6,457.23 L338.1,457.23 L338.6,457.22 L339.1,457.21 L339.6,457.21 L340.1,457.20 L340.6,457.19 L341.1,457.18 L341.6,457.18 L342.1,457.17 L342.6,457.16 L343.1,457.15 L343.6,457.14 L344.1,457.13 L344.6,457.13 L345.1,457.12 L345.6,457.11 L346.1,457.10 L346.6,457.09 L347.1,457.08 L347.6,457.07 L348.1,457.06 L348.6,457.04 L349.1,457.03 L349.6,457.02 L350.1,457.01 L350.6,457.00 L351.1,456.98 L351.6,456.97 L352.1,456.96 L352.6,456.94 L353.1,456.93 L353.6,456.92 L354.1,456.90 L354.6,456.89 L355.1,456.87 L355.6,456.85 L356.1,456.84 L356.6,456.82 L357.1,456.80 L357.6,456.78 L358.1,456.76 L358.6,456.74 L359.1,456.71 L359.6,456.69 L360.1,456.66 L360.6,456.63 L361.1,456.60 L361.6,456.57 L362.1,456.54 L362.6,456.50 L363.1,456.46 L363.6,456.42 L364.1,456.37 L364.6,456.32 L365.1,456.27 L365.6,456.21 L366.1,456.15 L366.6,456.08 L367.1,456.01 L367.6,455.92 L368.1,455.84 L368.6,455.74 L369.1,455.64 L369.6,455.52 L370.1,455.40 L370.6,455.27 L371.1,455.12 L371.6,454.97 L372.1,454.80 L372.6,454.61 L373.1,454.41 L373.6,454.20 L374.1,453.97 L374.6,453.72 L375.1,453.45 L375.6,453.16 L376.1,452.84 L376.6,452.51 L377.1,452.15 L377.6,451.76 L378.1,451.35 L378.6,450.91 L379.1,450.45 L379.6,449.95 L380.1,449.42 L380.6,448.85 L381.1,448.25 L381.6,447.62 L382.1,446.95 L382.6,446.25 L383.1,445.50 L383.6,444.72 L384.1,443.90 L384.6,443.04 L385.1,442.13 L385.6,441.19 L386.1,440.21 L386.6,439.18 L387.1,438.12 L387.6,437.01 L388.1,435.87 L388.6,434.69 L389.1,433.47 L389.6,432.21 L390.1,430.92 L390.6,429.59 L391.1,428.23 L391.6,426.84 L392.1,425.43 L392.6,423.99 L393.1,422.52 L393.6,421.04 L394.1,419.54 L394.6,418.03 L395.1,416.51 L395.6,414.99 L396.1,413.46 L396.6,411.94 L397.1,410.42 L397.6,408.92 L398.1,407.43 L398.6,405.96 L399.1,404.51 L399.6,403.10 L400.1,401.71 L400.6,400.37 L401.1,399.07 L401.6,397.82 L402.1,396.61 L402.6,395.47 L403.1,394.38 L403.6,393.36 L404.1,392.41 L404.6,391.52 L405.1,390.72 L405.6,389.99 L406.1,389.34 L406.6,388.77 L407.1,388.29 L407.6,387.89 L408.1,387.59 L408.6,387.37 L409.1,387.25 L409.6,387.21 L410.1,387.27 L410.6,387.41 L411.1,387.65 L411.6,387.97 L412.1,388.39 L412.6,388.89 L413.1,389.47 L413.6,390.13 L414.1,390.87 L414.6,391.69 L415.1,392.58 L415.6,393.54 L416.1,394.56 L416.6,395.64 L417.1,396.79 L417.6,397.98 L418.1,399.22 L418.6,400.51 L419.1,401.84 L419.6,403.20 L420.1,404.59 L420.6,406.01 L421.1,407.45 L421.6,408.90 L422.1,410.37 L422.6,411.85 L423.1,413.32 L423.6,414.80 L424.1,416.27 L424.6,417.74 L425.1,419.19 L425.6,420.63 L426.1,422.04 L426.6,423.44 L427.1,424.81 L427.6,426.16 L428.1,427.47 L428.6,428.76 L429.1,430.01 L429.6,431.23 L430.1,432.41 L430.6,433.55 L431.1,434.65 L431.6,435.72 L432.1,436.74 L432.6,437.73 L433.1,438.67 L433.6,439.57 L434.1,440.44 L434.6,441.26 L435.1,442.04 L435.6,442.79 L436.1,443.49 L436.6,444.16 L437.1,444.79 L437.6,445.38 L438.1,445.94 L438.6,446.47 L439.1,446.96 L439.6,447.42 L440.1,447.86 L440.6,448.26 L441.1,448.63 L441.6,448.98 L442.1,449.30 L442.6,449.60 L443.1,449.88 L443.6,450.13 L444.1,450.37 L444.6,450.58 L445.1,450.78 L445.6,450.96 L446.1,451.12 L446.6,451.27 L447.1,451.40 L447.6,451.53 L448.1,451.63 L448.6,451.73 L449.1,451.82 L449.6,451.89 L450.1,451.96 L450.6,452.02 L451.1,452.07 L451.6,452.12 L452.1,452.16 L452.6,452.19 L453.1,452.22 L453.6,452.24 L454.1,452.25 L454.6,452.27 L455.1,452.28 L455.6,452.29 L456.1,452.29 L456.6,452.29 L457.1,452.29 L457.6,452.29 L458.1,452.28 L458.6,452.28 L459.1,452.27 L459.6,452.26 L460.1,452.25 L460.6,452.24 L461.1,452.23 L461.6,452.22 L462.1,452.20 L462.6,452.19 L463.1,452.18 L463.6,452.16 L464.1,452.15 L464.6,452.14 L465.1,452.12 L465.6,452.11 L466.1,452.09 L466.6,452.08 L467.1,452.07 L467.6,452.05 L468.1,452.04 L468.6,452.03 L469.1,452.02 L469.6,452.01 L470.1,451.99 L470.6,451.98 L471.1,451.97 L471.6,451.96 L472.1,451.95 L472.6,451.94 L473.1,451.93 L473.6,451.92 L474.1,451.91 L474.6,451.90 L475.1,451.89 L475.6,451.87 L476.1,451.86 L476.6,451.85 L477.1,451.84 L477.6,451.83 L478.1,451.82 L478.6,451.82 L479.1,451.81 L479.6,451.80 L480.1,451.79 L480.6,451.78 L481.1,451.77 L481.6,451.76 L482.1,451.75 L482.6,451.74 L483.1,451.73 L483.6,451.72 L484.1,451.72 L484.6,451.71 L485.1,451.70 L485.6,451.69 L486.1,451.68 L486.6,451.68 L487.1,451.67 L487.6,451.66 L488.1,451.65 L488.6,451.65 L489.1,451.64 L489.6,451.63 L490.1,451.62 L490.6,451.62 L491.1,451.61 L491.6,451.60 L492.1,451.60 L492.6,451.59 L493.1,451.58 L493.6,451.58 L494.1,451.57 L494.6,451.56 L495.1,451.56 L495.6,451.55 L496.1,451.54 L496.6,451.54 L497.1,451.53 L497.6,451.53 L498.1,451.52 L498.6,451.52 L499.1,451.51 L499.6,451.50 L500.1,451.50 L500.6,451.49 L501.1,451.49 L501.6,451.48 L502.1,451.48 L502.6,451.47 L503.1,451.47 L503.6,451.46 L504.1,451.46 L504.6,451.45 L505.1,451.45 L505.6,451.44 L506.1,451.43 L506.6,451.43 L507.1,451.42 L507.6,451.42 L508.1,451.41 L508.6,451.41 L509.1,451.40 L509.6,451.40 L510.1,451.39 L510.6,451.39 L511.1,451.38 L511.6,451.38 L512.1,451.37 L512.6,451.37 L513.1,451.36 L513.6,451.36 L514.1,451.36 L514.6,451.35 L515.1,451.35 L515.6,451.34 L516.1,451.34 L516.6,451.33 L517.1,451.33 L517.6,451.32 L518.1,451.32 L518.6,451.32 L519.1,451.31 L519.6,451.31 L520.1,451.30 L520.6,451.30 L521.1,451.29 L521.6,451.29 L522.1,451.29 L522.6,451.28 L523.1,451.28 L523.6,451.28 L524.1,451.27 L524.6,451.27 L525.1,451.26 L525.6,451.26 L526.1,451.26 L526.6,451.25 L527.1,451.25 L527.6,451.25 L528.1,451.24 L528.6,451.24 L529.1,451.24 L529.6,451.24 L530.1,451.23 L530.6,451.23 L531.1,451.23 L531.6,451.23 L532.1,451.22 L532.6,451.22 L533.1,451.22 L533.6,451.22 L534.1,451.21 L534.6,451.21 L535.1,451.21 L535.6,451.21 L536.1,451.21 L536.6,451.20 L537.1,451.20 L537.6,451.20" fill="none" stroke="#0000ff" stroke-width="2.6" stroke-linejoin="round" stroke-linecap="round" />
<path d="M296.6,460.20 L297.1,460.20 L297.6,460.20 L298.1,460.20 L298.6,460.20 L299.1,460.20 L299.6,460.20 L300.1,460.20 L300.6,460.20 L301.1,460.19 L301.6,460.19 L302.1,460.19 L302.6,460.19 L303.1,460.19 L303.6,460.19 L304.1,460.18 L304.6,460.18 L305.1,460.18 L305.6,460.18 L306.1,460.17 L306.6,460.17 L307.1,460.17 L307.6,460.17 L308.1,460.16 L308.6,460.16 L309.1,460.16 L309.6,460.15 L310.1,460.15 L310.6,460.15 L311.1,460.14 L311.6,460.14 L312.1,460.13 L312.6,460.13 L313.1,460.13 L313.6,460.12 L314.1,460.12 L314.6,460.11 L315.1,460.11 L315.6,460.10 L316.1,460.10 L316.6,460.09 L317.1,460.09 L317.6,460.09 L318.1,460.08 L318.6,460.07 L319.1,460.07 L319.6,460.06 L320.1,460.06 L320.6,460.05 L321.1,460.05 L321.6,460.04 L322.1,460.04 L322.6,460.03 L323.1,460.03 L323.6,460.02 L324.1,460.01 L324.6,460.01 L325.1,460.00 L325.6,460.00 L326.1,459.99 L326.6,459.98 L327.1,459.98 L327.6,459.97 L328.1,459.96 L328.6,459.96 L329.1,459.95 L329.6,459.94 L330.1,459.94 L330.6,459.93 L331.1,459.92 L331.6,459.92 L332.1,459.91 L332.6,459.90 L333.1,459.90 L333.6,459.89 L334.1,459.88 L334.6,459.88 L335.1,459.87 L335.6,459.86 L336.1,459.86 L336.6,459.85 L337.1,459.84 L337.6,459.83 L338.1,459.83 L338.6,459.82 L339.1,459.81 L339.6,459.81 L340.1,459.80 L340.6,459.79 L341.1,459.78 L341.6,459.78 L342.1,459.77 L342.6,459.76 L343.1,459.75 L343.6,459.74 L344.1,459.73 L344.6,459.72 L345.1,459.71 L345.6,459.70 L346.1,459.69 L346.6,459.68 L347.1,459.67 L347.6,459.65 L348.1,459.64 L348.6,459.63 L349.1,459.62 L349.6,459.60 L350.1,459.59 L350.6,459.58 L351.1,459.56 L351.6,459.55 L352.1,459.54 L352.6,459.52 L353.1,459.51 L353.6,459.49 L354.1,459.48 L354.6,459.46 L355.1,459.45 L355.6,459.43 L356.1,459.42 L356.6,459.40 L357.1,459.38 L357.6,459.37 L358.1,459.35 L358.6,459.33 L359.1,459.31 L359.6,459.30 L360.1,459.28 L360.6,459.26 L361.1,459.24 L361.6,459.23 L362.1,459.21 L362.6,459.19 L363.1,459.17 L363.6,459.15 L364.1,459.13 L364.6,459.11 L365.1,459.09 L365.6,459.07 L366.1,459.05 L366.6,459.03 L367.1,459.01 L367.6,458.99 L368.1,458.97 L368.6,458.95 L369.1,458.93 L369.6,458.91 L370.1,458.89 L370.6,458.87 L371.1,458.84 L371.6,458.82 L372.1,458.80 L372.6,458.78 L373.1,458.76 L373.6,458.74 L374.1,458.71 L374.6,458.69 L375.1,458.67 L375.6,458.65 L376.1,458.63 L376.6,458.60 L377.1,458.58 L377.6,458.56 L378.1,458.53 L378.6,458.51 L379.1,458.49 L379.6,458.47 L380.1,458.44 L380.6,458.42 L381.1,458.40 L381.6,458.37 L382.1,458.35 L382.6,458.33 L383.1,458.30 L383.6,458.28 L384.1,458.25 L384.6,458.23 L385.1,458.21 L385.6,458.18 L386.1,458.16 L386.6,458.14 L387.1,458.11 L387.6,458.09 L388.1,458.06 L388.6,458.04 L389.1,458.02 L389.6,457.99 L390.1,457.97 L390.6,457.95 L391.1,457.92 L391.6,457.90 L392.1,457.87 L392.6,457.85 L393.1,457.83 L393.6,457.80 L394.1,457.78 L394.6,457.75 L395.1,457.73 L395.6,457.71 L396.1,457.68 L396.6,457.66 L397.1,457.64 L397.6,457.61 L398.1,457.59 L398.6,457.57 L399.1,457.54 L399.6,457.52 L400.1,457.50 L400.6,457.47 L401.1,457.45 L401.6,457.42 L402.1,457.40 L402.6,457.37 L403.1,457.35 L403.6,457.32 L404.1,457.29 L404.6,457.27 L405.1,457.24 L405.6,457.21 L406.1,457.18 L406.6,457.15 L407.1,457.13 L407.6,457.10 L408.1,457.07 L408.6,457.04 L409.1,457.01 L409.6,456.98 L410.1,456.95 L410.6,456.92 L411.1,456.88 L411.6,456.85 L412.1,456.82 L412.6,456.79 L413.1,456.76 L413.6,456.73 L414.1,456.70 L414.6,456.66 L415.1,456.63 L415.6,456.60 L416.1,456.57 L416.6,456.53 L417.1,456.50 L417.6,456.47 L418.1,456.44 L418.6,456.40 L419.1,456.37 L419.6,456.34 L420.1,456.31 L420.6,456.28 L421.1,456.24 L421.6,456.21 L422.1,456.18 L422.6,456.15 L423.1,456.11 L423.6,456.08 L424.1,456.05 L424.6,456.02 L425.1,455.99 L425.6,455.96 L426.1,455.93 L426.6,455.90 L427.1,455.87 L427.6,455.84 L428.1,455.81 L428.6,455.78 L429.1,455.75 L429.6,455.72 L430.1,455.69 L430.6,455.66 L431.1,455.63 L431.6,455.60 L432.1,455.58 L432.6,455.55 L433.1,455.52 L433.6,455.50 L434.1,455.47 L434.6,455.44 L435.1,455.42 L435.6,455.39 L436.1,455.37 L436.6,455.35 L437.1,455.32 L437.6,455.30 L438.1,455.28 L438.6,455.26 L439.1,455.24 L439.6,455.22 L440.1,455.20 L440.6,455.18 L441.1,455.16 L441.6,455.14 L442.1,455.12 L442.6,455.10 L443.1,455.08 L443.6,455.06 L444.1,455.04 L444.6,455.02 L445.1,455.01 L445.6,454.99 L446.1,454.97 L446.6,454.95 L447.1,454.93 L447.6,454.91 L448.1,454.90 L448.6,454.88 L449.1,454.86 L449.6,454.84 L450.1,454.83 L450.6,454.81 L451.1,454.79 L451.6,454.78 L452.1,454.76 L452.6,454.74 L453.1,454.73 L453.6,454.71 L454.1,454.69 L454.6,454.68 L455.1,454.66 L455.6,454.64 L456.1,454.63 L456.6,454.61 L457.1,454.60 L457.6,454.58 L458.1,454.57 L458.6,454.55 L459.1,454.53 L459.6,454.52 L460.1,454.50 L460.6,454.49 L461.1,454.47 L461.6,454.46 L462.1,454.45 L462.6,454.43 L463.1,454.42 L463.6,454.40 L464.1,454.39 L464.6,454.37 L465.1,454.36 L465.6,454.35 L466.1,454.33 L466.6,454.32 L467.1,454.31 L467.6,454.29 L468.1,454.28 L468.6,454.27 L469.1,454.25 L469.6,454.24 L470.1,454.23 L470.6,454.22 L471.1,454.20 L471.6,454.19 L472.1,454.18 L472.6,454.17 L473.1,454.15 L473.6,454.14 L474.1,454.13 L474.6,454.12 L475.1,454.11 L475.6,454.10 L476.1,454.08 L476.6,454.07 L477.1,454.06 L477.6,454.05 L478.1,454.04 L478.6,454.03 L479.1,454.02 L479.6,454.01 L480.1,454.00 L480.6,453.99 L481.1,453.98 L481.6,453.97 L482.1,453.96 L482.6,453.95 L483.1,453.94 L483.6,453.93 L484.1,453.91 L484.6,453.90 L485.1,453.89 L485.6,453.88 L486.1,453.87 L486.6,453.86 L487.1,453.85 L487.6,453.84 L488.1,453.83 L488.6,453.82 L489.1,453.81 L489.6,453.80 L490.1,453.79 L490.6,453.78 L491.1,453.77 L491.6,453.76 L492.1,453.75 L492.6,453.74 L493.1,453.73 L493.6,453.72 L494.1,453.71 L494.6,453.71 L495.1,453.70 L495.6,453.69 L496.1,453.68 L496.6,453.67 L497.1,453.66 L497.6,453.65 L498.1,453.64 L498.6,453.63 L499.1,453.62 L499.6,453.61 L500.1,453.60 L500.6,453.59 L501.1,453.58 L501.6,453.57 L502.1,453.57 L502.6,453.56 L503.1,453.55 L503.6,453.54 L504.1,453.53 L504.6,453.52 L505.1,453.51 L505.6,453.50 L506.1,453.50 L506.6,453.49 L507.1,453.48 L507.6,453.47 L508.1,453.46 L508.6,453.45 L509.1,453.45 L509.6,453.44 L510.1,453.43 L510.6,453.42 L511.1,453.41 L511.6,453.41 L512.1,453.40 L512.6,453.39 L513.1,453.38 L513.6,453.37 L514.1,453.37 L514.6,453.36 L515.1,453.35 L515.6,453.34 L516.1,453.34 L516.6,453.33 L517.1,453.32 L517.6,453.32 L518.1,453.31 L518.6,453.30 L519.1,453.30 L519.6,453.29 L520.1,453.28 L520.6,453.28 L521.1,453.27 L521.6,453.26 L522.1,453.26 L522.6,453.25 L523.1,453.24 L523.6,453.24 L524.1,453.23 L524.6,453.22 L525.1,453.22 L525.6,453.21 L526.1,453.21 L526.6,453.20 L527.1,453.20 L527.6,453.19 L528.1,453.19 L528.6,453.18 L529.1,453.17 L529.6,453.17 L530.1,453.16 L530.6,453.16 L531.1,453.15 L531.6,453.15 L532.1,453.15 L532.6,453.14 L533.1,453.14 L533.6,453.13 L534.1,453.13 L534.6,453.12 L535.1,453.12 L535.6,453.12 L536.1,453.11 L536.6,453.11 L537.1,453.10 L537.6,453.10" fill="none" stroke="#22cccc" stroke-width="2.4" stroke-linejoin="round" stroke-linecap="round" />
<path d="M474.1,453.47 L474.6,453.39 L475.1,453.30 L475.6,453.20 L476.1,453.10 L476.6,452.99 L477.1,452.87 L477.6,452.74 L478.1,452.61 L478.6,452.47 L479.1,452.33 L479.6,452.18 L480.1,452.02 L480.6,451.85 L481.1,451.68 L481.6,451.50 L482.1,451.31 L482.6,451.12 L483.1,450.93 L483.6,450.73 L484.1,450.53 L484.6,450.32 L485.1,450.12 L485.6,449.91 L486.1,449.70 L486.6,449.50 L487.1,449.29 L487.6,449.09 L488.1,448.90 L488.6,448.71 L489.1,448.53 L489.6,448.35 L490.1,448.19 L490.6,448.03 L491.1,447.88 L491.6,447.75 L492.1,447.63 L492.6,447.52 L493.1,447.43 L493.6,447.35 L494.1,447.29 L494.6,447.24 L495.1,447.21 L495.6,447.20 L496.1,447.20 L496.6,447.22 L497.1,447.25 L497.6,447.30 L498.1,447.37 L498.6,447.45 L499.1,447.54 L499.6,447.65 L500.1,447.77 L500.6,447.90 L501.1,448.04 L501.6,448.19 L502.1,448.35 L502.6,448.51 L503.1,448.69 L503.6,448.87 L504.1,449.05 L504.6,449.23 L505.1,449.42 L505.6,449.61 L506.1,449.80 L506.6,449.98 L507.1,450.17 L507.6,450.35 L508.1,450.53 L508.6,450.70 L509.1,450.87 L509.6,451.04 L510.1,451.19 L510.6,451.35 L511.1,451.49 L511.6,451.63 L512.1,451.76 L512.6,451.89 L513.1,452.00 L513.6,452.11 L514.1,452.22 L514.6,452.31 L515.1,452.40 L515.6,452.48" fill="none" stroke="#00a060" stroke-width="2.2" stroke-linejoin="round" stroke-linecap="round" />
<path d="M296.6,457.00 L297.1,457.00 L297.6,457.00 L298.1,457.00 L298.6,457.00 L299.1,457.00 L299.6,457.00 L300.1,456.99 L300.6,456.99 L301.1,456.99 L301.6,456.99 L302.1,456.99 L302.6,456.99 L303.1,456.98 L303.6,456.98 L304.1,456.98 L304.6,456.98 L305.1,456.97 L305.6,456.97 L306.1,456.97 L306.6,456.97 L307.1,456.96 L307.6,456.96 L308.1,456.96 L308.6,456.95 L309.1,456.95 L309.6,456.95 L310.1,456.94 L310.6,456.94 L311.1,456.94 L311.6,456.93 L312.1,456.93 L312.6,456.92 L313.1,456.92 L313.6,456.92 L314.1,456.91 L314.6,456.91 L315.1,456.90 L315.6,456.90 L316.1,456.89 L316.6,456.89 L317.1,456.88 L317.6,456.88 L318.1,456.87 L318.6,456.87 L319.1,456.86 L319.6,456.86 L320.1,456.85 L320.6,456.85 L321.1,456.84 L321.6,456.83 L322.1,456.83 L322.6,456.82 L323.1,456.82 L323.6,456.81 L324.1,456.80 L324.6,456.80 L325.1,456.79 L325.6,456.79 L326.1,456.78 L326.6,456.77 L327.1,456.77 L327.6,456.76 L328.1,456.75 L328.6,456.75 L329.1,456.74 L329.6,456.73 L330.1,456.73 L330.6,456.72 L331.1,456.71 L331.6,456.70 L332.1,456.70 L332.6,456.69 L333.1,456.68 L333.6,456.67 L334.1,456.67 L334.6,456.66 L335.1,456.65 L335.6,456.64 L336.1,456.63 L336.6,456.62 L337.1,456.62 L337.6,456.61 L338.1,456.60 L338.6,456.59 L339.1,456.58 L339.6,456.57 L340.1,456.56 L340.6,456.55 L341.1,456.54 L341.6,456.53 L342.1,456.51 L342.6,456.50 L343.1,456.49 L343.6,456.48 L344.1,456.46 L344.6,456.45 L345.1,456.43 L345.6,456.41 L346.1,456.40 L346.6,456.38 L347.1,456.36 L347.6,456.34 L348.1,456.32 L348.6,456.30 L349.1,456.28 L349.6,456.26 L350.1,456.23 L350.6,456.21 L351.1,456.18 L351.6,456.16 L352.1,456.13 L352.6,456.10 L353.1,456.07 L353.6,456.04 L354.1,456.00 L354.6,455.97 L355.1,455.93 L355.6,455.89 L356.1,455.85 L356.6,455.81 L357.1,455.77 L357.6,455.72 L358.1,455.68 L358.6,455.63 L359.1,455.58 L359.6,455.52 L360.1,455.46 L360.6,455.41 L361.1,455.34 L361.6,455.28 L362.1,455.21 L362.6,455.14 L363.1,455.06 L363.6,454.99 L364.1,454.90 L364.6,454.82 L365.1,454.73 L365.6,454.63 L366.1,454.53 L366.6,454.43 L367.1,454.32 L367.6,454.20 L368.1,454.08 L368.6,453.95 L369.1,453.81 L369.6,453.67 L370.1,453.52 L370.6,453.36 L371.1,453.19 L371.6,453.01 L372.1,452.82 L372.6,452.62 L373.1,452.40 L373.6,452.17 L374.1,451.93 L374.6,451.67 L375.1,451.40 L375.6,451.10 L376.1,450.79 L376.6,450.45 L377.1,450.10 L377.6,449.71 L378.1,449.31 L378.6,448.87 L379.1,448.40 L379.6,447.90 L380.1,447.36 L380.6,446.79 L381.1,446.18 L381.6,445.53 L382.1,444.83 L382.6,444.08 L383.1,443.29 L383.6,442.45 L384.1,441.55 L384.6,440.60 L385.1,439.59 L385.6,438.53 L386.1,437.40 L386.6,436.21 L387.1,434.96 L387.6,433.65 L388.1,432.27 L388.6,430.82 L389.1,429.32 L389.6,427.75 L390.1,426.12 L390.6,424.42 L391.1,422.67 L391.6,420.87 L392.1,419.01 L392.6,417.11 L393.1,415.16 L393.6,413.17 L394.1,411.15 L394.6,409.10 L395.1,407.02 L395.6,404.94 L396.1,402.84 L396.6,400.73 L397.1,398.64 L397.6,396.55 L398.1,394.48 L398.6,392.44 L399.1,390.43 L399.6,388.46 L400.1,386.54 L400.6,384.67 L401.1,382.85 L401.6,381.10 L402.1,379.42 L402.6,377.81 L403.1,376.27 L403.6,374.81 L404.1,373.42 L404.6,372.12 L405.1,370.90 L405.6,369.76 L406.1,368.70 L406.6,367.71 L407.1,366.80 L407.6,365.96 L408.1,365.20 L408.6,364.49 L409.1,363.86 L409.6,363.27 L410.1,362.75 L410.6,362.28 L411.1,361.85 L411.6,361.47 L412.1,361.13 L412.6,360.83 L413.1,360.57 L413.6,360.34 L414.1,360.14 L414.6,359.98 L415.1,359.85 L415.6,359.75 L416.1,359.68 L416.6,359.65 L417.1,359.64 L417.6,359.68 L418.1,359.74 L418.6,359.84 L419.1,359.98 L419.6,360.15 L420.1,360.36 L420.6,360.60 L421.1,360.88 L421.6,361.19 L422.1,361.53 L422.6,361.90 L423.1,362.29 L423.6,362.71 L424.1,363.15 L424.6,363.61 L425.1,364.08 L425.6,364.56 L426.1,365.04 L426.6,365.53 L427.1,366.02 L427.6,366.49 L428.1,366.96 L428.6,367.42 L429.1,367.86 L429.6,368.29 L430.1,368.69 L430.6,369.08 L431.1,369.44 L431.6,369.78 L432.1,370.09 L432.6,370.39 L433.1,370.66 L433.6,370.91 L434.1,371.15 L434.6,371.36 L435.1,371.56 L435.6,371.75 L436.1,371.93 L436.6,372.09 L437.1,372.25 L437.6,372.41 L438.1,372.57 L438.6,372.73 L439.1,372.89 L439.6,373.06 L440.1,373.24 L440.6,373.43 L441.1,373.63 L441.6,373.85 L442.1,374.08 L442.6,374.33 L443.1,374.60 L443.6,374.90 L444.1,375.21 L444.6,375.54 L445.1,375.90 L445.6,376.29 L446.1,376.70 L446.6,377.13 L447.1,377.59 L447.6,378.07 L448.1,378.59 L448.6,379.12 L449.1,379.69 L449.6,380.28 L450.1,380.90 L450.6,381.54 L451.1,382.21 L451.6,382.91 L452.1,383.63 L452.6,384.38 L453.1,385.15 L453.6,385.94 L454.1,386.76 L454.6,387.60 L455.1,388.46 L455.6,389.34 L456.1,390.25 L456.6,391.17 L457.1,392.10 L457.6,393.06 L458.1,394.03 L458.6,395.01 L459.1,396.01 L459.6,397.01 L460.1,398.03 L460.6,399.05 L461.1,400.08 L461.6,401.12 L462.1,402.15 L462.6,403.19 L463.1,404.24 L463.6,405.28 L464.1,406.32 L464.6,407.35 L465.1,408.38 L465.6,409.40 L466.1,410.42 L466.6,411.42 L467.1,412.42 L467.6,413.40 L468.1,414.37 L468.6,415.33 L469.1,416.27 L469.6,417.19 L470.1,418.10 L470.6,418.99 L471.1,419.86 L471.6,420.71 L472.1,421.55 L472.6,422.36 L473.1,423.15 L473.6,423.92 L474.1,424.67 L474.6,425.40 L475.1,426.11 L475.6,426.80 L476.1,427.46 L476.6,428.11 L477.1,428.73 L477.6,429.33 L478.1,429.92 L478.6,430.48 L479.1,431.03 L479.6,431.55 L480.1,432.06 L480.6,432.55 L481.1,433.02 L481.6,433.48 L482.1,433.92 L482.6,434.35 L483.1,434.76 L483.6,435.16 L484.1,435.55 L484.6,435.92 L485.1,436.28 L485.6,436.63 L486.1,436.97 L486.6,437.31 L487.1,437.63 L487.6,437.94 L488.1,438.25 L488.6,438.55 L489.1,438.84 L489.6,439.13 L490.1,439.41 L490.6,439.69 L491.1,439.96 L491.6,440.23 L492.1,440.49 L492.6,440.75 L493.1,441.01 L493.6,441.26 L494.1,441.51 L494.6,441.76 L495.1,442.00 L495.6,442.24 L496.1,442.48 L496.6,442.72 L497.1,442.95 L497.6,443.19 L498.1,443.42 L498.6,443.64 L499.1,443.87 L499.6,444.09 L500.1,444.31 L500.6,444.53 L501.1,444.74 L501.6,444.96 L502.1,445.17 L502.6,445.37 L503.1,445.57 L503.6,445.77 L504.1,445.97 L504.6,446.16 L505.1,446.35 L505.6,446.53 L506.1,446.71 L506.6,446.88 L507.1,447.05 L507.6,447.22 L508.1,447.38 L508.6,447.54 L509.1,447.69 L509.6,447.84 L510.1,447.98 L510.6,448.12 L511.1,448.26 L511.6,448.39 L512.1,448.51 L512.6,448.63 L513.1,448.75 L513.6,448.86 L514.1,448.96 L514.6,449.06 L515.1,449.16 L515.6,449.25 L516.1,449.34 L516.6,449.42 L517.1,449.50 L517.6,449.58 L518.1,449.65 L518.6,449.72 L519.1,449.78 L519.6,449.84 L520.1,449.90 L520.6,449.95 L521.1,450.00 L521.6,450.05 L522.1,450.09 L522.6,450.13 L523.1,450.17 L523.6,450.20 L524.1,450.24 L524.6,450.27 L525.1,450.30 L525.6,450.32 L526.1,450.35 L526.6,450.37 L527.1,450.39 L527.6,450.41 L528.1,450.43 L528.6,450.44 L529.1,450.46 L529.6,450.47 L530.1,450.48 L530.6,450.49 L531.1,450.50 L531.6,450.51 L532.1,450.52 L532.6,450.53 L533.1,450.53 L533.6,450.54 L534.1,450.54 L534.6,450.55 L535.1,450.55 L535.6,450.56 L536.1,450.56 L536.6,450.56 L537.1,450.56 L537.6,450.57" fill="none" stroke="#8a8a00" stroke-width="2.2" stroke-linejoin="round" stroke-linecap="round" />
<path d="M296.6,457.60 L297.1,457.60 L297.6,457.60 L298.1,457.60 L298.6,457.60 L299.1,457.60 L299.6,457.60 L300.1,457.59 L300.6,457.59 L301.1,457.59 L301.6,457.59 L302.1,457.59 L302.6,457.59 L303.1,457.58 L303.6,457.58 L304.1,457.58 L304.6,457.58 L305.1,457.57 L305.6,457.57 L306.1,457.57 L306.6,457.57 L307.1,457.56 L307.6,457.56 L308.1,457.56 L308.6,457.55 L309.1,457.55 L309.6,457.55 L310.1,457.54 L310.6,457.54 L311.1,457.54 L311.6,457.53 L312.1,457.53 L312.6,457.52 L313.1,457.52 L313.6,457.52 L314.1,457.51 L314.6,457.51 L315.1,457.50 L315.6,457.50 L316.1,457.49 L316.6,457.49 L317.1,457.48 L317.6,457.48 L318.1,457.47 L318.6,457.47 L319.1,457.46 L319.6,457.46 L320.1,457.45 L320.6,457.45 L321.1,457.44 L321.6,457.43 L322.1,457.43 L322.6,457.42 L323.1,457.42 L323.6,457.41 L324.1,457.40 L324.6,457.40 L325.1,457.39 L325.6,457.39 L326.1,457.38 L326.6,457.37 L327.1,457.37 L327.6,457.36 L328.1,457.35 L328.6,457.35 L329.1,457.34 L329.6,457.33 L330.1,457.33 L330.6,457.32 L331.1,457.31 L331.6,457.30 L332.1,457.30 L332.6,457.29 L333.1,457.28 L333.6,457.27 L334.1,457.27 L334.6,457.26 L335.1,457.25 L335.6,457.24 L336.1,457.23 L336.6,457.22 L337.1,457.22 L337.6,457.21 L338.1,457.20 L338.6,457.19 L339.1,457.18 L339.6,457.17 L340.1,457.16 L340.6,457.15 L341.1,457.14 L341.6,457.13 L342.1,457.11 L342.6,457.10 L343.1,457.09 L343.6,457.08 L344.1,457.06 L344.6,457.05 L345.1,457.03 L345.6,457.01 L346.1,457.00 L346.6,456.98 L347.1,456.96 L347.6,456.94 L348.1,456.92 L348.6,456.90 L349.1,456.88 L349.6,456.86 L350.1,456.83 L350.6,456.81 L351.1,456.78 L351.6,456.76 L352.1,456.73 L352.6,456.70 L353.1,456.67 L353.6,456.64 L354.1,456.60 L354.6,456.57 L355.1,456.53 L355.6,456.49 L356.1,456.45 L356.6,456.41 L357.1,456.37 L357.6,456.32 L358.1,456.28 L358.6,456.23 L359.1,456.18 L359.6,456.12 L360.1,456.06 L360.6,456.01 L361.1,455.94 L361.6,455.88 L362.1,455.81 L362.6,455.74 L363.1,455.66 L363.6,455.59 L364.1,455.50 L364.6,455.42 L365.1,455.33 L365.6,455.23 L366.1,455.13 L366.6,455.03 L367.1,454.92 L367.6,454.80 L368.1,454.68 L368.6,454.55 L369.1,454.41 L369.6,454.27 L370.1,454.12 L370.6,453.96 L371.1,453.79 L371.6,453.61 L372.1,453.42 L372.6,453.22 L373.1,453.00 L373.6,452.77 L374.1,452.53 L374.6,452.27 L375.1,452.00 L375.6,451.70 L376.1,451.39 L376.6,451.05 L377.1,450.70 L377.6,450.31 L378.1,449.91 L378.6,449.47 L379.1,449.00 L379.6,448.50 L380.1,447.96 L380.6,447.39 L381.1,446.78 L381.6,446.13 L382.1,445.43 L382.6,444.68 L383.1,443.89 L383.6,443.05 L384.1,442.15 L384.6,441.20 L385.1,440.19 L385.6,439.13 L386.1,438.00 L386.6,436.81 L387.1,435.56 L387.6,434.25 L388.1,432.87 L388.6,431.42 L389.1,429.92 L389.6,428.35 L390.1,426.72 L390.6,425.02 L391.1,423.27 L391.6,421.47 L392.1,419.61 L392.6,417.71 L393.1,415.76 L393.6,413.77 L394.1,411.75 L394.6,409.70 L395.1,407.62 L395.6,405.54 L396.1,403.44 L396.6,401.33 L397.1,399.24 L397.6,397.15 L398.1,395.08 L398.6,393.04 L399.1,391.03 L399.6,389.06 L400.1,387.14 L400.6,385.27 L401.1,383.45 L401.6,381.70 L402.1,380.02 L402.6,378.41 L403.1,376.87 L403.6,375.41 L404.1,374.02 L404.6,372.72 L405.1,371.50 L405.6,370.36 L406.1,369.30 L406.6,368.31 L407.1,367.40 L407.6,366.56 L408.1,365.80 L408.6,365.09 L409.1,364.46 L409.6,363.87 L410.1,363.35 L410.6,362.88 L411.1,362.45 L411.6,362.07 L412.1,361.73 L412.6,361.43 L413.1,361.17 L413.6,360.94 L414.1,360.74 L414.6,360.58 L415.1,360.45 L415.6,360.35 L416.1,360.28 L416.6,360.25 L417.1,360.24 L417.6,360.28 L418.1,360.34 L418.6,360.44 L419.1,360.58 L419.6,360.75 L420.1,360.96 L420.6,361.20 L421.1,361.48 L421.6,361.79 L422.1,362.13 L422.6,362.50 L423.1,362.89 L423.6,363.31 L424.1,363.75 L424.6,364.21 L425.1,364.68 L425.6,365.16 L426.1,365.64 L426.6,366.13 L427.1,366.62 L427.6,367.09 L428.1,367.56 L428.6,368.02 L429.1,368.46 L429.6,368.89 L430.1,369.29 L430.6,369.68 L431.1,370.04 L431.6,370.38 L432.1,370.69 L432.6,370.99 L433.1,371.26 L433.6,371.51 L434.1,371.75 L434.6,371.96 L435.1,372.16 L435.6,372.35 L436.1,372.53 L436.6,372.69 L437.1,372.85 L437.6,373.01 L438.1,373.17 L438.6,373.33 L439.1,373.49 L439.6,373.66 L440.1,373.84 L440.6,374.03 L441.1,374.23 L441.6,374.45 L442.1,374.68 L442.6,374.93 L443.1,375.20 L443.6,375.50 L444.1,375.81 L444.6,376.14 L445.1,376.50 L445.6,376.89 L446.1,377.30 L446.6,377.73 L447.1,378.19 L447.6,378.67 L448.1,379.19 L448.6,379.72 L449.1,380.29 L449.6,380.88 L450.1,381.50 L450.6,382.14 L451.1,382.81 L451.6,383.51 L452.1,384.23 L452.6,384.98 L453.1,385.75 L453.6,386.54 L454.1,387.36 L454.6,388.20 L455.1,389.06 L455.6,389.94 L456.1,390.85 L456.6,391.77 L457.1,392.70 L457.6,393.66 L458.1,394.63 L458.6,395.61 L459.1,396.61 L459.6,397.61 L460.1,398.63 L460.6,399.65 L461.1,400.68 L461.6,401.72 L462.1,402.75 L462.6,403.79 L463.1,404.84 L463.6,405.88 L464.1,406.92 L464.6,407.95 L465.1,408.98 L465.6,410.00 L466.1,411.02 L466.6,412.02 L467.1,413.02 L467.6,414.00 L468.1,414.97 L468.6,415.93 L469.1,416.87 L469.6,417.79 L470.1,418.70 L470.6,419.59 L471.1,420.46 L471.6,421.31 L472.1,422.15 L472.6,422.96 L473.1,423.75 L473.6,424.52 L474.1,425.27 L474.6,426.00 L475.1,426.71 L475.6,427.40 L476.1,428.06 L476.6,428.71 L477.1,429.33 L477.6,429.93 L478.1,430.52 L478.6,431.08 L479.1,431.63 L479.6,432.15 L480.1,432.66 L480.6,433.15 L481.1,433.62 L481.6,434.08 L482.1,434.52 L482.6,434.95 L483.1,435.36 L483.6,435.76 L484.1,436.15 L484.6,436.52 L485.1,436.88 L485.6,437.23 L486.1,437.57 L486.6,437.91 L487.1,438.23 L487.6,438.54 L488.1,438.85 L488.6,439.15 L489.1,439.44 L489.6,439.73 L490.1,440.01 L490.6,440.29 L491.1,440.56 L491.6,440.83 L492.1,441.09 L492.6,441.35 L493.1,441.61 L493.6,441.86 L494.1,442.11 L494.6,442.36 L495.1,442.60 L495.6,442.84 L496.1,443.08 L496.6,443.32 L497.1,443.55 L497.6,443.79 L498.1,444.02 L498.6,444.24 L499.1,444.47 L499.6,444.69 L500.1,444.91 L500.6,445.13 L501.1,445.34 L501.6,445.56 L502.1,445.77 L502.6,445.97 L503.1,446.17 L503.6,446.37 L504.1,446.57 L504.6,446.76 L505.1,446.95 L505.6,447.13 L506.1,447.31 L506.6,447.48 L507.1,447.65 L507.6,447.82 L508.1,447.98 L508.6,448.14 L509.1,448.29 L509.6,448.44 L510.1,448.58 L510.6,448.72 L511.1,448.86 L511.6,448.99 L512.1,449.11 L512.6,449.23 L513.1,449.35 L513.6,449.46 L514.1,449.56 L514.6,449.66 L515.1,449.76 L515.6,449.85 L516.1,449.94 L516.6,450.02 L517.1,450.10 L517.6,450.18 L518.1,450.25 L518.6,450.32 L519.1,450.38 L519.6,450.44 L520.1,450.50 L520.6,450.55 L521.1,450.60 L521.6,450.65 L522.1,450.69 L522.6,450.73 L523.1,450.77 L523.6,450.80 L524.1,450.84 L524.6,450.87 L525.1,450.90 L525.6,450.92 L526.1,450.95 L526.6,450.97 L527.1,450.99 L527.6,451.01 L528.1,451.03 L528.6,451.04 L529.1,451.06 L529.6,451.07 L530.1,451.08 L530.6,451.09 L531.1,451.10 L531.6,451.11 L532.1,451.12 L532.6,451.13 L533.1,451.13 L533.6,451.14 L534.1,451.14 L534.6,451.15 L535.1,451.15 L535.6,451.16 L536.1,451.16 L536.6,451.16 L537.1,451.16 L537.6,451.17" fill="none" stroke="#000" stroke-width="2.6" stroke-linejoin="round" stroke-linecap="round" />
<line x1="396.9" y1="360.9" x2="408.2" y2="389.1" stroke="#000" stroke-width="1.0"/>
<line x1="453.6" y1="366" x2="444.9" y2="378.7" stroke="#000" stroke-width="1.0"/>
<text x="378.3" y="352.7" font-family='"Liberation Sans", sans-serif' font-size="10" font-weight="bold" text-anchor="start" stroke="#000" stroke-width="0.22" >S2p<tspan font-size="7.3" dy="2.9" stroke-width="0.12">3/2</tspan></text>
<text x="442.3" y="363.6" font-family='"Liberation Sans", sans-serif' font-size="10" font-weight="bold" text-anchor="start" stroke="#000" stroke-width="0.22" >S2p<tspan font-size="7.3" dy="2.9" stroke-width="0.12">1/2</tspan></text>
<text x="532.0" y="281.6" font-family='"Liberation Sans", sans-serif' font-size="10" font-weight="bold" text-anchor="end" stroke="#000" stroke-width="0.22" >S2p spectrum</text>
<text x="298.3" y="258.6" font-family='"Liberation Serif", serif' font-size="20" font-weight="bold" text-anchor="start" >d</text>
<text x="436.4" y="493.3" font-family='"Liberation Serif", serif' font-size="13.7" font-weight="bold" text-anchor="middle" >Binding energy / eV</text>
<text x="0" y="0" transform="translate(288.5,356.5) rotate(-90)" font-family='"Liberation Serif", serif' font-size="14.0" font-weight="bold" text-anchor="middle">XPS intensity / a.u.</text></svg></body></html>
